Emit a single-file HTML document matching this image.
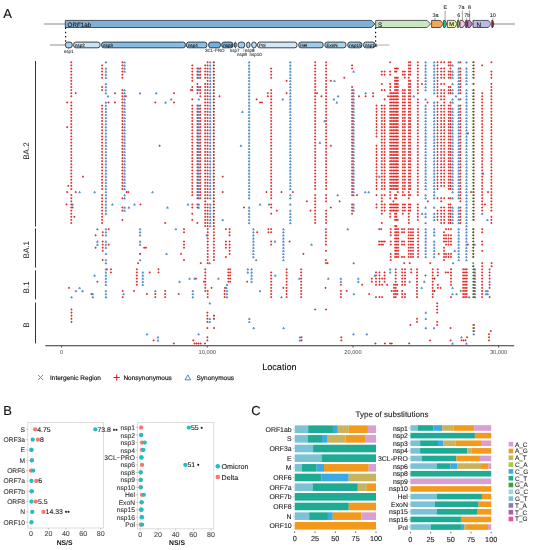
<!DOCTYPE html>
<html><head><meta charset="utf-8"><style>
html,body{margin:0;padding:0;background:#fff;}
svg{display:block;font-family:"Liberation Sans", Arial, sans-serif;text-rendering:geometricPrecision;}
</style></head><body>
<svg width="534" height="550" viewBox="0 0 534 550">
<rect width="534" height="550" fill="#fff"/>
<text x="3.30" y="17.70" font-size="13" fill="#111" text-anchor="start" font-weight="normal"  stroke="#111" stroke-width="0.12">A</text>
<line x1="44" y1="24" x2="65.5" y2="24" stroke="#b5b5b5" stroke-width="1.6"/>
<line x1="493" y1="24" x2="515" y2="24" stroke="#b5b5b5" stroke-width="1.6"/>
<path d="M65.30,20.40 L371.50,20.40 L375.00,23.95 L371.50,27.50 L65.30,27.50 Z" fill="#7db1da" stroke="#262626" stroke-width="0.75" stroke-linejoin="round"/>
<path d="M375.70,20.40 L427.10,20.40 L430.60,23.95 L427.10,27.50 L375.70,27.50 Z" fill="#c9e7c1" stroke="#262626" stroke-width="0.75" stroke-linejoin="round"/>
<path d="M431.60,20.40 L440.40,20.40 L443.40,23.95 L440.40,27.50 L431.60,27.50 Z" fill="#f5a556" stroke="#262626" stroke-width="0.75" stroke-linejoin="round"/>
<path d="M443.60,20.40 L445.10,20.40 L446.60,23.95 L445.10,27.50 L443.60,27.50 Z" fill="#3cbfb8" stroke="#262626" stroke-width="0.75" stroke-linejoin="round"/>
<path d="M447.30,20.40 L454.70,20.40 L457.20,23.95 L454.70,27.50 L447.30,27.50 Z" fill="#eff0a8" stroke="#262626" stroke-width="0.75" stroke-linejoin="round"/>
<path d="M457.40,20.40 L458.40,20.40 L459.60,23.95 L458.40,27.50 L457.40,27.50 Z" fill="#86c84c" stroke="#262626" stroke-width="0.75" stroke-linejoin="round"/>
<path d="M460.00,20.40 L462.90,20.40 L465.40,23.95 L462.90,27.50 L460.00,27.50 Z" fill="#f3c3e3" stroke="#262626" stroke-width="0.75" stroke-linejoin="round"/>
<path d="M465.70,20.40 L466.60,20.40 L467.60,23.95 L466.60,27.50 L465.70,27.50 Z" fill="#9a3a7a" stroke="#262626" stroke-width="0.75" stroke-linejoin="round"/>
<path d="M467.70,20.40 L469.90,20.40 L472.40,23.95 L469.90,27.50 L467.70,27.50 Z" fill="#c47ed2" stroke="#262626" stroke-width="0.75" stroke-linejoin="round"/>
<path d="M473.00,20.40 L488.30,20.40 L491.30,23.95 L488.30,27.50 L473.00,27.50 Z" fill="#bab8e4" stroke="#262626" stroke-width="0.75" stroke-linejoin="round"/>
<path d="M491.80,20.40 L492.80,20.40 L493.80,23.95 L492.80,27.50 L491.80,27.50 Z" fill="#a8263a" stroke="#262626" stroke-width="0.75" stroke-linejoin="round"/>
<text x="67.50" y="26.90" font-size="6.3" fill="#1a1a1a" text-anchor="start" font-weight="normal"  stroke="#1a1a1a" stroke-width="0.12">ORF1ab</text>
<text x="378.00" y="26.60" font-size="6.3" fill="#1a1a1a" text-anchor="start" font-weight="normal"  stroke="#1a1a1a" stroke-width="0.12">S</text>
<text x="449.30" y="26.40" font-size="5.8" fill="#1a1a1a" text-anchor="start" font-weight="normal"  stroke="#1a1a1a" stroke-width="0.12">M</text>
<text x="476.60" y="26.60" font-size="6.3" fill="#1a1a1a" text-anchor="start" font-weight="normal"  stroke="#1a1a1a" stroke-width="0.12">N</text>
<text x="432.40" y="16.80" font-size="5.4" fill="#333" text-anchor="start" font-weight="normal"  stroke="#333" stroke-width="0.12">3a</text>
<text x="443.40" y="9.00" font-size="5.4" fill="#333" text-anchor="start" font-weight="normal"  stroke="#333" stroke-width="0.12">E</text>
<text x="458.40" y="9.00" font-size="5.4" fill="#333" text-anchor="start" font-weight="normal"  stroke="#333" stroke-width="0.12">7a</text>
<text x="468.00" y="9.00" font-size="5.4" fill="#333" text-anchor="start" font-weight="normal"  stroke="#333" stroke-width="0.12">8</text>
<text x="457.20" y="16.80" font-size="5.4" fill="#333" text-anchor="start" font-weight="normal"  stroke="#333" stroke-width="0.12">6</text>
<text x="464.20" y="16.80" font-size="5.4" fill="#333" text-anchor="start" font-weight="normal"  stroke="#333" stroke-width="0.12">7b</text>
<text x="489.80" y="16.80" font-size="5.4" fill="#333" text-anchor="start" font-weight="normal"  stroke="#333" stroke-width="0.12">10</text>
<line x1="445.1" y1="10.5" x2="445.1" y2="20.4" stroke="#333" stroke-width="0.45"/>
<line x1="462.4" y1="10.5" x2="462.4" y2="20.4" stroke="#333" stroke-width="0.45"/>
<line x1="469.6" y1="10.5" x2="469.6" y2="20.4" stroke="#333" stroke-width="0.45"/>
<line x1="435" y1="17.8" x2="435" y2="20.4" stroke="#333" stroke-width="0.45"/>
<line x1="458.5" y1="17.8" x2="458.5" y2="20.4" stroke="#333" stroke-width="0.45"/>
<line x1="466.6" y1="17.8" x2="466.6" y2="20.4" stroke="#333" stroke-width="0.45"/>
<line x1="492.8" y1="17.8" x2="492.8" y2="20.4" stroke="#333" stroke-width="0.45"/>
<line x1="65.6" y1="27.6" x2="65.6" y2="42" stroke="#111" stroke-width="1.2" stroke-dasharray="1.5,2.7"/>
<line x1="375.6" y1="27.6" x2="375.6" y2="42" stroke="#111" stroke-width="1.2" stroke-dasharray="1.5,2.7"/>
<line x1="50" y1="45" x2="65.3" y2="45" stroke="#b5b5b5" stroke-width="1.5"/>
<line x1="375.5" y1="45" x2="389.5" y2="45" stroke="#c8c8c8" stroke-width="1.5"/>
<rect x="65.40" y="42.1" width="6.90" height="5.70" rx="2.2" ry="2.6" fill="#a6d0ee" stroke="#222" stroke-width="0.85"/>
<rect x="73.60" y="42.1" width="26.50" height="5.70" rx="2.2" ry="2.6" fill="#c8e2f6" stroke="#222" stroke-width="0.85"/>
<text x="75.10" y="46.50" font-size="4.5" fill="#1a1a1a" text-anchor="start" font-weight="normal"  stroke="#1a1a1a" stroke-width="0.12">nsp2</text>
<rect x="101.50" y="42.1" width="83.90" height="5.70" rx="2.2" ry="2.6" fill="#84bde6" stroke="#222" stroke-width="0.85"/>
<text x="103.00" y="46.50" font-size="4.5" fill="#1a1a1a" text-anchor="start" font-weight="normal"  stroke="#1a1a1a" stroke-width="0.12">nsp3</text>
<rect x="186.40" y="42.1" width="20.50" height="5.70" rx="2.2" ry="2.6" fill="#88c0e8" stroke="#222" stroke-width="0.85"/>
<text x="187.90" y="46.50" font-size="4.5" fill="#1a1a1a" text-anchor="start" font-weight="normal"  stroke="#1a1a1a" stroke-width="0.12">nsp4</text>
<rect x="208.60" y="42.1" width="11.90" height="5.70" rx="2.2" ry="2.6" fill="#6fb0e4" stroke="#222" stroke-width="0.85"/>
<rect x="221.70" y="42.1" width="11.40" height="5.70" rx="2.2" ry="2.6" fill="#70b0e2" stroke="#222" stroke-width="0.85"/>
<text x="223.20" y="46.50" font-size="4.5" fill="#1a1a1a" text-anchor="start" font-weight="normal"  stroke="#1a1a1a" stroke-width="0.12">nsp6</text>
<rect x="234.40" y="42.1" width="1.90" height="5.70" rx="2.2" ry="2.6" fill="#6fb0e4" stroke="#222" stroke-width="0.85"/>
<rect x="238.00" y="42.1" width="6.80" height="5.70" rx="2.2" ry="2.6" fill="#9cc8ec" stroke="#222" stroke-width="0.85"/>
<rect x="246.60" y="42.1" width="3.40" height="5.70" rx="2.2" ry="2.6" fill="#a6d0ee" stroke="#222" stroke-width="0.85"/>
<rect x="251.60" y="42.1" width="4.80" height="5.70" rx="2.2" ry="2.6" fill="#b6dbf4" stroke="#222" stroke-width="0.85"/>
<rect x="257.50" y="42.1" width="39.50" height="5.70" rx="2.2" ry="2.6" fill="#d2e8f8" stroke="#222" stroke-width="0.85"/>
<text x="259.00" y="46.50" font-size="4.5" fill="#1a1a1a" text-anchor="start" font-weight="normal"  stroke="#1a1a1a" stroke-width="0.12">Pol</text>
<rect x="298.70" y="42.1" width="24.50" height="5.70" rx="2.2" ry="2.6" fill="#9ccbee" stroke="#222" stroke-width="0.85"/>
<text x="300.20" y="46.50" font-size="4.5" fill="#1a1a1a" text-anchor="start" font-weight="normal"  stroke="#1a1a1a" stroke-width="0.12">Hel</text>
<rect x="324.90" y="42.1" width="21.10" height="5.70" rx="2.2" ry="2.6" fill="#a9d4f0" stroke="#222" stroke-width="0.85"/>
<text x="326.40" y="46.50" font-size="4.5" fill="#1a1a1a" text-anchor="start" font-weight="normal"  stroke="#1a1a1a" stroke-width="0.12">ExoN</text>
<rect x="347.70" y="42.1" width="14.30" height="5.70" rx="2.2" ry="2.6" fill="#9cc8ec" stroke="#222" stroke-width="0.85"/>
<text x="349.20" y="46.50" font-size="4.5" fill="#1a1a1a" text-anchor="start" font-weight="normal"  stroke="#1a1a1a" stroke-width="0.12">nsp15</text>
<rect x="363.50" y="42.1" width="11.60" height="5.70" rx="2.2" ry="2.6" fill="#a8d0ee" stroke="#222" stroke-width="0.85"/>
<text x="365.00" y="46.50" font-size="4.5" fill="#1a1a1a" text-anchor="start" font-weight="normal"  stroke="#1a1a1a" stroke-width="0.12">nsp16</text>
<text x="63.80" y="52.70" font-size="4.5" fill="#444" text-anchor="start" font-weight="normal"  stroke="#444" stroke-width="0.12">nsp1</text>
<text x="205.00" y="52.20" font-size="4.5" fill="#444" text-anchor="start" font-weight="normal"  stroke="#444" stroke-width="0.12">3CL-PRO</text>
<text x="229.80" y="52.20" font-size="4.5" fill="#444" text-anchor="start" font-weight="normal"  stroke="#444" stroke-width="0.12">nsp7</text>
<text x="244.80" y="52.20" font-size="4.5" fill="#444" text-anchor="start" font-weight="normal"  stroke="#444" stroke-width="0.12">nsp9</text>
<text x="237.00" y="55.90" font-size="4.5" fill="#444" text-anchor="start" font-weight="normal"  stroke="#444" stroke-width="0.12">nsp8</text>
<text x="249.40" y="55.90" font-size="4.5" fill="#444" text-anchor="start" font-weight="normal"  stroke="#444" stroke-width="0.12">nsp10</text>
<line x1="243.8" y1="47.8" x2="243.8" y2="52.0" stroke="#444" stroke-width="0.4"/><line x1="68.6" y1="47.8" x2="68.6" y2="49.3" stroke="#333" stroke-width="0.4"/>
<line x1="253.6" y1="47.8" x2="253.6" y2="52.0" stroke="#444" stroke-width="0.4"/>
<line x1="35.5" y1="61.0" x2="35.5" y2="226.6" stroke="#333" stroke-width="1"/>
<text x="29.2" y="151.0" font-size="8.1" fill="#222" text-anchor="middle" transform="rotate(-90 29.2 151.0)">BA.2</text>
<line x1="35.5" y1="228.4" x2="35.5" y2="267.6" stroke="#333" stroke-width="1"/>
<text x="29.2" y="249.7" font-size="8.1" fill="#222" text-anchor="middle" transform="rotate(-90 29.2 249.7)">BA.1</text>
<line x1="35.5" y1="270.3" x2="35.5" y2="299.3" stroke="#333" stroke-width="1"/>
<text x="29.2" y="287.3" font-size="8.1" fill="#222" text-anchor="middle" transform="rotate(-90 29.2 287.3)">B.1</text>
<line x1="35.5" y1="302.6" x2="35.5" y2="343.4" stroke="#333" stroke-width="1"/>
<text x="29.2" y="325.0" font-size="8.1" fill="#222" text-anchor="middle" transform="rotate(-90 29.2 325.0)">B</text>
<line x1="45.3" y1="345.8" x2="514.2" y2="345.8" stroke="#333" stroke-width="1.1"/>
<line x1="61.6" y1="345.8" x2="61.6" y2="347.6" stroke="#333" stroke-width="0.8"/>
<text x="61.60" y="353.50" font-size="5.7" fill="#5a5a5a" text-anchor="middle" font-weight="normal"  stroke="#5a5a5a" stroke-width="0.05">0</text>
<line x1="207.3" y1="345.8" x2="207.3" y2="347.6" stroke="#333" stroke-width="0.8"/>
<text x="207.30" y="353.50" font-size="5.7" fill="#5a5a5a" text-anchor="middle" font-weight="normal"  stroke="#5a5a5a" stroke-width="0.05">10,000</text>
<line x1="353.0" y1="345.8" x2="353.0" y2="347.6" stroke="#333" stroke-width="0.8"/>
<text x="353.00" y="353.50" font-size="5.7" fill="#5a5a5a" text-anchor="middle" font-weight="normal"  stroke="#5a5a5a" stroke-width="0.05">20,000</text>
<line x1="498.6" y1="345.8" x2="498.6" y2="347.6" stroke="#333" stroke-width="0.8"/>
<text x="498.60" y="353.50" font-size="5.7" fill="#5a5a5a" text-anchor="middle" font-weight="normal"  stroke="#5a5a5a" stroke-width="0.05">30,000</text>
<text x="279.40" y="370.30" font-size="9.1" fill="#111" text-anchor="middle" font-weight="normal"  stroke="#111" stroke-width="0.12">Location</text>
<g stroke="#4daf4a" stroke-width="1.0"><line x1="38.0" y1="374.9" x2="43.2" y2="380.1"/><line x1="43.2" y1="374.9" x2="38.0" y2="380.1"/></g>
<text x="50.00" y="379.70" font-size="6.5" fill="#111" text-anchor="start" font-weight="normal" stroke="#111" stroke-width="0.15">Intergenic Region</text>
<g stroke="#e41a1c" stroke-width="1.0"><line x1="116.7" y1="374.4" x2="116.7" y2="380.6"/><line x1="113.6" y1="377.5" x2="119.8" y2="377.5"/></g>
<text x="123.40" y="379.70" font-size="6.5" fill="#111" text-anchor="start" font-weight="normal" stroke="#111" stroke-width="0.15">Nonsynonymous</text>
<path d="M187.8,374.9 L190.6,379.8 L185.0,379.8 Z" fill="none" stroke="#377eb8" stroke-width="0.9"/>
<text x="196.50" y="379.70" font-size="6.5" fill="#111" text-anchor="start" font-weight="normal" stroke="#111" stroke-width="0.15">Synonymous</text>
<path d="M70.35,62.30h1.90M71.30,61.35v1.90M70.35,65.39h1.90M71.30,64.44v1.90M70.35,68.48h1.90M71.30,67.53v1.90M70.35,71.57h1.90M71.30,70.62v1.90M70.35,74.66h1.90M71.30,73.71v1.90M70.35,77.75h1.90M71.30,76.80v1.90M70.35,80.84h1.90M71.30,79.89v1.90M70.35,83.93h1.90M71.30,82.98v1.90M70.35,87.02h1.90M71.30,86.07v1.90M70.35,90.11h1.90M71.30,89.16v1.90M70.35,93.20h1.90M71.30,92.25v1.90M70.35,96.29h1.90M71.30,95.34v1.90M70.35,102.47h1.90M71.30,101.52v1.90M70.35,105.56h1.90M71.30,104.61v1.90M70.35,108.65h1.90M71.30,107.70v1.90M70.35,111.74h1.90M71.30,110.79v1.90M70.35,114.83h1.90M71.30,113.88v1.90M70.35,117.92h1.90M71.30,116.97v1.90M70.35,121.01h1.90M71.30,120.06v1.90M70.35,124.10h1.90M71.30,123.15v1.90M70.35,127.19h1.90M71.30,126.24v1.90M70.35,130.28h1.90M71.30,129.33v1.90M70.35,133.37h1.90M71.30,132.42v1.90M70.35,136.46h1.90M71.30,135.51v1.90M70.35,139.55h1.90M71.30,138.60v1.90M70.35,142.64h1.90M71.30,141.69v1.90M70.35,145.73h1.90M71.30,144.78v1.90M70.35,148.82h1.90M71.30,147.87v1.90M70.35,151.91h1.90M71.30,150.96v1.90M70.35,155.00h1.90M71.30,154.05v1.90M70.35,158.09h1.90M71.30,157.14v1.90M70.35,161.18h1.90M71.30,160.23v1.90M70.35,164.27h1.90M71.30,163.32v1.90M70.35,167.36h1.90M71.30,166.41v1.90M70.35,170.45h1.90M71.30,169.50v1.90M70.35,173.54h1.90M71.30,172.59v1.90M70.35,176.63h1.90M71.30,175.68v1.90M70.35,179.72h1.90M71.30,178.77v1.90M70.35,182.81h1.90M71.30,181.86v1.90M70.35,185.90h1.90M71.30,184.95v1.90M70.35,188.99h1.90M71.30,188.04v1.90M70.35,195.17h1.90M71.30,194.22v1.90M70.35,198.26h1.90M71.30,197.31v1.90M70.35,201.35h1.90M71.30,200.40v1.90M70.35,204.44h1.90M71.30,203.49v1.90M70.35,207.53h1.90M71.30,206.58v1.90M70.35,210.62h1.90M71.30,209.67v1.90M70.35,213.71h1.90M71.30,212.76v1.90M70.35,216.80h1.90M71.30,215.85v1.90M70.35,219.89h1.90M71.30,218.94v1.90M70.35,222.98h1.90M71.30,222.03v1.90M66.25,102.47h1.90M67.20,101.52v1.90M66.25,127.19h1.90M67.20,126.24v1.90M66.25,192.08h1.90M67.20,191.13v1.90M74.75,93.20h1.90M75.70,92.25v1.90M74.75,192.08h1.90M75.70,191.13v1.90M67.35,185.90h1.90M68.30,184.95v1.90M82.05,176.63h1.90M83.00,175.68v1.90M65.55,204.44h1.90M66.50,203.49v1.90M71.65,207.53h1.90M72.60,206.58v1.90M73.45,216.80h1.90M74.40,215.85v1.90M101.15,65.39h1.90M102.10,64.44v1.90M101.15,68.48h1.90M102.10,67.53v1.90M101.15,71.57h1.90M102.10,70.62v1.90M101.15,74.66h1.90M102.10,73.71v1.90M101.15,77.75h1.90M102.10,76.80v1.90M101.15,87.02h1.90M102.10,86.07v1.90M101.15,90.11h1.90M102.10,89.16v1.90M101.15,105.56h1.90M102.10,104.61v1.90M101.15,108.65h1.90M102.10,107.70v1.90M101.15,111.74h1.90M102.10,110.79v1.90M101.15,114.83h1.90M102.10,113.88v1.90M101.15,117.92h1.90M102.10,116.97v1.90M101.15,121.01h1.90M102.10,120.06v1.90M101.15,124.10h1.90M102.10,123.15v1.90M101.15,127.19h1.90M102.10,126.24v1.90M101.15,130.28h1.90M102.10,129.33v1.90M101.15,133.37h1.90M102.10,132.42v1.90M101.15,136.46h1.90M102.10,135.51v1.90M101.15,139.55h1.90M102.10,138.60v1.90M101.15,142.64h1.90M102.10,141.69v1.90M101.15,145.73h1.90M102.10,144.78v1.90M101.15,148.82h1.90M102.10,147.87v1.90M101.15,151.91h1.90M102.10,150.96v1.90M101.15,155.00h1.90M102.10,154.05v1.90M101.15,158.09h1.90M102.10,157.14v1.90M101.15,161.18h1.90M102.10,160.23v1.90M101.15,164.27h1.90M102.10,163.32v1.90M101.15,167.36h1.90M102.10,166.41v1.90M101.15,170.45h1.90M102.10,169.50v1.90M101.15,173.54h1.90M102.10,172.59v1.90M101.15,176.63h1.90M102.10,175.68v1.90M101.15,179.72h1.90M102.10,178.77v1.90M101.15,182.81h1.90M102.10,181.86v1.90M101.15,185.90h1.90M102.10,184.95v1.90M101.15,188.99h1.90M102.10,188.04v1.90M101.15,195.17h1.90M102.10,194.22v1.90M101.15,198.26h1.90M102.10,197.31v1.90M101.15,201.35h1.90M102.10,200.40v1.90M101.15,204.44h1.90M102.10,203.49v1.90M101.15,207.53h1.90M102.10,206.58v1.90M101.15,210.62h1.90M102.10,209.67v1.90M101.15,213.71h1.90M102.10,212.76v1.90M101.15,216.80h1.90M102.10,215.85v1.90M101.15,219.89h1.90M102.10,218.94v1.90M101.15,222.98h1.90M102.10,222.03v1.90M107.55,102.47h1.90M108.50,101.52v1.90M114.05,93.20h1.90M115.00,92.25v1.90M114.05,102.47h1.90M115.00,101.52v1.90M121.45,62.30h1.90M122.40,61.35v1.90M121.45,65.39h1.90M122.40,64.44v1.90M121.45,68.48h1.90M122.40,67.53v1.90M121.45,71.57h1.90M122.40,70.62v1.90M121.45,74.66h1.90M122.40,73.71v1.90M121.45,77.75h1.90M122.40,76.80v1.90M121.45,90.11h1.90M122.40,89.16v1.90M121.45,93.20h1.90M122.40,92.25v1.90M121.45,96.29h1.90M122.40,95.34v1.90M121.45,99.38h1.90M122.40,98.43v1.90M121.45,102.47h1.90M122.40,101.52v1.90M121.45,105.56h1.90M122.40,104.61v1.90M121.45,108.65h1.90M122.40,107.70v1.90M121.45,111.74h1.90M122.40,110.79v1.90M121.45,114.83h1.90M122.40,113.88v1.90M121.45,117.92h1.90M122.40,116.97v1.90M121.45,121.01h1.90M122.40,120.06v1.90M121.45,124.10h1.90M122.40,123.15v1.90M121.45,127.19h1.90M122.40,126.24v1.90M121.45,130.28h1.90M122.40,129.33v1.90M121.45,133.37h1.90M122.40,132.42v1.90M121.45,136.46h1.90M122.40,135.51v1.90M121.45,139.55h1.90M122.40,138.60v1.90M121.45,142.64h1.90M122.40,141.69v1.90M121.45,145.73h1.90M122.40,144.78v1.90M121.45,148.82h1.90M122.40,147.87v1.90M121.45,151.91h1.90M122.40,150.96v1.90M121.45,155.00h1.90M122.40,154.05v1.90M121.45,158.09h1.90M122.40,157.14v1.90M121.45,161.18h1.90M122.40,160.23v1.90M121.45,164.27h1.90M122.40,163.32v1.90M121.45,167.36h1.90M122.40,166.41v1.90M121.45,170.45h1.90M122.40,169.50v1.90M121.45,173.54h1.90M122.40,172.59v1.90M121.45,176.63h1.90M122.40,175.68v1.90M121.45,179.72h1.90M122.40,178.77v1.90M121.45,182.81h1.90M122.40,181.86v1.90M121.45,185.90h1.90M122.40,184.95v1.90M121.45,188.99h1.90M122.40,188.04v1.90M121.45,198.26h1.90M122.40,197.31v1.90M121.45,207.53h1.90M122.40,206.58v1.90M121.45,210.62h1.90M122.40,209.67v1.90M121.45,219.89h1.90M122.40,218.94v1.90M124.85,96.29h1.90M125.80,95.34v1.90M125.55,192.08h1.90M126.50,191.13v1.90M127.35,192.08h1.90M128.30,191.13v1.90M139.55,204.44h1.90M140.50,203.49v1.90M154.35,102.47h1.90M155.30,101.52v1.90M173.05,93.20h1.90M174.00,92.25v1.90M173.05,102.47h1.90M174.00,101.52v1.90M158.65,145.73h1.90M159.60,144.78v1.90M164.25,222.98h1.90M165.20,222.03v1.90M242.95,207.53h1.90M243.90,206.58v1.90M191.35,65.39h1.90M192.30,64.44v1.90M191.35,68.48h1.90M192.30,67.53v1.90M191.35,71.57h1.90M192.30,70.62v1.90M191.35,74.66h1.90M192.30,73.71v1.90M191.35,77.75h1.90M192.30,76.80v1.90M191.35,80.84h1.90M192.30,79.89v1.90M191.35,87.02h1.90M192.30,86.07v1.90M191.35,90.11h1.90M192.30,89.16v1.90M191.35,99.38h1.90M192.30,98.43v1.90M191.35,105.56h1.90M192.30,104.61v1.90M191.35,108.65h1.90M192.30,107.70v1.90M191.35,111.74h1.90M192.30,110.79v1.90M191.35,114.83h1.90M192.30,113.88v1.90M191.35,117.92h1.90M192.30,116.97v1.90M191.35,121.01h1.90M192.30,120.06v1.90M191.35,124.10h1.90M192.30,123.15v1.90M191.35,127.19h1.90M192.30,126.24v1.90M191.35,130.28h1.90M192.30,129.33v1.90M191.35,133.37h1.90M192.30,132.42v1.90M191.35,136.46h1.90M192.30,135.51v1.90M191.35,139.55h1.90M192.30,138.60v1.90M191.35,142.64h1.90M192.30,141.69v1.90M191.35,145.73h1.90M192.30,144.78v1.90M191.35,148.82h1.90M192.30,147.87v1.90M191.35,151.91h1.90M192.30,150.96v1.90M191.35,155.00h1.90M192.30,154.05v1.90M191.35,158.09h1.90M192.30,157.14v1.90M191.35,161.18h1.90M192.30,160.23v1.90M191.35,164.27h1.90M192.30,163.32v1.90M191.35,167.36h1.90M192.30,166.41v1.90M191.35,170.45h1.90M192.30,169.50v1.90M191.35,173.54h1.90M192.30,172.59v1.90M191.35,176.63h1.90M192.30,175.68v1.90M191.35,179.72h1.90M192.30,178.77v1.90M191.35,182.81h1.90M192.30,181.86v1.90M191.35,185.90h1.90M192.30,184.95v1.90M191.35,188.99h1.90M192.30,188.04v1.90M191.35,192.08h1.90M192.30,191.13v1.90M191.35,195.17h1.90M192.30,194.22v1.90M191.35,204.44h1.90M192.30,203.49v1.90M191.35,207.53h1.90M192.30,206.58v1.90M191.35,213.71h1.90M192.30,212.76v1.90M191.35,219.89h1.90M192.30,218.94v1.90M189.95,90.11h1.90M190.90,89.16v1.90M196.45,68.48h1.90M197.40,67.53v1.90M196.45,71.57h1.90M197.40,70.62v1.90M196.45,74.66h1.90M197.40,73.71v1.90M196.45,77.75h1.90M197.40,76.80v1.90M196.45,83.93h1.90M197.40,82.98v1.90M196.45,87.02h1.90M197.40,86.07v1.90M196.45,90.11h1.90M197.40,89.16v1.90M196.45,93.20h1.90M197.40,92.25v1.90M196.45,105.56h1.90M197.40,104.61v1.90M196.45,108.65h1.90M197.40,107.70v1.90M196.45,111.74h1.90M197.40,110.79v1.90M196.45,114.83h1.90M197.40,113.88v1.90M196.45,117.92h1.90M197.40,116.97v1.90M196.45,121.01h1.90M197.40,120.06v1.90M196.45,124.10h1.90M197.40,123.15v1.90M196.45,127.19h1.90M197.40,126.24v1.90M196.45,130.28h1.90M197.40,129.33v1.90M196.45,133.37h1.90M197.40,132.42v1.90M196.45,136.46h1.90M197.40,135.51v1.90M196.45,139.55h1.90M197.40,138.60v1.90M196.45,142.64h1.90M197.40,141.69v1.90M196.45,145.73h1.90M197.40,144.78v1.90M196.45,148.82h1.90M197.40,147.87v1.90M196.45,151.91h1.90M197.40,150.96v1.90M196.45,155.00h1.90M197.40,154.05v1.90M196.45,158.09h1.90M197.40,157.14v1.90M196.45,161.18h1.90M197.40,160.23v1.90M196.45,164.27h1.90M197.40,163.32v1.90M196.45,167.36h1.90M197.40,166.41v1.90M196.45,170.45h1.90M197.40,169.50v1.90M196.45,173.54h1.90M197.40,172.59v1.90M196.45,176.63h1.90M197.40,175.68v1.90M196.45,179.72h1.90M197.40,178.77v1.90M196.45,182.81h1.90M197.40,181.86v1.90M196.45,185.90h1.90M197.40,184.95v1.90M196.45,188.99h1.90M197.40,188.04v1.90M196.45,192.08h1.90M197.40,191.13v1.90M196.45,195.17h1.90M197.40,194.22v1.90M196.45,198.26h1.90M197.40,197.31v1.90M196.45,204.44h1.90M197.40,203.49v1.90M196.45,207.53h1.90M197.40,206.58v1.90M196.45,222.98h1.90M197.40,222.03v1.90M199.35,68.48h1.90M200.30,67.53v1.90M199.35,71.57h1.90M200.30,70.62v1.90M199.35,74.66h1.90M200.30,73.71v1.90M199.35,77.75h1.90M200.30,76.80v1.90M199.35,87.02h1.90M200.30,86.07v1.90M199.35,90.11h1.90M200.30,89.16v1.90M199.35,93.20h1.90M200.30,92.25v1.90M199.35,96.29h1.90M200.30,95.34v1.90M199.35,105.56h1.90M200.30,104.61v1.90M199.35,108.65h1.90M200.30,107.70v1.90M199.35,111.74h1.90M200.30,110.79v1.90M199.35,114.83h1.90M200.30,113.88v1.90M199.35,117.92h1.90M200.30,116.97v1.90M199.35,121.01h1.90M200.30,120.06v1.90M199.35,124.10h1.90M200.30,123.15v1.90M199.35,127.19h1.90M200.30,126.24v1.90M199.35,130.28h1.90M200.30,129.33v1.90M199.35,133.37h1.90M200.30,132.42v1.90M199.35,136.46h1.90M200.30,135.51v1.90M199.35,139.55h1.90M200.30,138.60v1.90M199.35,142.64h1.90M200.30,141.69v1.90M199.35,145.73h1.90M200.30,144.78v1.90M199.35,148.82h1.90M200.30,147.87v1.90M199.35,151.91h1.90M200.30,150.96v1.90M199.35,155.00h1.90M200.30,154.05v1.90M199.35,158.09h1.90M200.30,157.14v1.90M199.35,161.18h1.90M200.30,160.23v1.90M199.35,164.27h1.90M200.30,163.32v1.90M199.35,167.36h1.90M200.30,166.41v1.90M199.35,170.45h1.90M200.30,169.50v1.90M199.35,173.54h1.90M200.30,172.59v1.90M199.35,176.63h1.90M200.30,175.68v1.90M199.35,179.72h1.90M200.30,178.77v1.90M199.35,182.81h1.90M200.30,181.86v1.90M199.35,185.90h1.90M200.30,184.95v1.90M199.35,188.99h1.90M200.30,188.04v1.90M199.35,192.08h1.90M200.30,191.13v1.90M199.35,195.17h1.90M200.30,194.22v1.90M199.35,198.26h1.90M200.30,197.31v1.90M204.25,65.39h1.90M205.20,64.44v1.90M204.25,68.48h1.90M205.20,67.53v1.90M204.25,71.57h1.90M205.20,70.62v1.90M204.25,74.66h1.90M205.20,73.71v1.90M204.25,77.75h1.90M205.20,76.80v1.90M204.25,83.93h1.90M205.20,82.98v1.90M204.25,87.02h1.90M205.20,86.07v1.90M204.25,90.11h1.90M205.20,89.16v1.90M204.25,93.20h1.90M205.20,92.25v1.90M204.25,96.29h1.90M205.20,95.34v1.90M204.25,99.38h1.90M205.20,98.43v1.90M204.25,102.47h1.90M205.20,101.52v1.90M204.25,105.56h1.90M205.20,104.61v1.90M204.25,108.65h1.90M205.20,107.70v1.90M204.25,111.74h1.90M205.20,110.79v1.90M204.25,114.83h1.90M205.20,113.88v1.90M204.25,117.92h1.90M205.20,116.97v1.90M204.25,121.01h1.90M205.20,120.06v1.90M204.25,124.10h1.90M205.20,123.15v1.90M204.25,127.19h1.90M205.20,126.24v1.90M204.25,130.28h1.90M205.20,129.33v1.90M204.25,133.37h1.90M205.20,132.42v1.90M204.25,136.46h1.90M205.20,135.51v1.90M204.25,139.55h1.90M205.20,138.60v1.90M204.25,142.64h1.90M205.20,141.69v1.90M204.25,145.73h1.90M205.20,144.78v1.90M204.25,148.82h1.90M205.20,147.87v1.90M204.25,151.91h1.90M205.20,150.96v1.90M204.25,155.00h1.90M205.20,154.05v1.90M204.25,158.09h1.90M205.20,157.14v1.90M204.25,161.18h1.90M205.20,160.23v1.90M204.25,164.27h1.90M205.20,163.32v1.90M204.25,167.36h1.90M205.20,166.41v1.90M204.25,170.45h1.90M205.20,169.50v1.90M204.25,173.54h1.90M205.20,172.59v1.90M204.25,176.63h1.90M205.20,175.68v1.90M204.25,179.72h1.90M205.20,178.77v1.90M204.25,182.81h1.90M205.20,181.86v1.90M204.25,185.90h1.90M205.20,184.95v1.90M204.25,188.99h1.90M205.20,188.04v1.90M204.25,192.08h1.90M205.20,191.13v1.90M204.25,195.17h1.90M205.20,194.22v1.90M204.25,198.26h1.90M205.20,197.31v1.90M204.25,201.35h1.90M205.20,200.40v1.90M204.25,204.44h1.90M205.20,203.49v1.90M204.25,207.53h1.90M205.20,206.58v1.90M204.25,210.62h1.90M205.20,209.67v1.90M204.25,213.71h1.90M205.20,212.76v1.90M204.25,216.80h1.90M205.20,215.85v1.90M204.25,219.89h1.90M205.20,218.94v1.90M204.25,222.98h1.90M205.20,222.03v1.90M204.25,226.07h1.90M205.20,225.12v1.90M206.65,62.30h1.90M207.60,61.35v1.90M206.65,65.39h1.90M207.60,64.44v1.90M206.65,68.48h1.90M207.60,67.53v1.90M206.65,71.57h1.90M207.60,70.62v1.90M206.65,74.66h1.90M207.60,73.71v1.90M206.65,77.75h1.90M207.60,76.80v1.90M206.65,80.84h1.90M207.60,79.89v1.90M206.65,83.93h1.90M207.60,82.98v1.90M206.65,87.02h1.90M207.60,86.07v1.90M206.65,90.11h1.90M207.60,89.16v1.90M206.65,93.20h1.90M207.60,92.25v1.90M206.65,96.29h1.90M207.60,95.34v1.90M206.65,99.38h1.90M207.60,98.43v1.90M206.65,102.47h1.90M207.60,101.52v1.90M206.65,105.56h1.90M207.60,104.61v1.90M206.65,108.65h1.90M207.60,107.70v1.90M206.65,111.74h1.90M207.60,110.79v1.90M206.65,114.83h1.90M207.60,113.88v1.90M206.65,117.92h1.90M207.60,116.97v1.90M206.65,121.01h1.90M207.60,120.06v1.90M206.65,124.10h1.90M207.60,123.15v1.90M206.65,127.19h1.90M207.60,126.24v1.90M206.65,130.28h1.90M207.60,129.33v1.90M206.65,133.37h1.90M207.60,132.42v1.90M206.65,136.46h1.90M207.60,135.51v1.90M206.65,139.55h1.90M207.60,138.60v1.90M206.65,142.64h1.90M207.60,141.69v1.90M206.65,145.73h1.90M207.60,144.78v1.90M206.65,148.82h1.90M207.60,147.87v1.90M206.65,151.91h1.90M207.60,150.96v1.90M206.65,155.00h1.90M207.60,154.05v1.90M206.65,158.09h1.90M207.60,157.14v1.90M206.65,161.18h1.90M207.60,160.23v1.90M206.65,164.27h1.90M207.60,163.32v1.90M206.65,167.36h1.90M207.60,166.41v1.90M206.65,170.45h1.90M207.60,169.50v1.90M206.65,173.54h1.90M207.60,172.59v1.90M206.65,176.63h1.90M207.60,175.68v1.90M206.65,179.72h1.90M207.60,178.77v1.90M206.65,182.81h1.90M207.60,181.86v1.90M206.65,185.90h1.90M207.60,184.95v1.90M206.65,188.99h1.90M207.60,188.04v1.90M206.65,192.08h1.90M207.60,191.13v1.90M206.65,195.17h1.90M207.60,194.22v1.90M206.65,198.26h1.90M207.60,197.31v1.90M206.65,204.44h1.90M207.60,203.49v1.90M206.65,207.53h1.90M207.60,206.58v1.90M206.65,210.62h1.90M207.60,209.67v1.90M206.65,213.71h1.90M207.60,212.76v1.90M206.65,216.80h1.90M207.60,215.85v1.90M206.65,219.89h1.90M207.60,218.94v1.90M206.65,222.98h1.90M207.60,222.03v1.90M206.65,226.07h1.90M207.60,225.12v1.90M218.55,96.29h1.90M219.50,95.34v1.90M221.75,176.63h1.90M222.70,175.68v1.90M221.75,192.08h1.90M222.70,191.13v1.90M270.25,68.48h1.90M271.20,67.53v1.90M270.25,71.57h1.90M271.20,70.62v1.90M270.25,74.66h1.90M271.20,73.71v1.90M270.25,77.75h1.90M271.20,76.80v1.90M270.25,90.11h1.90M271.20,89.16v1.90M270.25,93.20h1.90M271.20,92.25v1.90M270.25,96.29h1.90M271.20,95.34v1.90M270.25,99.38h1.90M271.20,98.43v1.90M270.25,102.47h1.90M271.20,101.52v1.90M270.25,105.56h1.90M271.20,104.61v1.90M270.25,108.65h1.90M271.20,107.70v1.90M270.25,111.74h1.90M271.20,110.79v1.90M270.25,114.83h1.90M271.20,113.88v1.90M270.25,117.92h1.90M271.20,116.97v1.90M270.25,121.01h1.90M271.20,120.06v1.90M270.25,124.10h1.90M271.20,123.15v1.90M270.25,127.19h1.90M271.20,126.24v1.90M270.25,130.28h1.90M271.20,129.33v1.90M270.25,133.37h1.90M271.20,132.42v1.90M270.25,136.46h1.90M271.20,135.51v1.90M270.25,139.55h1.90M271.20,138.60v1.90M270.25,142.64h1.90M271.20,141.69v1.90M270.25,145.73h1.90M271.20,144.78v1.90M270.25,148.82h1.90M271.20,147.87v1.90M270.25,151.91h1.90M271.20,150.96v1.90M270.25,155.00h1.90M271.20,154.05v1.90M270.25,158.09h1.90M271.20,157.14v1.90M270.25,161.18h1.90M271.20,160.23v1.90M270.25,164.27h1.90M271.20,163.32v1.90M270.25,167.36h1.90M271.20,166.41v1.90M270.25,170.45h1.90M271.20,169.50v1.90M270.25,173.54h1.90M271.20,172.59v1.90M270.25,176.63h1.90M271.20,175.68v1.90M270.25,179.72h1.90M271.20,178.77v1.90M270.25,182.81h1.90M271.20,181.86v1.90M270.25,185.90h1.90M271.20,184.95v1.90M270.25,188.99h1.90M271.20,188.04v1.90M270.25,192.08h1.90M271.20,191.13v1.90M270.25,195.17h1.90M271.20,194.22v1.90M270.25,198.26h1.90M271.20,197.31v1.90M270.25,204.44h1.90M271.20,203.49v1.90M270.25,207.53h1.90M271.20,206.58v1.90M270.25,213.71h1.90M271.20,212.76v1.90M266.85,93.20h1.90M267.80,92.25v1.90M266.85,96.29h1.90M267.80,95.34v1.90M255.65,99.38h1.90M256.60,98.43v1.90M259.05,102.47h1.90M260.00,101.52v1.90M261.05,102.47h1.90M262.00,101.52v1.90M285.65,80.84h1.90M286.60,79.89v1.90M285.65,93.20h1.90M286.60,92.25v1.90M314.25,62.30h1.90M315.20,61.35v1.90M314.25,65.39h1.90M315.20,64.44v1.90M314.25,68.48h1.90M315.20,67.53v1.90M314.25,71.57h1.90M315.20,70.62v1.90M314.25,74.66h1.90M315.20,73.71v1.90M314.25,77.75h1.90M315.20,76.80v1.90M314.25,80.84h1.90M315.20,79.89v1.90M314.25,83.93h1.90M315.20,82.98v1.90M314.25,87.02h1.90M315.20,86.07v1.90M314.25,90.11h1.90M315.20,89.16v1.90M314.25,93.20h1.90M315.20,92.25v1.90M314.25,96.29h1.90M315.20,95.34v1.90M314.25,99.38h1.90M315.20,98.43v1.90M314.25,102.47h1.90M315.20,101.52v1.90M314.25,105.56h1.90M315.20,104.61v1.90M314.25,108.65h1.90M315.20,107.70v1.90M314.25,111.74h1.90M315.20,110.79v1.90M314.25,114.83h1.90M315.20,113.88v1.90M314.25,117.92h1.90M315.20,116.97v1.90M314.25,121.01h1.90M315.20,120.06v1.90M314.25,124.10h1.90M315.20,123.15v1.90M314.25,127.19h1.90M315.20,126.24v1.90M314.25,130.28h1.90M315.20,129.33v1.90M314.25,133.37h1.90M315.20,132.42v1.90M314.25,136.46h1.90M315.20,135.51v1.90M314.25,139.55h1.90M315.20,138.60v1.90M314.25,142.64h1.90M315.20,141.69v1.90M314.25,145.73h1.90M315.20,144.78v1.90M314.25,148.82h1.90M315.20,147.87v1.90M314.25,151.91h1.90M315.20,150.96v1.90M314.25,155.00h1.90M315.20,154.05v1.90M314.25,158.09h1.90M315.20,157.14v1.90M314.25,161.18h1.90M315.20,160.23v1.90M314.25,164.27h1.90M315.20,163.32v1.90M314.25,167.36h1.90M315.20,166.41v1.90M314.25,170.45h1.90M315.20,169.50v1.90M314.25,173.54h1.90M315.20,172.59v1.90M314.25,176.63h1.90M315.20,175.68v1.90M314.25,179.72h1.90M315.20,178.77v1.90M314.25,182.81h1.90M315.20,181.86v1.90M314.25,185.90h1.90M315.20,184.95v1.90M314.25,188.99h1.90M315.20,188.04v1.90M314.25,195.17h1.90M315.20,194.22v1.90M314.25,198.26h1.90M315.20,197.31v1.90M314.25,201.35h1.90M315.20,200.40v1.90M314.25,204.44h1.90M315.20,203.49v1.90M314.25,207.53h1.90M315.20,206.58v1.90M314.25,210.62h1.90M315.20,209.67v1.90M314.25,213.71h1.90M315.20,212.76v1.90M314.25,216.80h1.90M315.20,215.85v1.90M314.25,219.89h1.90M315.20,218.94v1.90M314.25,222.98h1.90M315.20,222.03v1.90M316.15,93.20h1.90M317.10,92.25v1.90M320.45,96.29h1.90M321.40,95.34v1.90M325.15,62.30h1.90M326.10,61.35v1.90M325.15,65.39h1.90M326.10,64.44v1.90M325.15,68.48h1.90M326.10,67.53v1.90M325.15,71.57h1.90M326.10,70.62v1.90M325.15,74.66h1.90M326.10,73.71v1.90M325.15,77.75h1.90M326.10,76.80v1.90M325.15,80.84h1.90M326.10,79.89v1.90M325.15,83.93h1.90M326.10,82.98v1.90M325.15,87.02h1.90M326.10,86.07v1.90M325.15,90.11h1.90M326.10,89.16v1.90M325.15,93.20h1.90M326.10,92.25v1.90M325.15,96.29h1.90M326.10,95.34v1.90M325.15,99.38h1.90M326.10,98.43v1.90M325.15,102.47h1.90M326.10,101.52v1.90M325.15,105.56h1.90M326.10,104.61v1.90M325.15,108.65h1.90M326.10,107.70v1.90M325.15,111.74h1.90M326.10,110.79v1.90M325.15,114.83h1.90M326.10,113.88v1.90M325.15,117.92h1.90M326.10,116.97v1.90M325.15,121.01h1.90M326.10,120.06v1.90M325.15,124.10h1.90M326.10,123.15v1.90M325.15,127.19h1.90M326.10,126.24v1.90M325.15,130.28h1.90M326.10,129.33v1.90M325.15,133.37h1.90M326.10,132.42v1.90M325.15,136.46h1.90M326.10,135.51v1.90M325.15,139.55h1.90M326.10,138.60v1.90M325.15,142.64h1.90M326.10,141.69v1.90M325.15,145.73h1.90M326.10,144.78v1.90M325.15,148.82h1.90M326.10,147.87v1.90M325.15,151.91h1.90M326.10,150.96v1.90M325.15,155.00h1.90M326.10,154.05v1.90M325.15,158.09h1.90M326.10,157.14v1.90M325.15,161.18h1.90M326.10,160.23v1.90M325.15,164.27h1.90M326.10,163.32v1.90M325.15,167.36h1.90M326.10,166.41v1.90M325.15,170.45h1.90M326.10,169.50v1.90M325.15,173.54h1.90M326.10,172.59v1.90M325.15,176.63h1.90M326.10,175.68v1.90M325.15,179.72h1.90M326.10,178.77v1.90M325.15,182.81h1.90M326.10,181.86v1.90M325.15,185.90h1.90M326.10,184.95v1.90M325.15,188.99h1.90M326.10,188.04v1.90M325.15,195.17h1.90M326.10,194.22v1.90M325.15,198.26h1.90M326.10,197.31v1.90M325.15,201.35h1.90M326.10,200.40v1.90M325.15,210.62h1.90M326.10,209.67v1.90M325.15,213.71h1.90M326.10,212.76v1.90M325.15,216.80h1.90M326.10,215.85v1.90M325.15,219.89h1.90M326.10,218.94v1.90M325.15,222.98h1.90M326.10,222.03v1.90M329.85,80.84h1.90M330.80,79.89v1.90M329.85,145.73h1.90M330.80,144.78v1.90M329.85,207.53h1.90M330.80,206.58v1.90M343.35,77.75h1.90M344.30,76.80v1.90M265.55,192.08h1.90M266.50,191.13v1.90M280.55,192.08h1.90M281.50,191.13v1.90M291.85,192.08h1.90M292.80,191.13v1.90M275.85,210.62h1.90M276.80,209.67v1.90M305.85,201.35h1.90M306.80,200.40v1.90M309.55,210.62h1.90M310.50,209.67v1.90M338.65,201.35h1.90M339.60,200.40v1.90M351.15,65.39h1.90M352.10,64.44v1.90M351.15,68.48h1.90M352.10,67.53v1.90M351.15,87.02h1.90M352.10,86.07v1.90M351.15,90.11h1.90M352.10,89.16v1.90M351.15,93.20h1.90M352.10,92.25v1.90M351.15,96.29h1.90M352.10,95.34v1.90M351.15,99.38h1.90M352.10,98.43v1.90M351.15,102.47h1.90M352.10,101.52v1.90M351.15,105.56h1.90M352.10,104.61v1.90M351.15,108.65h1.90M352.10,107.70v1.90M351.15,111.74h1.90M352.10,110.79v1.90M351.15,114.83h1.90M352.10,113.88v1.90M351.15,117.92h1.90M352.10,116.97v1.90M351.15,121.01h1.90M352.10,120.06v1.90M351.15,124.10h1.90M352.10,123.15v1.90M351.15,127.19h1.90M352.10,126.24v1.90M351.15,130.28h1.90M352.10,129.33v1.90M351.15,133.37h1.90M352.10,132.42v1.90M351.15,136.46h1.90M352.10,135.51v1.90M351.15,139.55h1.90M352.10,138.60v1.90M351.15,142.64h1.90M352.10,141.69v1.90M351.15,145.73h1.90M352.10,144.78v1.90M351.15,148.82h1.90M352.10,147.87v1.90M351.15,151.91h1.90M352.10,150.96v1.90M351.15,155.00h1.90M352.10,154.05v1.90M351.15,158.09h1.90M352.10,157.14v1.90M351.15,161.18h1.90M352.10,160.23v1.90M351.15,164.27h1.90M352.10,163.32v1.90M351.15,167.36h1.90M352.10,166.41v1.90M351.15,170.45h1.90M352.10,169.50v1.90M351.15,173.54h1.90M352.10,172.59v1.90M351.15,176.63h1.90M352.10,175.68v1.90M351.15,179.72h1.90M352.10,178.77v1.90M351.15,182.81h1.90M352.10,181.86v1.90M351.15,185.90h1.90M352.10,184.95v1.90M351.15,188.99h1.90M352.10,188.04v1.90M351.15,192.08h1.90M352.10,191.13v1.90M351.15,195.17h1.90M352.10,194.22v1.90M351.15,204.44h1.90M352.10,203.49v1.90M351.15,207.53h1.90M352.10,206.58v1.90M351.15,210.62h1.90M352.10,209.67v1.90M351.15,213.71h1.90M352.10,212.76v1.90M356.05,195.17h1.90M357.00,194.22v1.90M358.05,96.29h1.90M359.00,95.34v1.90M364.65,96.29h1.90M365.60,95.34v1.90M372.15,93.20h1.90M373.10,92.25v1.90M372.15,96.29h1.90M373.10,95.34v1.90M375.55,105.56h1.90M376.50,104.61v1.90M375.55,108.65h1.90M376.50,107.70v1.90M375.55,111.74h1.90M376.50,110.79v1.90M375.55,114.83h1.90M376.50,113.88v1.90M375.55,117.92h1.90M376.50,116.97v1.90M375.55,121.01h1.90M376.50,120.06v1.90M375.55,124.10h1.90M376.50,123.15v1.90M375.55,127.19h1.90M376.50,126.24v1.90M375.55,130.28h1.90M376.50,129.33v1.90M375.55,133.37h1.90M376.50,132.42v1.90M375.55,136.46h1.90M376.50,135.51v1.90M375.55,145.73h1.90M376.50,144.78v1.90M375.55,148.82h1.90M376.50,147.87v1.90M375.55,151.91h1.90M376.50,150.96v1.90M375.55,155.00h1.90M376.50,154.05v1.90M375.55,158.09h1.90M376.50,157.14v1.90M375.55,161.18h1.90M376.50,160.23v1.90M375.55,164.27h1.90M376.50,163.32v1.90M375.55,167.36h1.90M376.50,166.41v1.90M375.55,170.45h1.90M376.50,169.50v1.90M375.55,173.54h1.90M376.50,172.59v1.90M375.55,176.63h1.90M376.50,175.68v1.90M375.55,179.72h1.90M376.50,178.77v1.90M375.55,182.81h1.90M376.50,181.86v1.90M375.55,185.90h1.90M376.50,184.95v1.90M375.55,188.99h1.90M376.50,188.04v1.90M375.55,195.17h1.90M376.50,194.22v1.90M375.55,204.44h1.90M376.50,203.49v1.90M375.55,207.53h1.90M376.50,206.58v1.90M380.85,71.57h1.90M381.80,70.62v1.90M380.85,74.66h1.90M381.80,73.71v1.90M380.85,83.93h1.90M381.80,82.98v1.90M380.85,90.11h1.90M381.80,89.16v1.90M380.85,105.56h1.90M381.80,104.61v1.90M380.85,108.65h1.90M381.80,107.70v1.90M380.85,111.74h1.90M381.80,110.79v1.90M380.85,114.83h1.90M381.80,113.88v1.90M380.85,117.92h1.90M381.80,116.97v1.90M380.85,121.01h1.90M381.80,120.06v1.90M380.85,124.10h1.90M381.80,123.15v1.90M380.85,127.19h1.90M381.80,126.24v1.90M380.85,130.28h1.90M381.80,129.33v1.90M380.85,133.37h1.90M381.80,132.42v1.90M380.85,136.46h1.90M381.80,135.51v1.90M380.85,139.55h1.90M381.80,138.60v1.90M380.85,142.64h1.90M381.80,141.69v1.90M380.85,145.73h1.90M381.80,144.78v1.90M380.85,148.82h1.90M381.80,147.87v1.90M380.85,151.91h1.90M381.80,150.96v1.90M380.85,155.00h1.90M381.80,154.05v1.90M380.85,158.09h1.90M381.80,157.14v1.90M380.85,161.18h1.90M381.80,160.23v1.90M380.85,164.27h1.90M381.80,163.32v1.90M380.85,167.36h1.90M381.80,166.41v1.90M380.85,170.45h1.90M381.80,169.50v1.90M380.85,173.54h1.90M381.80,172.59v1.90M380.85,176.63h1.90M381.80,175.68v1.90M380.85,179.72h1.90M381.80,178.77v1.90M380.85,182.81h1.90M381.80,181.86v1.90M380.85,185.90h1.90M381.80,184.95v1.90M380.85,188.99h1.90M381.80,188.04v1.90M380.85,195.17h1.90M381.80,194.22v1.90M380.85,198.26h1.90M381.80,197.31v1.90M380.85,201.35h1.90M381.80,200.40v1.90M380.85,204.44h1.90M381.80,203.49v1.90M380.85,207.53h1.90M381.80,206.58v1.90M380.85,210.62h1.90M381.80,209.67v1.90M380.85,213.71h1.90M381.80,212.76v1.90M380.85,222.98h1.90M381.80,222.03v1.90M383.65,71.57h1.90M384.60,70.62v1.90M383.65,74.66h1.90M384.60,73.71v1.90M383.65,90.11h1.90M384.60,89.16v1.90M383.65,99.38h1.90M384.60,98.43v1.90M383.65,105.56h1.90M384.60,104.61v1.90M383.65,108.65h1.90M384.60,107.70v1.90M383.65,111.74h1.90M384.60,110.79v1.90M383.65,114.83h1.90M384.60,113.88v1.90M383.65,117.92h1.90M384.60,116.97v1.90M383.65,121.01h1.90M384.60,120.06v1.90M383.65,124.10h1.90M384.60,123.15v1.90M383.65,127.19h1.90M384.60,126.24v1.90M383.65,130.28h1.90M384.60,129.33v1.90M383.65,133.37h1.90M384.60,132.42v1.90M383.65,136.46h1.90M384.60,135.51v1.90M383.65,139.55h1.90M384.60,138.60v1.90M383.65,142.64h1.90M384.60,141.69v1.90M383.65,145.73h1.90M384.60,144.78v1.90M383.65,148.82h1.90M384.60,147.87v1.90M383.65,151.91h1.90M384.60,150.96v1.90M383.65,155.00h1.90M384.60,154.05v1.90M383.65,158.09h1.90M384.60,157.14v1.90M383.65,161.18h1.90M384.60,160.23v1.90M383.65,164.27h1.90M384.60,163.32v1.90M383.65,167.36h1.90M384.60,166.41v1.90M383.65,170.45h1.90M384.60,169.50v1.90M383.65,173.54h1.90M384.60,172.59v1.90M383.65,176.63h1.90M384.60,175.68v1.90M383.65,179.72h1.90M384.60,178.77v1.90M383.65,182.81h1.90M384.60,181.86v1.90M383.65,185.90h1.90M384.60,184.95v1.90M383.65,188.99h1.90M384.60,188.04v1.90M383.65,195.17h1.90M384.60,194.22v1.90M383.65,204.44h1.90M384.60,203.49v1.90M383.65,207.53h1.90M384.60,206.58v1.90M383.65,210.62h1.90M384.60,209.67v1.90M387.05,96.29h1.90M388.00,95.34v1.90M389.25,62.30h1.90M390.20,61.35v1.90M389.25,71.57h1.90M390.20,70.62v1.90M389.25,74.66h1.90M390.20,73.71v1.90M389.25,83.93h1.90M390.20,82.98v1.90M389.25,87.02h1.90M390.20,86.07v1.90M389.25,90.11h1.90M390.20,89.16v1.90M389.25,93.20h1.90M390.20,92.25v1.90M389.25,96.29h1.90M390.20,95.34v1.90M389.25,99.38h1.90M390.20,98.43v1.90M389.25,102.47h1.90M390.20,101.52v1.90M389.25,105.56h1.90M390.20,104.61v1.90M389.25,108.65h1.90M390.20,107.70v1.90M389.25,111.74h1.90M390.20,110.79v1.90M389.25,114.83h1.90M390.20,113.88v1.90M389.25,117.92h1.90M390.20,116.97v1.90M389.25,121.01h1.90M390.20,120.06v1.90M389.25,124.10h1.90M390.20,123.15v1.90M389.25,127.19h1.90M390.20,126.24v1.90M389.25,130.28h1.90M390.20,129.33v1.90M389.25,133.37h1.90M390.20,132.42v1.90M389.25,136.46h1.90M390.20,135.51v1.90M389.25,139.55h1.90M390.20,138.60v1.90M389.25,142.64h1.90M390.20,141.69v1.90M389.25,145.73h1.90M390.20,144.78v1.90M389.25,148.82h1.90M390.20,147.87v1.90M389.25,151.91h1.90M390.20,150.96v1.90M389.25,155.00h1.90M390.20,154.05v1.90M389.25,158.09h1.90M390.20,157.14v1.90M389.25,161.18h1.90M390.20,160.23v1.90M389.25,164.27h1.90M390.20,163.32v1.90M389.25,167.36h1.90M390.20,166.41v1.90M389.25,170.45h1.90M390.20,169.50v1.90M389.25,173.54h1.90M390.20,172.59v1.90M389.25,176.63h1.90M390.20,175.68v1.90M389.25,179.72h1.90M390.20,178.77v1.90M389.25,182.81h1.90M390.20,181.86v1.90M389.25,185.90h1.90M390.20,184.95v1.90M389.25,188.99h1.90M390.20,188.04v1.90M389.25,192.08h1.90M390.20,191.13v1.90M389.25,195.17h1.90M390.20,194.22v1.90M389.25,198.26h1.90M390.20,197.31v1.90M389.25,204.44h1.90M390.20,203.49v1.90M389.25,207.53h1.90M390.20,206.58v1.90M389.25,210.62h1.90M390.20,209.67v1.90M389.25,213.71h1.90M390.20,212.76v1.90M389.25,216.80h1.90M390.20,215.85v1.90M390.85,93.20h1.90M391.80,92.25v1.90M390.85,96.29h1.90M391.80,95.34v1.90M390.85,99.38h1.90M391.80,98.43v1.90M390.85,102.47h1.90M391.80,101.52v1.90M390.85,105.56h1.90M391.80,104.61v1.90M390.85,108.65h1.90M391.80,107.70v1.90M390.85,111.74h1.90M391.80,110.79v1.90M390.85,114.83h1.90M391.80,113.88v1.90M390.85,117.92h1.90M391.80,116.97v1.90M390.85,121.01h1.90M391.80,120.06v1.90M390.85,124.10h1.90M391.80,123.15v1.90M390.85,127.19h1.90M391.80,126.24v1.90M390.85,130.28h1.90M391.80,129.33v1.90M390.85,133.37h1.90M391.80,132.42v1.90M390.85,136.46h1.90M391.80,135.51v1.90M390.85,139.55h1.90M391.80,138.60v1.90M390.85,142.64h1.90M391.80,141.69v1.90M390.85,145.73h1.90M391.80,144.78v1.90M390.85,148.82h1.90M391.80,147.87v1.90M390.85,151.91h1.90M391.80,150.96v1.90M390.85,155.00h1.90M391.80,154.05v1.90M390.85,158.09h1.90M391.80,157.14v1.90M390.85,161.18h1.90M391.80,160.23v1.90M390.85,164.27h1.90M391.80,163.32v1.90M390.85,167.36h1.90M391.80,166.41v1.90M390.85,170.45h1.90M391.80,169.50v1.90M390.85,173.54h1.90M391.80,172.59v1.90M390.85,176.63h1.90M391.80,175.68v1.90M390.85,179.72h1.90M391.80,178.77v1.90M390.85,182.81h1.90M391.80,181.86v1.90M390.85,185.90h1.90M391.80,184.95v1.90M390.85,188.99h1.90M391.80,188.04v1.90M390.85,204.44h1.90M391.80,203.49v1.90M390.85,207.53h1.90M391.80,206.58v1.90M390.85,210.62h1.90M391.80,209.67v1.90M392.45,93.20h1.90M393.40,92.25v1.90M392.45,96.29h1.90M393.40,95.34v1.90M392.45,99.38h1.90M393.40,98.43v1.90M392.45,102.47h1.90M393.40,101.52v1.90M392.45,105.56h1.90M393.40,104.61v1.90M392.45,108.65h1.90M393.40,107.70v1.90M392.45,111.74h1.90M393.40,110.79v1.90M392.45,114.83h1.90M393.40,113.88v1.90M392.45,117.92h1.90M393.40,116.97v1.90M392.45,121.01h1.90M393.40,120.06v1.90M392.45,124.10h1.90M393.40,123.15v1.90M392.45,127.19h1.90M393.40,126.24v1.90M392.45,130.28h1.90M393.40,129.33v1.90M392.45,133.37h1.90M393.40,132.42v1.90M392.45,136.46h1.90M393.40,135.51v1.90M392.45,139.55h1.90M393.40,138.60v1.90M392.45,142.64h1.90M393.40,141.69v1.90M392.45,145.73h1.90M393.40,144.78v1.90M392.45,148.82h1.90M393.40,147.87v1.90M392.45,151.91h1.90M393.40,150.96v1.90M392.45,155.00h1.90M393.40,154.05v1.90M392.45,158.09h1.90M393.40,157.14v1.90M392.45,161.18h1.90M393.40,160.23v1.90M392.45,164.27h1.90M393.40,163.32v1.90M392.45,167.36h1.90M393.40,166.41v1.90M392.45,170.45h1.90M393.40,169.50v1.90M392.45,173.54h1.90M393.40,172.59v1.90M392.45,176.63h1.90M393.40,175.68v1.90M392.45,179.72h1.90M393.40,178.77v1.90M392.45,182.81h1.90M393.40,181.86v1.90M392.45,185.90h1.90M393.40,184.95v1.90M392.45,188.99h1.90M393.40,188.04v1.90M392.45,201.35h1.90M393.40,200.40v1.90M392.45,204.44h1.90M393.40,203.49v1.90M392.45,207.53h1.90M393.40,206.58v1.90M392.45,210.62h1.90M393.40,209.67v1.90M394.05,68.48h1.90M395.00,67.53v1.90M394.05,71.57h1.90M395.00,70.62v1.90M394.05,77.75h1.90M395.00,76.80v1.90M394.05,80.84h1.90M395.00,79.89v1.90M394.05,83.93h1.90M395.00,82.98v1.90M394.05,87.02h1.90M395.00,86.07v1.90M394.05,90.11h1.90M395.00,89.16v1.90M394.05,93.20h1.90M395.00,92.25v1.90M394.05,96.29h1.90M395.00,95.34v1.90M394.05,99.38h1.90M395.00,98.43v1.90M394.05,102.47h1.90M395.00,101.52v1.90M394.05,105.56h1.90M395.00,104.61v1.90M394.05,108.65h1.90M395.00,107.70v1.90M394.05,111.74h1.90M395.00,110.79v1.90M394.05,114.83h1.90M395.00,113.88v1.90M394.05,117.92h1.90M395.00,116.97v1.90M394.05,121.01h1.90M395.00,120.06v1.90M394.05,124.10h1.90M395.00,123.15v1.90M394.05,127.19h1.90M395.00,126.24v1.90M394.05,130.28h1.90M395.00,129.33v1.90M394.05,133.37h1.90M395.00,132.42v1.90M394.05,136.46h1.90M395.00,135.51v1.90M394.05,139.55h1.90M395.00,138.60v1.90M394.05,142.64h1.90M395.00,141.69v1.90M394.05,145.73h1.90M395.00,144.78v1.90M394.05,148.82h1.90M395.00,147.87v1.90M394.05,151.91h1.90M395.00,150.96v1.90M394.05,155.00h1.90M395.00,154.05v1.90M394.05,158.09h1.90M395.00,157.14v1.90M394.05,161.18h1.90M395.00,160.23v1.90M394.05,164.27h1.90M395.00,163.32v1.90M394.05,167.36h1.90M395.00,166.41v1.90M394.05,170.45h1.90M395.00,169.50v1.90M394.05,173.54h1.90M395.00,172.59v1.90M394.05,176.63h1.90M395.00,175.68v1.90M394.05,179.72h1.90M395.00,178.77v1.90M394.05,182.81h1.90M395.00,181.86v1.90M394.05,185.90h1.90M395.00,184.95v1.90M394.05,188.99h1.90M395.00,188.04v1.90M394.05,195.17h1.90M395.00,194.22v1.90M394.05,198.26h1.90M395.00,197.31v1.90M394.05,204.44h1.90M395.00,203.49v1.90M394.05,207.53h1.90M395.00,206.58v1.90M394.05,210.62h1.90M395.00,209.67v1.90M394.05,213.71h1.90M395.00,212.76v1.90M394.05,216.80h1.90M395.00,215.85v1.90M394.05,219.89h1.90M395.00,218.94v1.90M395.45,68.48h1.90M396.40,67.53v1.90M395.45,71.57h1.90M396.40,70.62v1.90M395.45,77.75h1.90M396.40,76.80v1.90M395.45,80.84h1.90M396.40,79.89v1.90M395.45,83.93h1.90M396.40,82.98v1.90M395.45,87.02h1.90M396.40,86.07v1.90M395.45,90.11h1.90M396.40,89.16v1.90M395.45,93.20h1.90M396.40,92.25v1.90M395.45,96.29h1.90M396.40,95.34v1.90M395.45,99.38h1.90M396.40,98.43v1.90M395.45,102.47h1.90M396.40,101.52v1.90M395.45,105.56h1.90M396.40,104.61v1.90M395.45,108.65h1.90M396.40,107.70v1.90M395.45,111.74h1.90M396.40,110.79v1.90M395.45,114.83h1.90M396.40,113.88v1.90M395.45,117.92h1.90M396.40,116.97v1.90M395.45,121.01h1.90M396.40,120.06v1.90M395.45,124.10h1.90M396.40,123.15v1.90M395.45,127.19h1.90M396.40,126.24v1.90M395.45,130.28h1.90M396.40,129.33v1.90M395.45,133.37h1.90M396.40,132.42v1.90M395.45,136.46h1.90M396.40,135.51v1.90M395.45,139.55h1.90M396.40,138.60v1.90M395.45,142.64h1.90M396.40,141.69v1.90M395.45,145.73h1.90M396.40,144.78v1.90M395.45,148.82h1.90M396.40,147.87v1.90M395.45,151.91h1.90M396.40,150.96v1.90M395.45,155.00h1.90M396.40,154.05v1.90M395.45,158.09h1.90M396.40,157.14v1.90M395.45,161.18h1.90M396.40,160.23v1.90M395.45,164.27h1.90M396.40,163.32v1.90M395.45,167.36h1.90M396.40,166.41v1.90M395.45,170.45h1.90M396.40,169.50v1.90M395.45,173.54h1.90M396.40,172.59v1.90M395.45,176.63h1.90M396.40,175.68v1.90M395.45,179.72h1.90M396.40,178.77v1.90M395.45,182.81h1.90M396.40,181.86v1.90M395.45,185.90h1.90M396.40,184.95v1.90M395.45,188.99h1.90M396.40,188.04v1.90M395.45,195.17h1.90M396.40,194.22v1.90M395.45,198.26h1.90M396.40,197.31v1.90M395.45,204.44h1.90M396.40,203.49v1.90M395.45,207.53h1.90M396.40,206.58v1.90M395.45,210.62h1.90M396.40,209.67v1.90M395.45,213.71h1.90M396.40,212.76v1.90M395.45,216.80h1.90M396.40,215.85v1.90M395.45,219.89h1.90M396.40,218.94v1.90M395.45,226.07h1.90M396.40,225.12v1.90M396.85,68.48h1.90M397.80,67.53v1.90M396.85,77.75h1.90M397.80,76.80v1.90M396.85,80.84h1.90M397.80,79.89v1.90M396.85,83.93h1.90M397.80,82.98v1.90M396.85,87.02h1.90M397.80,86.07v1.90M396.85,90.11h1.90M397.80,89.16v1.90M396.85,93.20h1.90M397.80,92.25v1.90M396.85,96.29h1.90M397.80,95.34v1.90M396.85,99.38h1.90M397.80,98.43v1.90M396.85,102.47h1.90M397.80,101.52v1.90M396.85,105.56h1.90M397.80,104.61v1.90M396.85,108.65h1.90M397.80,107.70v1.90M396.85,111.74h1.90M397.80,110.79v1.90M396.85,114.83h1.90M397.80,113.88v1.90M396.85,117.92h1.90M397.80,116.97v1.90M396.85,121.01h1.90M397.80,120.06v1.90M396.85,124.10h1.90M397.80,123.15v1.90M396.85,127.19h1.90M397.80,126.24v1.90M396.85,130.28h1.90M397.80,129.33v1.90M396.85,133.37h1.90M397.80,132.42v1.90M396.85,136.46h1.90M397.80,135.51v1.90M396.85,139.55h1.90M397.80,138.60v1.90M396.85,142.64h1.90M397.80,141.69v1.90M396.85,145.73h1.90M397.80,144.78v1.90M396.85,148.82h1.90M397.80,147.87v1.90M396.85,151.91h1.90M397.80,150.96v1.90M396.85,155.00h1.90M397.80,154.05v1.90M396.85,158.09h1.90M397.80,157.14v1.90M396.85,161.18h1.90M397.80,160.23v1.90M396.85,164.27h1.90M397.80,163.32v1.90M396.85,167.36h1.90M397.80,166.41v1.90M396.85,170.45h1.90M397.80,169.50v1.90M396.85,173.54h1.90M397.80,172.59v1.90M396.85,176.63h1.90M397.80,175.68v1.90M396.85,179.72h1.90M397.80,178.77v1.90M396.85,182.81h1.90M397.80,181.86v1.90M396.85,185.90h1.90M397.80,184.95v1.90M396.85,188.99h1.90M397.80,188.04v1.90M396.85,192.08h1.90M397.80,191.13v1.90M396.85,204.44h1.90M397.80,203.49v1.90M396.85,207.53h1.90M397.80,206.58v1.90M396.85,210.62h1.90M397.80,209.67v1.90M396.85,219.89h1.90M397.80,218.94v1.90M401.85,71.57h1.90M402.80,70.62v1.90M401.85,74.66h1.90M402.80,73.71v1.90M401.85,90.11h1.90M402.80,89.16v1.90M401.85,93.20h1.90M402.80,92.25v1.90M401.85,96.29h1.90M402.80,95.34v1.90M401.85,99.38h1.90M402.80,98.43v1.90M401.85,102.47h1.90M402.80,101.52v1.90M401.85,105.56h1.90M402.80,104.61v1.90M401.85,108.65h1.90M402.80,107.70v1.90M401.85,111.74h1.90M402.80,110.79v1.90M401.85,114.83h1.90M402.80,113.88v1.90M401.85,117.92h1.90M402.80,116.97v1.90M401.85,121.01h1.90M402.80,120.06v1.90M401.85,124.10h1.90M402.80,123.15v1.90M401.85,127.19h1.90M402.80,126.24v1.90M401.85,130.28h1.90M402.80,129.33v1.90M401.85,133.37h1.90M402.80,132.42v1.90M401.85,136.46h1.90M402.80,135.51v1.90M401.85,139.55h1.90M402.80,138.60v1.90M401.85,142.64h1.90M402.80,141.69v1.90M401.85,145.73h1.90M402.80,144.78v1.90M401.85,148.82h1.90M402.80,147.87v1.90M401.85,151.91h1.90M402.80,150.96v1.90M401.85,155.00h1.90M402.80,154.05v1.90M401.85,158.09h1.90M402.80,157.14v1.90M401.85,161.18h1.90M402.80,160.23v1.90M401.85,164.27h1.90M402.80,163.32v1.90M401.85,167.36h1.90M402.80,166.41v1.90M401.85,170.45h1.90M402.80,169.50v1.90M401.85,173.54h1.90M402.80,172.59v1.90M401.85,176.63h1.90M402.80,175.68v1.90M401.85,179.72h1.90M402.80,178.77v1.90M401.85,182.81h1.90M402.80,181.86v1.90M401.85,185.90h1.90M402.80,184.95v1.90M401.85,188.99h1.90M402.80,188.04v1.90M401.85,192.08h1.90M402.80,191.13v1.90M401.85,195.17h1.90M402.80,194.22v1.90M401.85,204.44h1.90M402.80,203.49v1.90M401.85,207.53h1.90M402.80,206.58v1.90M401.85,210.62h1.90M402.80,209.67v1.90M401.85,213.71h1.90M402.80,212.76v1.90M403.85,71.57h1.90M404.80,70.62v1.90M403.85,74.66h1.90M404.80,73.71v1.90M403.85,77.75h1.90M404.80,76.80v1.90M403.85,90.11h1.90M404.80,89.16v1.90M403.85,93.20h1.90M404.80,92.25v1.90M403.85,96.29h1.90M404.80,95.34v1.90M403.85,99.38h1.90M404.80,98.43v1.90M403.85,102.47h1.90M404.80,101.52v1.90M403.85,105.56h1.90M404.80,104.61v1.90M403.85,108.65h1.90M404.80,107.70v1.90M403.85,111.74h1.90M404.80,110.79v1.90M403.85,114.83h1.90M404.80,113.88v1.90M403.85,117.92h1.90M404.80,116.97v1.90M403.85,121.01h1.90M404.80,120.06v1.90M403.85,124.10h1.90M404.80,123.15v1.90M403.85,127.19h1.90M404.80,126.24v1.90M403.85,130.28h1.90M404.80,129.33v1.90M403.85,133.37h1.90M404.80,132.42v1.90M403.85,136.46h1.90M404.80,135.51v1.90M403.85,139.55h1.90M404.80,138.60v1.90M403.85,142.64h1.90M404.80,141.69v1.90M403.85,145.73h1.90M404.80,144.78v1.90M403.85,148.82h1.90M404.80,147.87v1.90M403.85,151.91h1.90M404.80,150.96v1.90M403.85,155.00h1.90M404.80,154.05v1.90M403.85,158.09h1.90M404.80,157.14v1.90M403.85,161.18h1.90M404.80,160.23v1.90M403.85,164.27h1.90M404.80,163.32v1.90M403.85,167.36h1.90M404.80,166.41v1.90M403.85,170.45h1.90M404.80,169.50v1.90M403.85,173.54h1.90M404.80,172.59v1.90M403.85,176.63h1.90M404.80,175.68v1.90M403.85,179.72h1.90M404.80,178.77v1.90M403.85,182.81h1.90M404.80,181.86v1.90M403.85,185.90h1.90M404.80,184.95v1.90M403.85,188.99h1.90M404.80,188.04v1.90M403.85,195.17h1.90M404.80,194.22v1.90M403.85,204.44h1.90M404.80,203.49v1.90M403.85,207.53h1.90M404.80,206.58v1.90M403.85,210.62h1.90M404.80,209.67v1.90M407.85,62.30h1.90M408.80,61.35v1.90M407.85,65.39h1.90M408.80,64.44v1.90M407.85,68.48h1.90M408.80,67.53v1.90M407.85,71.57h1.90M408.80,70.62v1.90M407.85,74.66h1.90M408.80,73.71v1.90M407.85,77.75h1.90M408.80,76.80v1.90M407.85,80.84h1.90M408.80,79.89v1.90M407.85,83.93h1.90M408.80,82.98v1.90M407.85,87.02h1.90M408.80,86.07v1.90M407.85,90.11h1.90M408.80,89.16v1.90M407.85,93.20h1.90M408.80,92.25v1.90M407.85,96.29h1.90M408.80,95.34v1.90M407.85,99.38h1.90M408.80,98.43v1.90M407.85,102.47h1.90M408.80,101.52v1.90M407.85,105.56h1.90M408.80,104.61v1.90M407.85,108.65h1.90M408.80,107.70v1.90M407.85,111.74h1.90M408.80,110.79v1.90M407.85,114.83h1.90M408.80,113.88v1.90M407.85,117.92h1.90M408.80,116.97v1.90M407.85,121.01h1.90M408.80,120.06v1.90M407.85,124.10h1.90M408.80,123.15v1.90M407.85,127.19h1.90M408.80,126.24v1.90M407.85,130.28h1.90M408.80,129.33v1.90M407.85,133.37h1.90M408.80,132.42v1.90M407.85,136.46h1.90M408.80,135.51v1.90M407.85,139.55h1.90M408.80,138.60v1.90M407.85,142.64h1.90M408.80,141.69v1.90M407.85,145.73h1.90M408.80,144.78v1.90M407.85,148.82h1.90M408.80,147.87v1.90M407.85,151.91h1.90M408.80,150.96v1.90M407.85,155.00h1.90M408.80,154.05v1.90M407.85,158.09h1.90M408.80,157.14v1.90M407.85,161.18h1.90M408.80,160.23v1.90M407.85,164.27h1.90M408.80,163.32v1.90M407.85,167.36h1.90M408.80,166.41v1.90M407.85,170.45h1.90M408.80,169.50v1.90M407.85,173.54h1.90M408.80,172.59v1.90M407.85,176.63h1.90M408.80,175.68v1.90M407.85,179.72h1.90M408.80,178.77v1.90M407.85,182.81h1.90M408.80,181.86v1.90M407.85,185.90h1.90M408.80,184.95v1.90M407.85,188.99h1.90M408.80,188.04v1.90M407.85,192.08h1.90M408.80,191.13v1.90M407.85,195.17h1.90M408.80,194.22v1.90M407.85,198.26h1.90M408.80,197.31v1.90M407.85,204.44h1.90M408.80,203.49v1.90M407.85,207.53h1.90M408.80,206.58v1.90M407.85,210.62h1.90M408.80,209.67v1.90M407.85,213.71h1.90M408.80,212.76v1.90M407.85,216.80h1.90M408.80,215.85v1.90M407.85,219.89h1.90M408.80,218.94v1.90M407.85,222.98h1.90M408.80,222.03v1.90M409.35,62.30h1.90M410.30,61.35v1.90M409.35,65.39h1.90M410.30,64.44v1.90M409.35,68.48h1.90M410.30,67.53v1.90M409.35,71.57h1.90M410.30,70.62v1.90M409.35,74.66h1.90M410.30,73.71v1.90M409.35,80.84h1.90M410.30,79.89v1.90M409.35,83.93h1.90M410.30,82.98v1.90M409.35,87.02h1.90M410.30,86.07v1.90M409.35,90.11h1.90M410.30,89.16v1.90M409.35,93.20h1.90M410.30,92.25v1.90M409.35,96.29h1.90M410.30,95.34v1.90M409.35,99.38h1.90M410.30,98.43v1.90M409.35,102.47h1.90M410.30,101.52v1.90M409.35,105.56h1.90M410.30,104.61v1.90M409.35,108.65h1.90M410.30,107.70v1.90M409.35,111.74h1.90M410.30,110.79v1.90M409.35,114.83h1.90M410.30,113.88v1.90M409.35,117.92h1.90M410.30,116.97v1.90M409.35,121.01h1.90M410.30,120.06v1.90M409.35,124.10h1.90M410.30,123.15v1.90M409.35,127.19h1.90M410.30,126.24v1.90M409.35,130.28h1.90M410.30,129.33v1.90M409.35,133.37h1.90M410.30,132.42v1.90M409.35,136.46h1.90M410.30,135.51v1.90M409.35,139.55h1.90M410.30,138.60v1.90M409.35,142.64h1.90M410.30,141.69v1.90M409.35,145.73h1.90M410.30,144.78v1.90M409.35,148.82h1.90M410.30,147.87v1.90M409.35,151.91h1.90M410.30,150.96v1.90M409.35,155.00h1.90M410.30,154.05v1.90M409.35,158.09h1.90M410.30,157.14v1.90M409.35,161.18h1.90M410.30,160.23v1.90M409.35,164.27h1.90M410.30,163.32v1.90M409.35,167.36h1.90M410.30,166.41v1.90M409.35,170.45h1.90M410.30,169.50v1.90M409.35,173.54h1.90M410.30,172.59v1.90M409.35,176.63h1.90M410.30,175.68v1.90M409.35,179.72h1.90M410.30,178.77v1.90M409.35,182.81h1.90M410.30,181.86v1.90M409.35,185.90h1.90M410.30,184.95v1.90M409.35,188.99h1.90M410.30,188.04v1.90M409.35,195.17h1.90M410.30,194.22v1.90M409.35,204.44h1.90M410.30,203.49v1.90M409.35,207.53h1.90M410.30,206.58v1.90M409.35,210.62h1.90M410.30,209.67v1.90M416.85,62.30h1.90M417.80,61.35v1.90M416.85,65.39h1.90M417.80,64.44v1.90M416.85,68.48h1.90M417.80,67.53v1.90M416.85,71.57h1.90M417.80,70.62v1.90M416.85,74.66h1.90M417.80,73.71v1.90M416.85,77.75h1.90M417.80,76.80v1.90M416.85,80.84h1.90M417.80,79.89v1.90M416.85,83.93h1.90M417.80,82.98v1.90M416.85,87.02h1.90M417.80,86.07v1.90M416.85,90.11h1.90M417.80,89.16v1.90M416.85,93.20h1.90M417.80,92.25v1.90M416.85,99.38h1.90M417.80,98.43v1.90M416.85,102.47h1.90M417.80,101.52v1.90M416.85,105.56h1.90M417.80,104.61v1.90M416.85,108.65h1.90M417.80,107.70v1.90M416.85,111.74h1.90M417.80,110.79v1.90M416.85,114.83h1.90M417.80,113.88v1.90M416.85,117.92h1.90M417.80,116.97v1.90M416.85,121.01h1.90M417.80,120.06v1.90M416.85,124.10h1.90M417.80,123.15v1.90M416.85,127.19h1.90M417.80,126.24v1.90M416.85,130.28h1.90M417.80,129.33v1.90M416.85,133.37h1.90M417.80,132.42v1.90M416.85,136.46h1.90M417.80,135.51v1.90M416.85,139.55h1.90M417.80,138.60v1.90M416.85,142.64h1.90M417.80,141.69v1.90M416.85,145.73h1.90M417.80,144.78v1.90M416.85,148.82h1.90M417.80,147.87v1.90M416.85,151.91h1.90M417.80,150.96v1.90M416.85,155.00h1.90M417.80,154.05v1.90M416.85,158.09h1.90M417.80,157.14v1.90M416.85,161.18h1.90M417.80,160.23v1.90M416.85,164.27h1.90M417.80,163.32v1.90M416.85,167.36h1.90M417.80,166.41v1.90M416.85,170.45h1.90M417.80,169.50v1.90M416.85,173.54h1.90M417.80,172.59v1.90M416.85,176.63h1.90M417.80,175.68v1.90M416.85,179.72h1.90M417.80,178.77v1.90M416.85,182.81h1.90M417.80,181.86v1.90M416.85,185.90h1.90M417.80,184.95v1.90M416.85,188.99h1.90M417.80,188.04v1.90M416.85,192.08h1.90M417.80,191.13v1.90M416.85,195.17h1.90M417.80,194.22v1.90M416.85,204.44h1.90M417.80,203.49v1.90M416.85,207.53h1.90M417.80,206.58v1.90M416.85,210.62h1.90M417.80,209.67v1.90M416.85,213.71h1.90M417.80,212.76v1.90M416.85,216.80h1.90M417.80,215.85v1.90M416.85,219.89h1.90M417.80,218.94v1.90M421.05,83.93h1.90M422.00,82.98v1.90M426.55,102.47h1.90M427.50,101.52v1.90M426.85,201.35h1.90M427.80,200.40v1.90M436.55,62.30h1.90M437.50,61.35v1.90M436.55,65.39h1.90M437.50,64.44v1.90M436.55,68.48h1.90M437.50,67.53v1.90M436.55,71.57h1.90M437.50,70.62v1.90M436.55,74.66h1.90M437.50,73.71v1.90M436.55,77.75h1.90M437.50,76.80v1.90M436.55,80.84h1.90M437.50,79.89v1.90M436.55,83.93h1.90M437.50,82.98v1.90M436.55,87.02h1.90M437.50,86.07v1.90M436.55,90.11h1.90M437.50,89.16v1.90M436.55,93.20h1.90M437.50,92.25v1.90M436.55,96.29h1.90M437.50,95.34v1.90M436.55,102.47h1.90M437.50,101.52v1.90M436.55,105.56h1.90M437.50,104.61v1.90M436.55,108.65h1.90M437.50,107.70v1.90M436.55,111.74h1.90M437.50,110.79v1.90M436.55,114.83h1.90M437.50,113.88v1.90M436.55,117.92h1.90M437.50,116.97v1.90M436.55,121.01h1.90M437.50,120.06v1.90M436.55,124.10h1.90M437.50,123.15v1.90M436.55,127.19h1.90M437.50,126.24v1.90M436.55,130.28h1.90M437.50,129.33v1.90M436.55,133.37h1.90M437.50,132.42v1.90M436.55,136.46h1.90M437.50,135.51v1.90M436.55,139.55h1.90M437.50,138.60v1.90M436.55,142.64h1.90M437.50,141.69v1.90M436.55,145.73h1.90M437.50,144.78v1.90M436.55,148.82h1.90M437.50,147.87v1.90M436.55,151.91h1.90M437.50,150.96v1.90M436.55,155.00h1.90M437.50,154.05v1.90M436.55,158.09h1.90M437.50,157.14v1.90M436.55,161.18h1.90M437.50,160.23v1.90M436.55,164.27h1.90M437.50,163.32v1.90M436.55,167.36h1.90M437.50,166.41v1.90M436.55,170.45h1.90M437.50,169.50v1.90M436.55,173.54h1.90M437.50,172.59v1.90M436.55,176.63h1.90M437.50,175.68v1.90M436.55,179.72h1.90M437.50,178.77v1.90M436.55,182.81h1.90M437.50,181.86v1.90M436.55,185.90h1.90M437.50,184.95v1.90M436.55,188.99h1.90M437.50,188.04v1.90M436.55,198.26h1.90M437.50,197.31v1.90M436.55,210.62h1.90M437.50,209.67v1.90M436.55,213.71h1.90M437.50,212.76v1.90M436.55,216.80h1.90M437.50,215.85v1.90M436.55,219.89h1.90M437.50,218.94v1.90M440.25,62.30h1.90M441.20,61.35v1.90M440.25,68.48h1.90M441.20,67.53v1.90M440.25,71.57h1.90M441.20,70.62v1.90M440.25,74.66h1.90M441.20,73.71v1.90M440.25,77.75h1.90M441.20,76.80v1.90M440.25,83.93h1.90M441.20,82.98v1.90M440.25,90.11h1.90M441.20,89.16v1.90M440.25,93.20h1.90M441.20,92.25v1.90M440.25,96.29h1.90M441.20,95.34v1.90M440.25,99.38h1.90M441.20,98.43v1.90M440.25,105.56h1.90M441.20,104.61v1.90M440.25,108.65h1.90M441.20,107.70v1.90M440.25,111.74h1.90M441.20,110.79v1.90M440.25,114.83h1.90M441.20,113.88v1.90M440.25,117.92h1.90M441.20,116.97v1.90M440.25,121.01h1.90M441.20,120.06v1.90M440.25,124.10h1.90M441.20,123.15v1.90M440.25,127.19h1.90M441.20,126.24v1.90M440.25,130.28h1.90M441.20,129.33v1.90M440.25,133.37h1.90M441.20,132.42v1.90M440.25,136.46h1.90M441.20,135.51v1.90M440.25,139.55h1.90M441.20,138.60v1.90M440.25,142.64h1.90M441.20,141.69v1.90M440.25,145.73h1.90M441.20,144.78v1.90M440.25,148.82h1.90M441.20,147.87v1.90M440.25,151.91h1.90M441.20,150.96v1.90M440.25,155.00h1.90M441.20,154.05v1.90M440.25,158.09h1.90M441.20,157.14v1.90M440.25,161.18h1.90M441.20,160.23v1.90M440.25,164.27h1.90M441.20,163.32v1.90M440.25,167.36h1.90M441.20,166.41v1.90M440.25,170.45h1.90M441.20,169.50v1.90M440.25,173.54h1.90M441.20,172.59v1.90M440.25,176.63h1.90M441.20,175.68v1.90M440.25,179.72h1.90M441.20,178.77v1.90M440.25,182.81h1.90M441.20,181.86v1.90M440.25,185.90h1.90M441.20,184.95v1.90M440.25,198.26h1.90M441.20,197.31v1.90M440.25,201.35h1.90M441.20,200.40v1.90M440.25,207.53h1.90M441.20,206.58v1.90M440.25,210.62h1.90M441.20,209.67v1.90M440.25,213.71h1.90M441.20,212.76v1.90M440.25,216.80h1.90M441.20,215.85v1.90M440.25,219.89h1.90M441.20,218.94v1.90M440.25,222.98h1.90M441.20,222.03v1.90M443.25,62.30h1.90M444.20,61.35v1.90M443.25,68.48h1.90M444.20,67.53v1.90M443.25,71.57h1.90M444.20,70.62v1.90M443.25,74.66h1.90M444.20,73.71v1.90M443.25,77.75h1.90M444.20,76.80v1.90M443.25,83.93h1.90M444.20,82.98v1.90M443.25,90.11h1.90M444.20,89.16v1.90M443.25,93.20h1.90M444.20,92.25v1.90M443.25,96.29h1.90M444.20,95.34v1.90M443.25,99.38h1.90M444.20,98.43v1.90M443.25,102.47h1.90M444.20,101.52v1.90M443.25,105.56h1.90M444.20,104.61v1.90M443.25,108.65h1.90M444.20,107.70v1.90M443.25,111.74h1.90M444.20,110.79v1.90M443.25,114.83h1.90M444.20,113.88v1.90M443.25,117.92h1.90M444.20,116.97v1.90M443.25,121.01h1.90M444.20,120.06v1.90M443.25,124.10h1.90M444.20,123.15v1.90M443.25,127.19h1.90M444.20,126.24v1.90M443.25,130.28h1.90M444.20,129.33v1.90M443.25,133.37h1.90M444.20,132.42v1.90M443.25,136.46h1.90M444.20,135.51v1.90M443.25,139.55h1.90M444.20,138.60v1.90M443.25,142.64h1.90M444.20,141.69v1.90M443.25,145.73h1.90M444.20,144.78v1.90M443.25,148.82h1.90M444.20,147.87v1.90M443.25,151.91h1.90M444.20,150.96v1.90M443.25,155.00h1.90M444.20,154.05v1.90M443.25,158.09h1.90M444.20,157.14v1.90M443.25,161.18h1.90M444.20,160.23v1.90M443.25,164.27h1.90M444.20,163.32v1.90M443.25,167.36h1.90M444.20,166.41v1.90M443.25,170.45h1.90M444.20,169.50v1.90M443.25,173.54h1.90M444.20,172.59v1.90M443.25,176.63h1.90M444.20,175.68v1.90M443.25,179.72h1.90M444.20,178.77v1.90M443.25,182.81h1.90M444.20,181.86v1.90M443.25,185.90h1.90M444.20,184.95v1.90M443.25,198.26h1.90M444.20,197.31v1.90M443.25,207.53h1.90M444.20,206.58v1.90M443.25,210.62h1.90M444.20,209.67v1.90M443.25,213.71h1.90M444.20,212.76v1.90M443.25,216.80h1.90M444.20,215.85v1.90M443.25,219.89h1.90M444.20,218.94v1.90M443.25,222.98h1.90M444.20,222.03v1.90M447.75,62.30h1.90M448.70,61.35v1.90M447.75,65.39h1.90M448.70,64.44v1.90M447.75,71.57h1.90M448.70,70.62v1.90M447.75,74.66h1.90M448.70,73.71v1.90M447.75,77.75h1.90M448.70,76.80v1.90M447.75,87.02h1.90M448.70,86.07v1.90M447.75,90.11h1.90M448.70,89.16v1.90M447.75,93.20h1.90M448.70,92.25v1.90M447.75,105.56h1.90M448.70,104.61v1.90M447.75,108.65h1.90M448.70,107.70v1.90M447.75,111.74h1.90M448.70,110.79v1.90M447.75,114.83h1.90M448.70,113.88v1.90M447.75,117.92h1.90M448.70,116.97v1.90M447.75,121.01h1.90M448.70,120.06v1.90M447.75,124.10h1.90M448.70,123.15v1.90M447.75,127.19h1.90M448.70,126.24v1.90M447.75,130.28h1.90M448.70,129.33v1.90M447.75,133.37h1.90M448.70,132.42v1.90M447.75,136.46h1.90M448.70,135.51v1.90M447.75,139.55h1.90M448.70,138.60v1.90M447.75,142.64h1.90M448.70,141.69v1.90M447.75,145.73h1.90M448.70,144.78v1.90M447.75,148.82h1.90M448.70,147.87v1.90M447.75,151.91h1.90M448.70,150.96v1.90M447.75,155.00h1.90M448.70,154.05v1.90M447.75,158.09h1.90M448.70,157.14v1.90M447.75,161.18h1.90M448.70,160.23v1.90M447.75,164.27h1.90M448.70,163.32v1.90M447.75,167.36h1.90M448.70,166.41v1.90M447.75,170.45h1.90M448.70,169.50v1.90M447.75,173.54h1.90M448.70,172.59v1.90M447.75,176.63h1.90M448.70,175.68v1.90M447.75,179.72h1.90M448.70,178.77v1.90M447.75,182.81h1.90M448.70,181.86v1.90M447.75,185.90h1.90M448.70,184.95v1.90M447.75,188.99h1.90M448.70,188.04v1.90M447.75,198.26h1.90M448.70,197.31v1.90M447.75,204.44h1.90M448.70,203.49v1.90M447.75,207.53h1.90M448.70,206.58v1.90M447.75,210.62h1.90M448.70,209.67v1.90M447.75,213.71h1.90M448.70,212.76v1.90M447.75,216.80h1.90M448.70,215.85v1.90M447.75,219.89h1.90M448.70,218.94v1.90M447.75,222.98h1.90M448.70,222.03v1.90M449.55,62.30h1.90M450.50,61.35v1.90M449.55,65.39h1.90M450.50,64.44v1.90M449.55,68.48h1.90M450.50,67.53v1.90M449.55,71.57h1.90M450.50,70.62v1.90M449.55,74.66h1.90M450.50,73.71v1.90M449.55,77.75h1.90M450.50,76.80v1.90M449.55,87.02h1.90M450.50,86.07v1.90M449.55,90.11h1.90M450.50,89.16v1.90M449.55,93.20h1.90M450.50,92.25v1.90M449.55,102.47h1.90M450.50,101.52v1.90M449.55,105.56h1.90M450.50,104.61v1.90M449.55,108.65h1.90M450.50,107.70v1.90M449.55,111.74h1.90M450.50,110.79v1.90M449.55,114.83h1.90M450.50,113.88v1.90M449.55,117.92h1.90M450.50,116.97v1.90M449.55,121.01h1.90M450.50,120.06v1.90M449.55,124.10h1.90M450.50,123.15v1.90M449.55,127.19h1.90M450.50,126.24v1.90M449.55,130.28h1.90M450.50,129.33v1.90M449.55,133.37h1.90M450.50,132.42v1.90M449.55,136.46h1.90M450.50,135.51v1.90M449.55,139.55h1.90M450.50,138.60v1.90M449.55,142.64h1.90M450.50,141.69v1.90M449.55,145.73h1.90M450.50,144.78v1.90M449.55,148.82h1.90M450.50,147.87v1.90M449.55,151.91h1.90M450.50,150.96v1.90M449.55,155.00h1.90M450.50,154.05v1.90M449.55,158.09h1.90M450.50,157.14v1.90M449.55,161.18h1.90M450.50,160.23v1.90M449.55,164.27h1.90M450.50,163.32v1.90M449.55,167.36h1.90M450.50,166.41v1.90M449.55,170.45h1.90M450.50,169.50v1.90M449.55,173.54h1.90M450.50,172.59v1.90M449.55,176.63h1.90M450.50,175.68v1.90M449.55,179.72h1.90M450.50,178.77v1.90M449.55,182.81h1.90M450.50,181.86v1.90M449.55,185.90h1.90M450.50,184.95v1.90M449.55,188.99h1.90M450.50,188.04v1.90M449.55,198.26h1.90M450.50,197.31v1.90M449.55,204.44h1.90M450.50,203.49v1.90M449.55,207.53h1.90M450.50,206.58v1.90M449.55,210.62h1.90M450.50,209.67v1.90M449.55,213.71h1.90M450.50,212.76v1.90M449.55,216.80h1.90M450.50,215.85v1.90M449.55,219.89h1.90M450.50,218.94v1.90M449.55,222.98h1.90M450.50,222.03v1.90M459.45,62.30h1.90M460.40,61.35v1.90M459.45,68.48h1.90M460.40,67.53v1.90M459.45,71.57h1.90M460.40,70.62v1.90M459.45,74.66h1.90M460.40,73.71v1.90M459.45,77.75h1.90M460.40,76.80v1.90M459.45,80.84h1.90M460.40,79.89v1.90M459.45,83.93h1.90M460.40,82.98v1.90M459.45,87.02h1.90M460.40,86.07v1.90M459.45,90.11h1.90M460.40,89.16v1.90M459.45,93.20h1.90M460.40,92.25v1.90M459.45,99.38h1.90M460.40,98.43v1.90M459.45,105.56h1.90M460.40,104.61v1.90M459.45,108.65h1.90M460.40,107.70v1.90M459.45,111.74h1.90M460.40,110.79v1.90M459.45,114.83h1.90M460.40,113.88v1.90M459.45,117.92h1.90M460.40,116.97v1.90M459.45,121.01h1.90M460.40,120.06v1.90M459.45,124.10h1.90M460.40,123.15v1.90M459.45,127.19h1.90M460.40,126.24v1.90M459.45,130.28h1.90M460.40,129.33v1.90M459.45,133.37h1.90M460.40,132.42v1.90M459.45,136.46h1.90M460.40,135.51v1.90M459.45,139.55h1.90M460.40,138.60v1.90M459.45,142.64h1.90M460.40,141.69v1.90M459.45,145.73h1.90M460.40,144.78v1.90M459.45,148.82h1.90M460.40,147.87v1.90M459.45,151.91h1.90M460.40,150.96v1.90M459.45,155.00h1.90M460.40,154.05v1.90M459.45,158.09h1.90M460.40,157.14v1.90M459.45,161.18h1.90M460.40,160.23v1.90M459.45,164.27h1.90M460.40,163.32v1.90M459.45,167.36h1.90M460.40,166.41v1.90M459.45,170.45h1.90M460.40,169.50v1.90M459.45,173.54h1.90M460.40,172.59v1.90M459.45,176.63h1.90M460.40,175.68v1.90M459.45,179.72h1.90M460.40,178.77v1.90M459.45,182.81h1.90M460.40,181.86v1.90M459.45,185.90h1.90M460.40,184.95v1.90M459.45,188.99h1.90M460.40,188.04v1.90M459.45,192.08h1.90M460.40,191.13v1.90M459.45,195.17h1.90M460.40,194.22v1.90M459.45,198.26h1.90M460.40,197.31v1.90M459.45,201.35h1.90M460.40,200.40v1.90M459.45,207.53h1.90M460.40,206.58v1.90M459.45,210.62h1.90M460.40,209.67v1.90M459.45,213.71h1.90M460.40,212.76v1.90M459.45,216.80h1.90M460.40,215.85v1.90M459.45,219.89h1.90M460.40,218.94v1.90M459.45,222.98h1.90M460.40,222.03v1.90M467.05,133.37h1.90M468.00,132.42v1.90M470.05,192.08h1.90M471.00,191.13v1.90M481.25,65.39h1.90M482.20,64.44v1.90M481.25,93.20h1.90M482.20,92.25v1.90M481.25,96.29h1.90M482.20,95.34v1.90M481.25,99.38h1.90M482.20,98.43v1.90M481.25,102.47h1.90M482.20,101.52v1.90M481.25,105.56h1.90M482.20,104.61v1.90M481.25,108.65h1.90M482.20,107.70v1.90M481.25,111.74h1.90M482.20,110.79v1.90M481.25,114.83h1.90M482.20,113.88v1.90M481.25,117.92h1.90M482.20,116.97v1.90M481.25,121.01h1.90M482.20,120.06v1.90M481.25,124.10h1.90M482.20,123.15v1.90M481.25,127.19h1.90M482.20,126.24v1.90M481.25,130.28h1.90M482.20,129.33v1.90M481.25,133.37h1.90M482.20,132.42v1.90M481.25,136.46h1.90M482.20,135.51v1.90M481.25,139.55h1.90M482.20,138.60v1.90M481.25,142.64h1.90M482.20,141.69v1.90M481.25,145.73h1.90M482.20,144.78v1.90M481.25,148.82h1.90M482.20,147.87v1.90M481.25,151.91h1.90M482.20,150.96v1.90M481.25,155.00h1.90M482.20,154.05v1.90M481.25,158.09h1.90M482.20,157.14v1.90M481.25,161.18h1.90M482.20,160.23v1.90M481.25,164.27h1.90M482.20,163.32v1.90M481.25,167.36h1.90M482.20,166.41v1.90M481.25,170.45h1.90M482.20,169.50v1.90M481.25,173.54h1.90M482.20,172.59v1.90M481.25,176.63h1.90M482.20,175.68v1.90M481.25,179.72h1.90M482.20,178.77v1.90M481.25,182.81h1.90M482.20,181.86v1.90M481.25,185.90h1.90M482.20,184.95v1.90M481.25,188.99h1.90M482.20,188.04v1.90M481.25,192.08h1.90M482.20,191.13v1.90M481.25,195.17h1.90M482.20,194.22v1.90M481.25,198.26h1.90M482.20,197.31v1.90M481.25,201.35h1.90M482.20,200.40v1.90M481.25,204.44h1.90M482.20,203.49v1.90M481.25,207.53h1.90M482.20,206.58v1.90M481.25,210.62h1.90M482.20,209.67v1.90M490.45,62.30h1.90M491.40,61.35v1.90M490.45,71.57h1.90M491.40,70.62v1.90M490.45,74.66h1.90M491.40,73.71v1.90M490.45,77.75h1.90M491.40,76.80v1.90M490.45,83.93h1.90M491.40,82.98v1.90M490.45,87.02h1.90M491.40,86.07v1.90M490.45,90.11h1.90M491.40,89.16v1.90M490.45,93.20h1.90M491.40,92.25v1.90M490.45,96.29h1.90M491.40,95.34v1.90M490.45,99.38h1.90M491.40,98.43v1.90M490.45,102.47h1.90M491.40,101.52v1.90M490.45,105.56h1.90M491.40,104.61v1.90M490.45,108.65h1.90M491.40,107.70v1.90M490.45,111.74h1.90M491.40,110.79v1.90M490.45,114.83h1.90M491.40,113.88v1.90M490.45,117.92h1.90M491.40,116.97v1.90M490.45,121.01h1.90M491.40,120.06v1.90M490.45,124.10h1.90M491.40,123.15v1.90M490.45,127.19h1.90M491.40,126.24v1.90M490.45,130.28h1.90M491.40,129.33v1.90M490.45,133.37h1.90M491.40,132.42v1.90M490.45,136.46h1.90M491.40,135.51v1.90M490.45,139.55h1.90M491.40,138.60v1.90M490.45,142.64h1.90M491.40,141.69v1.90M490.45,145.73h1.90M491.40,144.78v1.90M490.45,148.82h1.90M491.40,147.87v1.90M490.45,151.91h1.90M491.40,150.96v1.90M490.45,155.00h1.90M491.40,154.05v1.90M490.45,158.09h1.90M491.40,157.14v1.90M490.45,161.18h1.90M491.40,160.23v1.90M490.45,164.27h1.90M491.40,163.32v1.90M490.45,167.36h1.90M491.40,166.41v1.90M490.45,170.45h1.90M491.40,169.50v1.90M490.45,173.54h1.90M491.40,172.59v1.90M490.45,176.63h1.90M491.40,175.68v1.90M490.45,179.72h1.90M491.40,178.77v1.90M490.45,182.81h1.90M491.40,181.86v1.90M490.45,185.90h1.90M491.40,184.95v1.90M490.45,188.99h1.90M491.40,188.04v1.90M490.45,192.08h1.90M491.40,191.13v1.90M490.45,195.17h1.90M491.40,194.22v1.90M490.45,198.26h1.90M491.40,197.31v1.90M490.45,201.35h1.90M491.40,200.40v1.90M490.45,204.44h1.90M491.40,203.49v1.90M490.45,207.53h1.90M491.40,206.58v1.90M490.45,210.62h1.90M491.40,209.67v1.90M490.45,216.80h1.90M491.40,215.85v1.90M490.45,219.89h1.90M491.40,218.94v1.90M490.45,222.98h1.90M491.40,222.03v1.90M487.05,192.08h1.90M488.00,191.13v1.90M484.05,204.44h1.90M485.00,203.49v1.90M94.65,235.34h1.90M95.60,234.39v1.90M94.65,247.70h1.90M95.60,246.75v1.90M101.75,232.25h1.90M102.70,231.30v1.90M101.75,235.34h1.90M102.70,234.39v1.90M101.75,241.52h1.90M102.70,240.57v1.90M101.75,244.61h1.90M102.70,243.66v1.90M101.75,247.70h1.90M102.70,246.75v1.90M101.75,250.79h1.90M102.70,249.84v1.90M101.75,260.06h1.90M102.70,259.11v1.90M107.75,229.16h1.90M108.70,228.21v1.90M107.75,244.61h1.90M108.70,243.66v1.90M143.25,247.70h1.90M144.20,246.75v1.90M137.15,263.15h1.90M138.10,262.20v1.90M183.05,229.16h1.90M184.00,228.21v1.90M183.05,232.25h1.90M184.00,231.30v1.90M183.05,241.52h1.90M184.00,240.57v1.90M183.05,244.61h1.90M184.00,243.66v1.90M183.05,247.70h1.90M184.00,246.75v1.90M183.05,260.06h1.90M184.00,259.11v1.90M206.75,229.16h1.90M207.70,228.21v1.90M206.75,232.25h1.90M207.70,231.30v1.90M206.75,235.34h1.90M207.70,234.39v1.90M206.75,238.43h1.90M207.70,237.48v1.90M206.75,241.52h1.90M207.70,240.57v1.90M206.75,244.61h1.90M207.70,243.66v1.90M206.75,247.70h1.90M207.70,246.75v1.90M206.75,250.79h1.90M207.70,249.84v1.90M206.75,253.88h1.90M207.70,252.93v1.90M206.75,256.97h1.90M207.70,256.02v1.90M206.75,260.06h1.90M207.70,259.11v1.90M206.75,263.15h1.90M207.70,262.20v1.90M212.95,229.16h1.90M213.90,228.21v1.90M212.95,232.25h1.90M213.90,231.30v1.90M212.95,235.34h1.90M213.90,234.39v1.90M212.95,238.43h1.90M213.90,237.48v1.90M212.95,241.52h1.90M213.90,240.57v1.90M212.95,244.61h1.90M213.90,243.66v1.90M212.95,247.70h1.90M213.90,246.75v1.90M212.95,250.79h1.90M213.90,249.84v1.90M212.95,253.88h1.90M213.90,252.93v1.90M212.95,256.97h1.90M213.90,256.02v1.90M212.95,260.06h1.90M213.90,259.11v1.90M224.95,229.16h1.90M225.90,228.21v1.90M224.95,241.52h1.90M225.90,240.57v1.90M224.95,244.61h1.90M225.90,243.66v1.90M224.95,247.70h1.90M225.90,246.75v1.90M224.95,256.97h1.90M225.90,256.02v1.90M228.65,229.16h1.90M229.60,228.21v1.90M228.65,232.25h1.90M229.60,231.30v1.90M228.65,235.34h1.90M229.60,234.39v1.90M228.65,241.52h1.90M229.60,240.57v1.90M228.65,244.61h1.90M229.60,243.66v1.90M228.65,247.70h1.90M229.60,246.75v1.90M228.65,250.79h1.90M229.60,249.84v1.90M228.65,253.88h1.90M229.60,252.93v1.90M144.95,247.70h1.90M145.90,246.75v1.90M180.05,253.88h1.90M181.00,252.93v1.90M199.85,263.15h1.90M200.80,262.20v1.90M256.25,232.25h1.90M257.20,231.30v1.90M267.45,229.16h1.90M268.40,228.21v1.90M267.45,232.25h1.90M268.40,231.30v1.90M270.25,229.16h1.90M271.20,228.21v1.90M270.25,232.25h1.90M271.20,231.30v1.90M270.25,241.52h1.90M271.20,240.57v1.90M270.25,244.61h1.90M271.20,243.66v1.90M288.65,241.52h1.90M289.60,240.57v1.90M302.45,253.88h1.90M303.40,252.93v1.90M324.95,229.16h1.90M325.90,228.21v1.90M324.95,232.25h1.90M325.90,231.30v1.90M324.95,235.34h1.90M325.90,234.39v1.90M324.95,238.43h1.90M325.90,237.48v1.90M324.95,241.52h1.90M325.90,240.57v1.90M324.95,244.61h1.90M325.90,243.66v1.90M324.95,250.79h1.90M325.90,249.84v1.90M324.95,260.06h1.90M325.90,259.11v1.90M324.95,263.15h1.90M325.90,262.20v1.90M326.65,263.15h1.90M327.60,262.20v1.90M378.25,229.16h1.90M379.20,228.21v1.90M378.25,241.52h1.90M379.20,240.57v1.90M378.25,244.61h1.90M379.20,243.66v1.90M380.25,229.16h1.90M381.20,228.21v1.90M380.25,241.52h1.90M381.20,240.57v1.90M380.25,244.61h1.90M381.20,243.66v1.90M382.05,241.52h1.90M383.00,240.57v1.90M382.05,244.61h1.90M383.00,243.66v1.90M383.75,241.52h1.90M384.70,240.57v1.90M389.75,229.16h1.90M390.70,228.21v1.90M389.75,232.25h1.90M390.70,231.30v1.90M389.75,235.34h1.90M390.70,234.39v1.90M389.75,241.52h1.90M390.70,240.57v1.90M389.75,244.61h1.90M390.70,243.66v1.90M389.75,253.88h1.90M390.70,252.93v1.90M389.75,256.97h1.90M390.70,256.02v1.90M389.75,260.06h1.90M390.70,259.11v1.90M394.25,226.07h1.90M395.20,225.12v1.90M394.25,229.16h1.90M395.20,228.21v1.90M394.25,232.25h1.90M395.20,231.30v1.90M394.25,235.34h1.90M395.20,234.39v1.90M394.25,238.43h1.90M395.20,237.48v1.90M394.25,241.52h1.90M395.20,240.57v1.90M394.25,244.61h1.90M395.20,243.66v1.90M394.25,247.70h1.90M395.20,246.75v1.90M394.25,250.79h1.90M395.20,249.84v1.90M394.25,253.88h1.90M395.20,252.93v1.90M394.25,256.97h1.90M395.20,256.02v1.90M395.75,229.16h1.90M396.70,228.21v1.90M395.75,232.25h1.90M396.70,231.30v1.90M395.75,235.34h1.90M396.70,234.39v1.90M395.75,238.43h1.90M396.70,237.48v1.90M395.75,241.52h1.90M396.70,240.57v1.90M395.75,244.61h1.90M396.70,243.66v1.90M395.75,247.70h1.90M396.70,246.75v1.90M395.75,250.79h1.90M396.70,249.84v1.90M395.75,253.88h1.90M396.70,252.93v1.90M395.75,256.97h1.90M396.70,256.02v1.90M397.25,229.16h1.90M398.20,228.21v1.90M397.25,232.25h1.90M398.20,231.30v1.90M397.25,235.34h1.90M398.20,234.39v1.90M397.25,238.43h1.90M398.20,237.48v1.90M397.25,241.52h1.90M398.20,240.57v1.90M397.25,244.61h1.90M398.20,243.66v1.90M397.25,247.70h1.90M398.20,246.75v1.90M397.25,250.79h1.90M398.20,249.84v1.90M397.25,253.88h1.90M398.20,252.93v1.90M397.25,256.97h1.90M398.20,256.02v1.90M401.05,229.16h1.90M402.00,228.21v1.90M401.05,232.25h1.90M402.00,231.30v1.90M401.05,241.52h1.90M402.00,240.57v1.90M401.05,244.61h1.90M402.00,243.66v1.90M401.05,256.97h1.90M402.00,256.02v1.90M403.25,229.16h1.90M404.20,228.21v1.90M403.25,232.25h1.90M404.20,231.30v1.90M403.25,241.52h1.90M404.20,240.57v1.90M403.25,244.61h1.90M404.20,243.66v1.90M403.25,256.97h1.90M404.20,256.02v1.90M403.25,263.15h1.90M404.20,262.20v1.90M407.75,229.16h1.90M408.70,228.21v1.90M407.75,232.25h1.90M408.70,231.30v1.90M407.75,235.34h1.90M408.70,234.39v1.90M407.75,238.43h1.90M408.70,237.48v1.90M407.75,241.52h1.90M408.70,240.57v1.90M407.75,244.61h1.90M408.70,243.66v1.90M407.75,247.70h1.90M408.70,246.75v1.90M407.75,250.79h1.90M408.70,249.84v1.90M407.75,253.88h1.90M408.70,252.93v1.90M407.75,256.97h1.90M408.70,256.02v1.90M409.95,229.16h1.90M410.90,228.21v1.90M409.95,232.25h1.90M410.90,231.30v1.90M409.95,235.34h1.90M410.90,234.39v1.90M409.95,238.43h1.90M410.90,237.48v1.90M409.95,241.52h1.90M410.90,240.57v1.90M409.95,244.61h1.90M410.90,243.66v1.90M409.95,247.70h1.90M410.90,246.75v1.90M409.95,250.79h1.90M410.90,249.84v1.90M409.95,253.88h1.90M410.90,252.93v1.90M409.95,256.97h1.90M410.90,256.02v1.90M412.05,229.16h1.90M413.00,228.21v1.90M412.05,232.25h1.90M413.00,231.30v1.90M412.05,235.34h1.90M413.00,234.39v1.90M412.05,238.43h1.90M413.00,237.48v1.90M412.05,241.52h1.90M413.00,240.57v1.90M412.05,244.61h1.90M413.00,243.66v1.90M412.05,247.70h1.90M413.00,246.75v1.90M412.05,250.79h1.90M413.00,249.84v1.90M412.05,253.88h1.90M413.00,252.93v1.90M412.05,256.97h1.90M413.00,256.02v1.90M417.15,229.16h1.90M418.10,228.21v1.90M417.15,232.25h1.90M418.10,231.30v1.90M417.15,235.34h1.90M418.10,234.39v1.90M417.15,238.43h1.90M418.10,237.48v1.90M417.15,241.52h1.90M418.10,240.57v1.90M417.15,244.61h1.90M418.10,243.66v1.90M417.15,247.70h1.90M418.10,246.75v1.90M417.15,250.79h1.90M418.10,249.84v1.90M417.15,253.88h1.90M418.10,252.93v1.90M417.15,256.97h1.90M418.10,256.02v1.90M408.75,263.15h1.90M409.70,262.20v1.90M437.75,253.88h1.90M438.70,252.93v1.90M443.05,232.25h1.90M444.00,231.30v1.90M443.05,235.34h1.90M444.00,234.39v1.90M443.05,238.43h1.90M444.00,237.48v1.90M443.05,241.52h1.90M444.00,240.57v1.90M443.05,247.70h1.90M444.00,246.75v1.90M443.05,250.79h1.90M444.00,249.84v1.90M443.05,253.88h1.90M444.00,252.93v1.90M443.05,256.97h1.90M444.00,256.02v1.90M443.05,260.06h1.90M444.00,259.11v1.90M445.05,229.16h1.90M446.00,228.21v1.90M445.05,235.34h1.90M446.00,234.39v1.90M445.05,238.43h1.90M446.00,237.48v1.90M445.05,241.52h1.90M446.00,240.57v1.90M445.05,244.61h1.90M446.00,243.66v1.90M445.05,253.88h1.90M446.00,252.93v1.90M445.05,256.97h1.90M446.00,256.02v1.90M447.55,229.16h1.90M448.50,228.21v1.90M447.55,235.34h1.90M448.50,234.39v1.90M447.55,238.43h1.90M448.50,237.48v1.90M447.55,241.52h1.90M448.50,240.57v1.90M447.55,244.61h1.90M448.50,243.66v1.90M447.55,253.88h1.90M448.50,252.93v1.90M447.55,256.97h1.90M448.50,256.02v1.90M450.05,229.16h1.90M451.00,228.21v1.90M450.05,235.34h1.90M451.00,234.39v1.90M450.05,238.43h1.90M451.00,237.48v1.90M450.05,241.52h1.90M451.00,240.57v1.90M450.05,244.61h1.90M451.00,243.66v1.90M450.05,253.88h1.90M451.00,252.93v1.90M450.05,256.97h1.90M451.00,256.02v1.90M466.85,244.61h1.90M467.80,243.66v1.90M481.25,229.16h1.90M482.20,228.21v1.90M481.25,232.25h1.90M482.20,231.30v1.90M481.25,241.52h1.90M482.20,240.57v1.90M481.25,244.61h1.90M482.20,243.66v1.90M481.25,250.79h1.90M482.20,249.84v1.90M481.25,263.15h1.90M482.20,262.20v1.90M481.25,266.24h1.90M482.20,265.29v1.90M490.65,263.15h1.90M491.60,262.20v1.90M490.65,266.24h1.90M491.60,265.29v1.90M429.35,263.15h1.90M430.30,262.20v1.90M135.85,269.33h1.90M136.80,268.38v1.90M135.85,272.42h1.90M136.80,271.47v1.90M135.85,275.51h1.90M136.80,274.56v1.90M135.85,278.60h1.90M136.80,277.65v1.90M135.85,281.69h1.90M136.80,280.74v1.90M135.85,284.78h1.90M136.80,283.83v1.90M105.85,269.33h1.90M106.80,268.38v1.90M109.95,269.33h1.90M110.90,268.38v1.90M109.95,272.42h1.90M110.90,271.47v1.90M96.45,281.69h1.90M97.40,280.74v1.90M68.05,287.87h1.90M69.00,286.92v1.90M90.45,294.05h1.90M91.40,293.10v1.90M121.75,290.96h1.90M122.70,290.01v1.90M121.75,297.14h1.90M122.70,296.19v1.90M133.05,290.96h1.90M134.00,290.01v1.90M204.35,269.33h1.90M205.30,268.38v1.90M204.35,272.42h1.90M205.30,271.47v1.90M204.35,275.51h1.90M205.30,274.56v1.90M204.35,278.60h1.90M205.30,277.65v1.90M204.35,281.69h1.90M205.30,280.74v1.90M204.35,284.78h1.90M205.30,283.83v1.90M204.35,287.87h1.90M205.30,286.92v1.90M204.35,290.96h1.90M205.30,290.01v1.90M227.35,269.33h1.90M228.30,268.38v1.90M227.35,272.42h1.90M228.30,271.47v1.90M227.35,275.51h1.90M228.30,274.56v1.90M227.35,278.60h1.90M228.30,277.65v1.90M227.35,281.69h1.90M228.30,280.74v1.90M229.25,269.33h1.90M230.20,268.38v1.90M229.25,272.42h1.90M230.20,271.47v1.90M229.25,275.51h1.90M230.20,274.56v1.90M229.25,278.60h1.90M230.20,277.65v1.90M229.25,281.69h1.90M230.20,280.74v1.90M224.05,287.87h1.90M225.00,286.92v1.90M157.55,269.33h1.90M158.50,268.38v1.90M157.55,272.42h1.90M158.50,271.47v1.90M148.75,272.42h1.90M149.70,271.47v1.90M194.95,278.60h1.90M195.90,277.65v1.90M203.05,281.69h1.90M204.00,280.74v1.90M210.55,287.87h1.90M211.50,286.92v1.90M154.35,294.05h1.90M155.30,293.10v1.90M154.35,297.14h1.90M155.30,296.19v1.90M164.25,290.96h1.90M165.20,290.01v1.90M164.25,294.05h1.90M165.20,293.10v1.90M164.25,297.14h1.90M165.20,296.19v1.90M145.95,294.05h1.90M146.90,293.10v1.90M177.75,294.05h1.90M178.70,293.10v1.90M206.75,290.96h1.90M207.70,290.01v1.90M206.75,294.05h1.90M207.70,293.10v1.90M206.75,297.14h1.90M207.70,296.19v1.90M223.65,290.96h1.90M224.60,290.01v1.90M223.65,294.05h1.90M224.60,293.10v1.90M223.65,297.14h1.90M224.60,296.19v1.90M246.25,281.69h1.90M247.20,280.74v1.90M270.25,272.42h1.90M271.20,271.47v1.90M270.25,275.51h1.90M271.20,274.56v1.90M270.25,278.60h1.90M271.20,277.65v1.90M270.25,281.69h1.90M271.20,280.74v1.90M270.25,284.78h1.90M271.20,283.83v1.90M270.25,287.87h1.90M271.20,286.92v1.90M270.25,290.96h1.90M271.20,290.01v1.90M270.25,294.05h1.90M271.20,293.10v1.90M270.25,297.14h1.90M271.20,296.19v1.90M285.65,269.33h1.90M286.60,268.38v1.90M285.65,272.42h1.90M286.60,271.47v1.90M285.65,275.51h1.90M286.60,274.56v1.90M285.65,278.60h1.90M286.60,277.65v1.90M285.65,281.69h1.90M286.60,280.74v1.90M285.65,284.78h1.90M286.60,283.83v1.90M285.65,287.87h1.90M286.60,286.92v1.90M285.65,290.96h1.90M286.60,290.01v1.90M285.65,294.05h1.90M286.60,293.10v1.90M285.65,297.14h1.90M286.60,296.19v1.90M282.45,287.87h1.90M283.40,286.92v1.90M300.25,269.33h1.90M301.20,268.38v1.90M300.25,272.42h1.90M301.20,271.47v1.90M300.25,275.51h1.90M301.20,274.56v1.90M300.25,278.60h1.90M301.20,277.65v1.90M300.25,281.69h1.90M301.20,280.74v1.90M300.25,284.78h1.90M301.20,283.83v1.90M300.25,287.87h1.90M301.20,286.92v1.90M300.25,290.96h1.90M301.20,290.01v1.90M300.25,294.05h1.90M301.20,293.10v1.90M300.25,297.14h1.90M301.20,296.19v1.90M324.55,287.87h1.90M325.50,286.92v1.90M339.95,284.78h1.90M340.90,283.83v1.90M339.95,290.96h1.90M340.90,290.01v1.90M339.95,294.05h1.90M340.90,293.10v1.90M339.95,297.14h1.90M340.90,296.19v1.90M345.75,290.96h1.90M346.70,290.01v1.90M361.25,284.78h1.90M362.20,283.83v1.90M368.25,294.05h1.90M369.20,293.10v1.90M370.85,278.60h1.90M371.80,277.65v1.90M370.85,281.69h1.90M371.80,280.74v1.90M375.05,272.42h1.90M376.00,271.47v1.90M375.05,275.51h1.90M376.00,274.56v1.90M375.05,278.60h1.90M376.00,277.65v1.90M375.05,281.69h1.90M376.00,280.74v1.90M375.05,284.78h1.90M376.00,283.83v1.90M375.05,297.14h1.90M376.00,296.19v1.90M378.55,272.42h1.90M379.50,271.47v1.90M378.55,275.51h1.90M379.50,274.56v1.90M378.55,278.60h1.90M379.50,277.65v1.90M378.55,281.69h1.90M379.50,280.74v1.90M378.55,284.78h1.90M379.50,283.83v1.90M378.55,297.14h1.90M379.50,296.19v1.90M381.25,278.60h1.90M382.20,277.65v1.90M381.25,284.78h1.90M382.20,283.83v1.90M381.25,297.14h1.90M382.20,296.19v1.90M383.65,272.42h1.90M384.60,271.47v1.90M383.65,275.51h1.90M384.60,274.56v1.90M383.65,278.60h1.90M384.60,277.65v1.90M383.65,281.69h1.90M384.60,280.74v1.90M386.25,284.78h1.90M387.20,283.83v1.90M393.05,284.78h1.90M394.00,283.83v1.90M393.05,287.87h1.90M394.00,286.92v1.90M393.05,290.96h1.90M394.00,290.01v1.90M393.05,294.05h1.90M394.00,293.10v1.90M393.05,297.14h1.90M394.00,296.19v1.90M394.75,269.33h1.90M395.70,268.38v1.90M394.75,272.42h1.90M395.70,271.47v1.90M394.75,275.51h1.90M395.70,274.56v1.90M394.75,278.60h1.90M395.70,277.65v1.90M394.75,281.69h1.90M395.70,280.74v1.90M394.75,284.78h1.90M395.70,283.83v1.90M394.75,287.87h1.90M395.70,286.92v1.90M394.75,290.96h1.90M395.70,290.01v1.90M394.75,294.05h1.90M395.70,293.10v1.90M394.75,297.14h1.90M395.70,296.19v1.90M396.35,284.78h1.90M397.30,283.83v1.90M396.35,290.96h1.90M397.30,290.01v1.90M396.35,294.05h1.90M397.30,293.10v1.90M390.75,290.96h1.90M391.70,290.01v1.90M401.25,269.33h1.90M402.20,268.38v1.90M401.25,272.42h1.90M402.20,271.47v1.90M401.25,275.51h1.90M402.20,274.56v1.90M401.25,278.60h1.90M402.20,277.65v1.90M401.25,281.69h1.90M402.20,280.74v1.90M401.25,284.78h1.90M402.20,283.83v1.90M401.25,290.96h1.90M402.20,290.01v1.90M401.25,294.05h1.90M402.20,293.10v1.90M401.25,297.14h1.90M402.20,296.19v1.90M404.05,269.33h1.90M405.00,268.38v1.90M404.05,272.42h1.90M405.00,271.47v1.90M404.05,275.51h1.90M405.00,274.56v1.90M404.05,278.60h1.90M405.00,277.65v1.90M404.05,281.69h1.90M405.00,280.74v1.90M404.05,284.78h1.90M405.00,283.83v1.90M404.05,294.05h1.90M405.00,293.10v1.90M404.05,297.14h1.90M405.00,296.19v1.90M410.25,269.33h1.90M411.20,268.38v1.90M410.25,272.42h1.90M411.20,271.47v1.90M416.05,269.33h1.90M417.00,268.38v1.90M416.05,272.42h1.90M417.00,271.47v1.90M416.05,275.51h1.90M417.00,274.56v1.90M416.05,278.60h1.90M417.00,277.65v1.90M416.05,281.69h1.90M417.00,280.74v1.90M416.05,284.78h1.90M417.00,283.83v1.90M416.05,287.87h1.90M417.00,286.92v1.90M416.05,290.96h1.90M417.00,290.01v1.90M416.05,294.05h1.90M417.00,293.10v1.90M416.05,297.14h1.90M417.00,296.19v1.90M424.55,275.51h1.90M425.50,274.56v1.90M431.75,269.33h1.90M432.70,268.38v1.90M431.75,272.42h1.90M432.70,271.47v1.90M431.75,275.51h1.90M432.70,274.56v1.90M431.75,278.60h1.90M432.70,277.65v1.90M431.75,281.69h1.90M432.70,280.74v1.90M431.75,284.78h1.90M432.70,283.83v1.90M431.75,287.87h1.90M432.70,286.92v1.90M431.75,290.96h1.90M432.70,290.01v1.90M431.75,294.05h1.90M432.70,293.10v1.90M431.75,297.14h1.90M432.70,296.19v1.90M436.85,269.33h1.90M437.80,268.38v1.90M436.85,272.42h1.90M437.80,271.47v1.90M436.85,275.51h1.90M437.80,274.56v1.90M436.85,284.78h1.90M437.80,283.83v1.90M436.85,287.87h1.90M437.80,286.92v1.90M439.55,287.87h1.90M440.50,286.92v1.90M444.75,272.42h1.90M445.70,271.47v1.90M447.05,272.42h1.90M448.00,271.47v1.90M450.05,269.33h1.90M451.00,268.38v1.90M450.05,272.42h1.90M451.00,271.47v1.90M450.05,275.51h1.90M451.00,274.56v1.90M450.05,278.60h1.90M451.00,277.65v1.90M450.05,281.69h1.90M451.00,280.74v1.90M450.05,284.78h1.90M451.00,283.83v1.90M450.05,297.14h1.90M451.00,296.19v1.90M462.25,269.33h1.90M463.20,268.38v1.90M462.25,272.42h1.90M463.20,271.47v1.90M462.25,275.51h1.90M463.20,274.56v1.90M462.25,278.60h1.90M463.20,277.65v1.90M462.25,281.69h1.90M463.20,280.74v1.90M462.25,284.78h1.90M463.20,283.83v1.90M462.25,287.87h1.90M463.20,286.92v1.90M462.25,290.96h1.90M463.20,290.01v1.90M462.25,294.05h1.90M463.20,293.10v1.90M462.25,297.14h1.90M463.20,296.19v1.90M464.05,269.33h1.90M465.00,268.38v1.90M464.05,272.42h1.90M465.00,271.47v1.90M464.05,275.51h1.90M465.00,274.56v1.90M464.05,278.60h1.90M465.00,277.65v1.90M464.05,281.69h1.90M465.00,280.74v1.90M464.05,284.78h1.90M465.00,283.83v1.90M464.05,287.87h1.90M465.00,286.92v1.90M464.05,290.96h1.90M465.00,290.01v1.90M464.05,294.05h1.90M465.00,293.10v1.90M464.05,297.14h1.90M465.00,296.19v1.90M465.75,269.33h1.90M466.70,268.38v1.90M465.75,272.42h1.90M466.70,271.47v1.90M465.75,275.51h1.90M466.70,274.56v1.90M465.75,278.60h1.90M466.70,277.65v1.90M465.75,281.69h1.90M466.70,280.74v1.90M465.75,284.78h1.90M466.70,283.83v1.90M465.75,287.87h1.90M466.70,286.92v1.90M465.75,290.96h1.90M466.70,290.01v1.90M465.75,294.05h1.90M466.70,293.10v1.90M465.75,297.14h1.90M466.70,296.19v1.90M481.15,269.33h1.90M482.10,268.38v1.90M481.15,272.42h1.90M482.10,271.47v1.90M481.15,275.51h1.90M482.10,274.56v1.90M481.15,278.60h1.90M482.10,277.65v1.90M481.15,281.69h1.90M482.10,280.74v1.90M481.15,284.78h1.90M482.10,283.83v1.90M481.15,287.87h1.90M482.10,286.92v1.90M481.15,290.96h1.90M482.10,290.01v1.90M481.15,294.05h1.90M482.10,293.10v1.90M481.15,297.14h1.90M482.10,296.19v1.90M488.65,269.33h1.90M489.60,268.38v1.90M488.65,272.42h1.90M489.60,271.47v1.90M488.65,275.51h1.90M489.60,274.56v1.90M488.65,278.60h1.90M489.60,277.65v1.90M488.65,284.78h1.90M489.60,283.83v1.90M488.65,287.87h1.90M489.60,286.92v1.90M488.65,297.14h1.90M489.60,296.19v1.90M70.55,309.50h1.90M71.50,308.55v1.90M70.55,312.59h1.90M71.50,311.64v1.90M70.55,315.68h1.90M71.50,314.73v1.90M70.55,318.77h1.90M71.50,317.82v1.90M70.55,321.86h1.90M71.50,320.91v1.90M206.45,312.59h1.90M207.40,311.64v1.90M206.45,315.68h1.90M207.40,314.73v1.90M206.45,318.77h1.90M207.40,317.82v1.90M206.45,321.86h1.90M207.40,320.91v1.90M206.45,328.04h1.90M207.40,327.09v1.90M206.45,337.31h1.90M207.40,336.36v1.90M206.45,340.40h1.90M207.40,339.45v1.90M213.05,328.04h1.90M214.00,327.09v1.90M152.65,340.40h1.90M153.60,339.45v1.90M192.35,340.40h1.90M193.30,339.45v1.90M172.85,343.49h1.90M173.80,342.54v1.90M193.55,343.49h1.90M194.50,342.54v1.90M195.55,343.49h1.90M196.50,342.54v1.90M197.55,343.49h1.90M198.50,342.54v1.90M199.65,343.49h1.90M200.60,342.54v1.90M204.05,343.49h1.90M205.00,342.54v1.90M314.25,309.50h1.90M315.20,308.55v1.90M325.05,309.50h1.90M326.00,308.55v1.90M300.65,337.31h1.90M301.60,336.36v1.90M300.65,340.40h1.90M301.60,339.45v1.90M340.35,337.31h1.90M341.30,336.36v1.90M340.35,340.40h1.90M341.30,339.45v1.90M374.45,343.49h1.90M375.40,342.54v1.90M436.25,303.32h1.90M437.20,302.37v1.90M436.25,306.41h1.90M437.20,305.46v1.90M436.25,309.50h1.90M437.20,308.55v1.90M436.25,312.59h1.90M437.20,311.64v1.90M436.25,321.86h1.90M437.20,320.91v1.90M436.25,324.95h1.90M437.20,324.00v1.90M416.05,318.77h1.90M417.00,317.82v1.90M416.05,321.86h1.90M417.00,320.91v1.90M409.45,324.95h1.90M410.40,324.00v1.90M449.65,328.04h1.90M450.60,327.09v1.90M449.65,340.40h1.90M450.60,339.45v1.90M489.85,331.13h1.90M490.80,330.18v1.90M488.05,334.22h1.90M489.00,333.27v1.90M488.05,337.31h1.90M489.00,336.36v1.90M488.05,340.40h1.90M489.00,339.45v1.90M460.55,340.40h1.90M461.50,339.45v1.90M462.55,340.40h1.90M463.50,339.45v1.90M464.55,340.40h1.90M465.50,339.45v1.90M466.15,337.31h1.90M467.10,336.36v1.90M429.05,340.40h1.90M430.00,339.45v1.90M383.95,343.49h1.90M384.90,342.54v1.90M389.25,343.49h1.90M390.20,342.54v1.90M390.75,343.49h1.90M391.70,342.54v1.90M408.25,343.49h1.90M409.20,342.54v1.90" stroke="#de2b29" stroke-width="1.0" fill="none"/>
<path d="M212.85,62.30h1.90M213.80,61.35v1.90M212.85,65.39h1.90M213.80,64.44v1.90M212.85,68.48h1.90M213.80,67.53v1.90M212.85,71.57h1.90M213.80,70.62v1.90M212.85,74.66h1.90M213.80,73.71v1.90M212.85,77.75h1.90M213.80,76.80v1.90M212.85,80.84h1.90M213.80,79.89v1.90M212.85,83.93h1.90M213.80,82.98v1.90M212.85,87.02h1.90M213.80,86.07v1.90M212.85,90.11h1.90M213.80,89.16v1.90M212.85,93.20h1.90M213.80,92.25v1.90M212.85,96.29h1.90M213.80,95.34v1.90M212.85,99.38h1.90M213.80,98.43v1.90M212.85,102.47h1.90M213.80,101.52v1.90M212.85,105.56h1.90M213.80,104.61v1.90M212.85,108.65h1.90M213.80,107.70v1.90M212.85,111.74h1.90M213.80,110.79v1.90M212.85,114.83h1.90M213.80,113.88v1.90M212.85,117.92h1.90M213.80,116.97v1.90M212.85,121.01h1.90M213.80,120.06v1.90M212.85,124.10h1.90M213.80,123.15v1.90M212.85,127.19h1.90M213.80,126.24v1.90M212.85,130.28h1.90M213.80,129.33v1.90M212.85,133.37h1.90M213.80,132.42v1.90M212.85,136.46h1.90M213.80,135.51v1.90M212.85,139.55h1.90M213.80,138.60v1.90M212.85,142.64h1.90M213.80,141.69v1.90M212.85,145.73h1.90M213.80,144.78v1.90M212.85,148.82h1.90M213.80,147.87v1.90M212.85,151.91h1.90M213.80,150.96v1.90M212.85,155.00h1.90M213.80,154.05v1.90M212.85,158.09h1.90M213.80,157.14v1.90M212.85,161.18h1.90M213.80,160.23v1.90M212.85,164.27h1.90M213.80,163.32v1.90M212.85,167.36h1.90M213.80,166.41v1.90M212.85,170.45h1.90M213.80,169.50v1.90M212.85,173.54h1.90M213.80,172.59v1.90M212.85,176.63h1.90M213.80,175.68v1.90M212.85,179.72h1.90M213.80,178.77v1.90M212.85,182.81h1.90M213.80,181.86v1.90M212.85,185.90h1.90M213.80,184.95v1.90M212.85,188.99h1.90M213.80,188.04v1.90M212.85,192.08h1.90M213.80,191.13v1.90M212.85,195.17h1.90M213.80,194.22v1.90M212.85,198.26h1.90M213.80,197.31v1.90M212.85,201.35h1.90M213.80,200.40v1.90M212.85,204.44h1.90M213.80,203.49v1.90M212.85,207.53h1.90M213.80,206.58v1.90M212.85,210.62h1.90M213.80,209.67v1.90M212.85,213.71h1.90M213.80,212.76v1.90M212.85,216.80h1.90M213.80,215.85v1.90M212.85,219.89h1.90M213.80,218.94v1.90M212.85,222.98h1.90M213.80,222.03v1.90M212.85,226.07h1.90M213.80,225.12v1.90M139.15,253.88h1.90M140.10,252.93v1.90M433.55,278.60h1.90M434.50,277.65v1.90M433.55,290.96h1.90M434.50,290.01v1.90M213.05,315.68h1.90M214.00,314.73v1.90M213.05,318.77h1.90M214.00,317.82v1.90" stroke="#9b2222" stroke-width="1.0" fill="none"/>
<path d="M79.60,191.16L80.52,192.82L78.68,192.82ZM94.60,191.16L95.52,192.82L93.68,192.82ZM72.60,203.52L73.52,205.18L71.68,205.18ZM105.90,61.38L106.82,63.04L104.98,63.04ZM105.90,67.56L106.82,69.22L104.98,69.22ZM105.90,70.65L106.82,72.31L104.98,72.31ZM105.90,73.74L106.82,75.40L104.98,75.40ZM105.90,76.83L106.82,78.49L104.98,78.49ZM105.90,83.01L106.82,84.67L104.98,84.67ZM105.90,86.10L106.82,87.76L104.98,87.76ZM105.90,89.19L106.82,90.85L104.98,90.85ZM105.90,92.28L106.82,93.94L104.98,93.94ZM105.90,101.55L106.82,103.21L104.98,103.21ZM105.90,104.64L106.82,106.30L104.98,106.30ZM105.90,107.73L106.82,109.39L104.98,109.39ZM105.90,110.82L106.82,112.48L104.98,112.48ZM105.90,113.91L106.82,115.57L104.98,115.57ZM105.90,117.00L106.82,118.66L104.98,118.66ZM105.90,120.09L106.82,121.75L104.98,121.75ZM105.90,123.18L106.82,124.84L104.98,124.84ZM105.90,126.27L106.82,127.93L104.98,127.93ZM105.90,129.36L106.82,131.02L104.98,131.02ZM105.90,132.45L106.82,134.11L104.98,134.11ZM105.90,135.54L106.82,137.20L104.98,137.20ZM105.90,138.63L106.82,140.29L104.98,140.29ZM105.90,141.72L106.82,143.38L104.98,143.38ZM105.90,144.81L106.82,146.47L104.98,146.47ZM105.90,147.90L106.82,149.56L104.98,149.56ZM105.90,150.99L106.82,152.65L104.98,152.65ZM105.90,154.08L106.82,155.74L104.98,155.74ZM105.90,157.17L106.82,158.83L104.98,158.83ZM105.90,160.26L106.82,161.92L104.98,161.92ZM105.90,163.35L106.82,165.01L104.98,165.01ZM105.90,166.44L106.82,168.10L104.98,168.10ZM105.90,169.53L106.82,171.19L104.98,171.19ZM105.90,172.62L106.82,174.28L104.98,174.28ZM105.90,175.71L106.82,177.37L104.98,177.37ZM105.90,178.80L106.82,180.46L104.98,180.46ZM105.90,181.89L106.82,183.55L104.98,183.55ZM105.90,184.98L106.82,186.64L104.98,186.64ZM105.90,188.07L106.82,189.73L104.98,189.73ZM105.90,191.16L106.82,192.82L104.98,192.82ZM105.90,194.25L106.82,195.91L104.98,195.91ZM105.90,197.34L106.82,199.00L104.98,199.00ZM105.90,200.43L106.82,202.09L104.98,202.09ZM105.90,203.52L106.82,205.18L104.98,205.18ZM105.90,206.61L106.82,208.27L104.98,208.27ZM105.90,209.70L106.82,211.36L104.98,211.36ZM105.90,212.79L106.82,214.45L104.98,214.45ZM108.00,95.37L108.92,97.03L107.08,97.03ZM112.40,203.52L113.32,205.18L111.48,205.18ZM124.60,61.38L125.52,63.04L123.68,63.04ZM124.60,64.47L125.52,66.13L123.68,66.13ZM124.60,67.56L125.52,69.22L123.68,69.22ZM124.60,70.65L125.52,72.31L123.68,72.31ZM124.60,89.19L125.52,90.85L123.68,90.85ZM124.60,92.28L125.52,93.94L123.68,93.94ZM124.60,95.37L125.52,97.03L123.68,97.03ZM124.60,98.46L125.52,100.12L123.68,100.12ZM124.60,101.55L125.52,103.21L123.68,103.21ZM124.60,104.64L125.52,106.30L123.68,106.30ZM124.60,107.73L125.52,109.39L123.68,109.39ZM124.60,110.82L125.52,112.48L123.68,112.48ZM124.60,113.91L125.52,115.57L123.68,115.57ZM124.60,117.00L125.52,118.66L123.68,118.66ZM124.60,120.09L125.52,121.75L123.68,121.75ZM124.60,123.18L125.52,124.84L123.68,124.84ZM124.60,126.27L125.52,127.93L123.68,127.93ZM124.60,129.36L125.52,131.02L123.68,131.02ZM124.60,132.45L125.52,134.11L123.68,134.11ZM124.60,135.54L125.52,137.20L123.68,137.20ZM124.60,138.63L125.52,140.29L123.68,140.29ZM124.60,141.72L125.52,143.38L123.68,143.38ZM124.60,144.81L125.52,146.47L123.68,146.47ZM124.60,147.90L125.52,149.56L123.68,149.56ZM124.60,150.99L125.52,152.65L123.68,152.65ZM124.60,154.08L125.52,155.74L123.68,155.74ZM124.60,157.17L125.52,158.83L123.68,158.83ZM124.60,160.26L125.52,161.92L123.68,161.92ZM124.60,163.35L125.52,165.01L123.68,165.01ZM124.60,166.44L125.52,168.10L123.68,168.10ZM124.60,169.53L125.52,171.19L123.68,171.19ZM124.60,172.62L125.52,174.28L123.68,174.28ZM124.60,175.71L125.52,177.37L123.68,177.37ZM124.60,178.80L125.52,180.46L123.68,180.46ZM124.60,181.89L125.52,183.55L123.68,183.55ZM124.60,184.98L125.52,186.64L123.68,186.64ZM124.60,188.07L125.52,189.73L123.68,189.73ZM124.60,194.25L125.52,195.91L123.68,195.91ZM124.60,197.34L125.52,199.00L123.68,199.00ZM124.60,206.61L125.52,208.27L123.68,208.27ZM124.60,209.70L125.52,211.36L123.68,211.36ZM128.90,206.61L129.82,208.27L127.98,208.27ZM134.50,203.52L135.42,205.18L133.58,205.18ZM140.00,92.28L140.92,93.94L139.08,93.94ZM156.20,92.28L157.12,93.94L155.28,93.94ZM165.60,101.55L166.52,103.21L164.68,103.21ZM171.20,98.46L172.12,100.12L170.28,100.12ZM242.40,110.82L243.32,112.48L241.48,112.48ZM240.90,144.81L241.82,146.47L239.98,146.47ZM152.50,191.16L153.42,192.82L151.58,192.82ZM167.50,206.61L168.42,208.27L166.58,208.27ZM188.00,203.52L188.92,205.18L187.08,205.18ZM222.70,218.97L223.62,220.63L221.78,220.63ZM198.80,67.56L199.72,69.22L197.88,69.22ZM198.80,70.65L199.72,72.31L197.88,72.31ZM198.80,73.74L199.72,75.40L197.88,75.40ZM198.80,76.83L199.72,78.49L197.88,78.49ZM198.80,86.10L199.72,87.76L197.88,87.76ZM198.80,89.19L199.72,90.85L197.88,90.85ZM198.80,98.46L199.72,100.12L197.88,100.12ZM198.80,104.64L199.72,106.30L197.88,106.30ZM198.80,107.73L199.72,109.39L197.88,109.39ZM198.80,110.82L199.72,112.48L197.88,112.48ZM198.80,113.91L199.72,115.57L197.88,115.57ZM198.80,117.00L199.72,118.66L197.88,118.66ZM198.80,120.09L199.72,121.75L197.88,121.75ZM198.80,123.18L199.72,124.84L197.88,124.84ZM198.80,126.27L199.72,127.93L197.88,127.93ZM198.80,129.36L199.72,131.02L197.88,131.02ZM198.80,132.45L199.72,134.11L197.88,134.11ZM198.80,135.54L199.72,137.20L197.88,137.20ZM198.80,138.63L199.72,140.29L197.88,140.29ZM198.80,141.72L199.72,143.38L197.88,143.38ZM198.80,144.81L199.72,146.47L197.88,146.47ZM198.80,147.90L199.72,149.56L197.88,149.56ZM198.80,150.99L199.72,152.65L197.88,152.65ZM198.80,154.08L199.72,155.74L197.88,155.74ZM198.80,157.17L199.72,158.83L197.88,158.83ZM198.80,160.26L199.72,161.92L197.88,161.92ZM198.80,163.35L199.72,165.01L197.88,165.01ZM198.80,166.44L199.72,168.10L197.88,168.10ZM198.80,169.53L199.72,171.19L197.88,171.19ZM198.80,172.62L199.72,174.28L197.88,174.28ZM198.80,175.71L199.72,177.37L197.88,177.37ZM198.80,178.80L199.72,180.46L197.88,180.46ZM198.80,181.89L199.72,183.55L197.88,183.55ZM198.80,184.98L199.72,186.64L197.88,186.64ZM198.80,188.07L199.72,189.73L197.88,189.73ZM198.80,191.16L199.72,192.82L197.88,192.82ZM198.80,194.25L199.72,195.91L197.88,195.91ZM198.80,197.34L199.72,199.00L197.88,199.00ZM198.80,203.52L199.72,205.18L197.88,205.18ZM198.80,206.61L199.72,208.27L197.88,208.27ZM210.20,61.38L211.12,63.04L209.28,63.04ZM210.20,64.47L211.12,66.13L209.28,66.13ZM210.20,67.56L211.12,69.22L209.28,69.22ZM210.20,70.65L211.12,72.31L209.28,72.31ZM210.20,73.74L211.12,75.40L209.28,75.40ZM210.20,76.83L211.12,78.49L209.28,78.49ZM210.20,79.92L211.12,81.58L209.28,81.58ZM210.20,83.01L211.12,84.67L209.28,84.67ZM210.20,86.10L211.12,87.76L209.28,87.76ZM210.20,89.19L211.12,90.85L209.28,90.85ZM210.20,92.28L211.12,93.94L209.28,93.94ZM210.20,95.37L211.12,97.03L209.28,97.03ZM210.20,98.46L211.12,100.12L209.28,100.12ZM210.20,101.55L211.12,103.21L209.28,103.21ZM210.20,104.64L211.12,106.30L209.28,106.30ZM210.20,107.73L211.12,109.39L209.28,109.39ZM210.20,110.82L211.12,112.48L209.28,112.48ZM210.20,113.91L211.12,115.57L209.28,115.57ZM210.20,117.00L211.12,118.66L209.28,118.66ZM210.20,120.09L211.12,121.75L209.28,121.75ZM210.20,123.18L211.12,124.84L209.28,124.84ZM210.20,126.27L211.12,127.93L209.28,127.93ZM210.20,129.36L211.12,131.02L209.28,131.02ZM210.20,132.45L211.12,134.11L209.28,134.11ZM210.20,135.54L211.12,137.20L209.28,137.20ZM210.20,138.63L211.12,140.29L209.28,140.29ZM210.20,141.72L211.12,143.38L209.28,143.38ZM210.20,144.81L211.12,146.47L209.28,146.47ZM210.20,147.90L211.12,149.56L209.28,149.56ZM210.20,150.99L211.12,152.65L209.28,152.65ZM210.20,154.08L211.12,155.74L209.28,155.74ZM210.20,157.17L211.12,158.83L209.28,158.83ZM210.20,160.26L211.12,161.92L209.28,161.92ZM210.20,163.35L211.12,165.01L209.28,165.01ZM210.20,166.44L211.12,168.10L209.28,168.10ZM210.20,169.53L211.12,171.19L209.28,171.19ZM210.20,172.62L211.12,174.28L209.28,174.28ZM210.20,175.71L211.12,177.37L209.28,177.37ZM210.20,178.80L211.12,180.46L209.28,180.46ZM210.20,181.89L211.12,183.55L209.28,183.55ZM210.20,184.98L211.12,186.64L209.28,186.64ZM210.20,188.07L211.12,189.73L209.28,189.73ZM210.20,191.16L211.12,192.82L209.28,192.82ZM210.20,194.25L211.12,195.91L209.28,195.91ZM210.20,197.34L211.12,199.00L209.28,199.00ZM210.20,203.52L211.12,205.18L209.28,205.18ZM210.20,206.61L211.12,208.27L209.28,208.27ZM210.20,209.70L211.12,211.36L209.28,211.36ZM210.20,212.79L211.12,214.45L209.28,214.45ZM210.20,215.88L211.12,217.54L209.28,217.54ZM210.20,218.97L211.12,220.63L209.28,220.63ZM210.20,222.06L211.12,223.72L209.28,223.72ZM210.20,225.15L211.12,226.81L209.28,226.81ZM249.10,61.38L250.02,63.04L248.18,63.04ZM249.10,64.47L250.02,66.13L248.18,66.13ZM249.10,67.56L250.02,69.22L248.18,69.22ZM249.10,70.65L250.02,72.31L248.18,72.31ZM249.10,73.74L250.02,75.40L248.18,75.40ZM249.10,76.83L250.02,78.49L248.18,78.49ZM249.10,79.92L250.02,81.58L248.18,81.58ZM249.10,83.01L250.02,84.67L248.18,84.67ZM249.10,86.10L250.02,87.76L248.18,87.76ZM249.10,89.19L250.02,90.85L248.18,90.85ZM249.10,92.28L250.02,93.94L248.18,93.94ZM249.10,95.37L250.02,97.03L248.18,97.03ZM249.10,98.46L250.02,100.12L248.18,100.12ZM249.10,101.55L250.02,103.21L248.18,103.21ZM249.10,104.64L250.02,106.30L248.18,106.30ZM249.10,107.73L250.02,109.39L248.18,109.39ZM249.10,110.82L250.02,112.48L248.18,112.48ZM249.10,113.91L250.02,115.57L248.18,115.57ZM249.10,117.00L250.02,118.66L248.18,118.66ZM249.10,120.09L250.02,121.75L248.18,121.75ZM249.10,123.18L250.02,124.84L248.18,124.84ZM249.10,126.27L250.02,127.93L248.18,127.93ZM249.10,129.36L250.02,131.02L248.18,131.02ZM249.10,132.45L250.02,134.11L248.18,134.11ZM249.10,135.54L250.02,137.20L248.18,137.20ZM249.10,138.63L250.02,140.29L248.18,140.29ZM249.10,141.72L250.02,143.38L248.18,143.38ZM249.10,144.81L250.02,146.47L248.18,146.47ZM249.10,147.90L250.02,149.56L248.18,149.56ZM249.10,150.99L250.02,152.65L248.18,152.65ZM249.10,154.08L250.02,155.74L248.18,155.74ZM249.10,157.17L250.02,158.83L248.18,158.83ZM249.10,160.26L250.02,161.92L248.18,161.92ZM249.10,163.35L250.02,165.01L248.18,165.01ZM249.10,166.44L250.02,168.10L248.18,168.10ZM249.10,169.53L250.02,171.19L248.18,171.19ZM249.10,172.62L250.02,174.28L248.18,174.28ZM249.10,175.71L250.02,177.37L248.18,177.37ZM249.10,178.80L250.02,180.46L248.18,180.46ZM249.10,181.89L250.02,183.55L248.18,183.55ZM249.10,184.98L250.02,186.64L248.18,186.64ZM249.10,188.07L250.02,189.73L248.18,189.73ZM249.10,191.16L250.02,192.82L248.18,192.82ZM249.10,194.25L250.02,195.91L248.18,195.91ZM249.10,197.34L250.02,199.00L248.18,199.00ZM249.10,206.61L250.02,208.27L248.18,208.27ZM249.10,209.70L250.02,211.36L248.18,211.36ZM249.10,212.79L250.02,214.45L248.18,214.45ZM249.10,215.88L250.02,217.54L248.18,217.54ZM249.10,218.97L250.02,220.63L248.18,220.63ZM249.10,222.06L250.02,223.72L248.18,223.72ZM282.80,98.46L283.72,100.12L281.88,100.12ZM290.30,61.38L291.22,63.04L289.38,63.04ZM290.30,64.47L291.22,66.13L289.38,66.13ZM290.30,67.56L291.22,69.22L289.38,69.22ZM290.30,70.65L291.22,72.31L289.38,72.31ZM290.30,73.74L291.22,75.40L289.38,75.40ZM290.30,76.83L291.22,78.49L289.38,78.49ZM290.30,79.92L291.22,81.58L289.38,81.58ZM290.30,83.01L291.22,84.67L289.38,84.67ZM290.30,86.10L291.22,87.76L289.38,87.76ZM290.30,89.19L291.22,90.85L289.38,90.85ZM290.30,92.28L291.22,93.94L289.38,93.94ZM290.30,95.37L291.22,97.03L289.38,97.03ZM290.30,98.46L291.22,100.12L289.38,100.12ZM290.30,101.55L291.22,103.21L289.38,103.21ZM290.30,104.64L291.22,106.30L289.38,106.30ZM290.30,107.73L291.22,109.39L289.38,109.39ZM290.30,110.82L291.22,112.48L289.38,112.48ZM290.30,113.91L291.22,115.57L289.38,115.57ZM290.30,117.00L291.22,118.66L289.38,118.66ZM290.30,120.09L291.22,121.75L289.38,121.75ZM290.30,123.18L291.22,124.84L289.38,124.84ZM290.30,126.27L291.22,127.93L289.38,127.93ZM290.30,129.36L291.22,131.02L289.38,131.02ZM290.30,132.45L291.22,134.11L289.38,134.11ZM290.30,135.54L291.22,137.20L289.38,137.20ZM290.30,138.63L291.22,140.29L289.38,140.29ZM290.30,141.72L291.22,143.38L289.38,143.38ZM290.30,144.81L291.22,146.47L289.38,146.47ZM290.30,147.90L291.22,149.56L289.38,149.56ZM290.30,150.99L291.22,152.65L289.38,152.65ZM290.30,154.08L291.22,155.74L289.38,155.74ZM290.30,157.17L291.22,158.83L289.38,158.83ZM290.30,160.26L291.22,161.92L289.38,161.92ZM290.30,163.35L291.22,165.01L289.38,165.01ZM290.30,166.44L291.22,168.10L289.38,168.10ZM290.30,169.53L291.22,171.19L289.38,171.19ZM290.30,172.62L291.22,174.28L289.38,174.28ZM290.30,175.71L291.22,177.37L289.38,177.37ZM290.30,178.80L291.22,180.46L289.38,180.46ZM290.30,181.89L291.22,183.55L289.38,183.55ZM290.30,184.98L291.22,186.64L289.38,186.64ZM290.30,188.07L291.22,189.73L289.38,189.73ZM290.30,194.25L291.22,195.91L289.38,195.91ZM290.30,197.34L291.22,199.00L289.38,199.00ZM290.30,203.52L291.22,205.18L289.38,205.18ZM290.30,209.70L291.22,211.36L289.38,211.36ZM290.30,212.79L291.22,214.45L289.38,214.45ZM290.30,215.88L291.22,217.54L289.38,217.54ZM290.30,218.97L291.22,220.63L289.38,220.63ZM290.30,222.06L291.22,223.72L289.38,223.72ZM324.60,120.09L325.52,121.75L323.68,121.75ZM319.90,141.72L320.82,143.38L318.98,143.38ZM334.50,79.92L335.42,81.58L333.58,81.58ZM338.10,95.37L339.02,97.03L337.18,97.03ZM334.00,98.46L334.92,100.12L333.08,100.12ZM336.80,101.55L337.72,103.21L335.88,103.21ZM260.00,203.52L260.92,205.18L259.08,205.18ZM269.00,203.52L269.92,205.18L268.08,205.18ZM337.70,194.25L338.62,195.91L336.78,195.91ZM353.60,70.65L354.52,72.31L352.68,72.31ZM353.60,89.19L354.52,90.85L352.68,90.85ZM353.60,92.28L354.52,93.94L352.68,93.94ZM353.60,95.37L354.52,97.03L352.68,97.03ZM353.60,98.46L354.52,100.12L352.68,100.12ZM353.60,101.55L354.52,103.21L352.68,103.21ZM353.60,104.64L354.52,106.30L352.68,106.30ZM353.60,107.73L354.52,109.39L352.68,109.39ZM353.60,110.82L354.52,112.48L352.68,112.48ZM353.60,113.91L354.52,115.57L352.68,115.57ZM353.60,117.00L354.52,118.66L352.68,118.66ZM353.60,120.09L354.52,121.75L352.68,121.75ZM353.60,123.18L354.52,124.84L352.68,124.84ZM353.60,126.27L354.52,127.93L352.68,127.93ZM353.60,129.36L354.52,131.02L352.68,131.02ZM353.60,132.45L354.52,134.11L352.68,134.11ZM353.60,135.54L354.52,137.20L352.68,137.20ZM353.60,138.63L354.52,140.29L352.68,140.29ZM353.60,141.72L354.52,143.38L352.68,143.38ZM353.60,144.81L354.52,146.47L352.68,146.47ZM353.60,147.90L354.52,149.56L352.68,149.56ZM353.60,150.99L354.52,152.65L352.68,152.65ZM353.60,154.08L354.52,155.74L352.68,155.74ZM353.60,157.17L354.52,158.83L352.68,158.83ZM353.60,160.26L354.52,161.92L352.68,161.92ZM353.60,163.35L354.52,165.01L352.68,165.01ZM353.60,166.44L354.52,168.10L352.68,168.10ZM353.60,169.53L354.52,171.19L352.68,171.19ZM353.60,172.62L354.52,174.28L352.68,174.28ZM353.60,175.71L354.52,177.37L352.68,177.37ZM353.60,178.80L354.52,180.46L352.68,180.46ZM353.60,181.89L354.52,183.55L352.68,183.55ZM353.60,184.98L354.52,186.64L352.68,186.64ZM353.60,188.07L354.52,189.73L352.68,189.73ZM353.60,191.16L354.52,192.82L352.68,192.82ZM353.60,194.25L354.52,195.91L352.68,195.91ZM353.60,203.52L354.52,205.18L352.68,205.18ZM353.60,206.61L354.52,208.27L352.68,208.27ZM353.60,209.70L354.52,211.36L352.68,211.36ZM365.60,92.28L366.52,93.94L364.68,93.94ZM365.20,191.16L366.12,192.82L364.28,192.82ZM368.70,191.16L369.62,192.82L367.78,192.82ZM379.20,175.71L380.12,177.37L378.28,177.37ZM413.80,95.37L414.72,97.03L412.88,97.03ZM422.20,212.79L423.12,214.45L421.28,214.45ZM425.60,61.38L426.52,63.04L424.68,63.04ZM425.60,64.47L426.52,66.13L424.68,66.13ZM425.60,67.56L426.52,69.22L424.68,69.22ZM425.60,70.65L426.52,72.31L424.68,72.31ZM425.60,73.74L426.52,75.40L424.68,75.40ZM425.60,76.83L426.52,78.49L424.68,78.49ZM425.60,79.92L426.52,81.58L424.68,81.58ZM425.60,83.01L426.52,84.67L424.68,84.67ZM425.60,86.10L426.52,87.76L424.68,87.76ZM425.60,89.19L426.52,90.85L424.68,90.85ZM425.60,98.46L426.52,100.12L424.68,100.12ZM425.60,104.64L426.52,106.30L424.68,106.30ZM425.60,107.73L426.52,109.39L424.68,109.39ZM425.60,110.82L426.52,112.48L424.68,112.48ZM425.60,113.91L426.52,115.57L424.68,115.57ZM425.60,117.00L426.52,118.66L424.68,118.66ZM425.60,120.09L426.52,121.75L424.68,121.75ZM425.60,123.18L426.52,124.84L424.68,124.84ZM425.60,126.27L426.52,127.93L424.68,127.93ZM425.60,129.36L426.52,131.02L424.68,131.02ZM425.60,132.45L426.52,134.11L424.68,134.11ZM425.60,135.54L426.52,137.20L424.68,137.20ZM425.60,138.63L426.52,140.29L424.68,140.29ZM425.60,141.72L426.52,143.38L424.68,143.38ZM425.60,144.81L426.52,146.47L424.68,146.47ZM425.60,147.90L426.52,149.56L424.68,149.56ZM425.60,150.99L426.52,152.65L424.68,152.65ZM425.60,154.08L426.52,155.74L424.68,155.74ZM425.60,157.17L426.52,158.83L424.68,158.83ZM425.60,160.26L426.52,161.92L424.68,161.92ZM425.60,163.35L426.52,165.01L424.68,165.01ZM425.60,166.44L426.52,168.10L424.68,168.10ZM425.60,169.53L426.52,171.19L424.68,171.19ZM425.60,172.62L426.52,174.28L424.68,174.28ZM425.60,175.71L426.52,177.37L424.68,177.37ZM425.60,178.80L426.52,180.46L424.68,180.46ZM425.60,181.89L426.52,183.55L424.68,183.55ZM425.60,184.98L426.52,186.64L424.68,186.64ZM425.60,188.07L426.52,189.73L424.68,189.73ZM425.60,194.25L426.52,195.91L424.68,195.91ZM425.60,197.34L426.52,199.00L424.68,199.00ZM425.60,206.61L426.52,208.27L424.68,208.27ZM425.60,212.79L426.52,214.45L424.68,214.45ZM425.60,215.88L426.52,217.54L424.68,217.54ZM425.60,222.06L426.52,223.72L424.68,223.72ZM434.20,61.38L435.12,63.04L433.28,63.04ZM434.20,64.47L435.12,66.13L433.28,66.13ZM434.20,67.56L435.12,69.22L433.28,69.22ZM434.20,70.65L435.12,72.31L433.28,72.31ZM434.20,73.74L435.12,75.40L433.28,75.40ZM434.20,76.83L435.12,78.49L433.28,78.49ZM434.20,79.92L435.12,81.58L433.28,81.58ZM434.20,83.01L435.12,84.67L433.28,84.67ZM434.20,86.10L435.12,87.76L433.28,87.76ZM434.20,89.19L435.12,90.85L433.28,90.85ZM434.20,92.28L435.12,93.94L433.28,93.94ZM434.20,101.55L435.12,103.21L433.28,103.21ZM434.20,104.64L435.12,106.30L433.28,106.30ZM434.20,107.73L435.12,109.39L433.28,109.39ZM434.20,110.82L435.12,112.48L433.28,112.48ZM434.20,113.91L435.12,115.57L433.28,115.57ZM434.20,117.00L435.12,118.66L433.28,118.66ZM434.20,120.09L435.12,121.75L433.28,121.75ZM434.20,123.18L435.12,124.84L433.28,124.84ZM434.20,126.27L435.12,127.93L433.28,127.93ZM434.20,129.36L435.12,131.02L433.28,131.02ZM434.20,132.45L435.12,134.11L433.28,134.11ZM434.20,135.54L435.12,137.20L433.28,137.20ZM434.20,138.63L435.12,140.29L433.28,140.29ZM434.20,141.72L435.12,143.38L433.28,143.38ZM434.20,144.81L435.12,146.47L433.28,146.47ZM434.20,147.90L435.12,149.56L433.28,149.56ZM434.20,150.99L435.12,152.65L433.28,152.65ZM434.20,154.08L435.12,155.74L433.28,155.74ZM434.20,157.17L435.12,158.83L433.28,158.83ZM434.20,160.26L435.12,161.92L433.28,161.92ZM434.20,163.35L435.12,165.01L433.28,165.01ZM434.20,166.44L435.12,168.10L433.28,168.10ZM434.20,169.53L435.12,171.19L433.28,171.19ZM434.20,172.62L435.12,174.28L433.28,174.28ZM434.20,175.71L435.12,177.37L433.28,177.37ZM434.20,178.80L435.12,180.46L433.28,180.46ZM434.20,181.89L435.12,183.55L433.28,183.55ZM434.20,184.98L435.12,186.64L433.28,186.64ZM434.20,188.07L435.12,189.73L433.28,189.73ZM434.20,191.16L435.12,192.82L433.28,192.82ZM434.20,194.25L435.12,195.91L433.28,195.91ZM434.20,197.34L435.12,199.00L433.28,199.00ZM434.20,206.61L435.12,208.27L433.28,208.27ZM434.20,212.79L435.12,214.45L433.28,214.45ZM434.20,215.88L435.12,217.54L433.28,217.54ZM434.20,218.97L435.12,220.63L433.28,220.63ZM452.60,64.47L453.52,66.13L451.68,66.13ZM452.60,70.65L453.52,72.31L451.68,72.31ZM452.60,73.74L453.52,75.40L451.68,75.40ZM452.60,76.83L453.52,78.49L451.68,78.49ZM452.60,83.01L453.52,84.67L451.68,84.67ZM452.60,89.19L453.52,90.85L451.68,90.85ZM452.60,92.28L453.52,93.94L451.68,93.94ZM452.60,98.46L453.52,100.12L451.68,100.12ZM452.60,101.55L453.52,103.21L451.68,103.21ZM452.60,107.73L453.52,109.39L451.68,109.39ZM452.60,110.82L453.52,112.48L451.68,112.48ZM452.60,113.91L453.52,115.57L451.68,115.57ZM452.60,117.00L453.52,118.66L451.68,118.66ZM452.60,120.09L453.52,121.75L451.68,121.75ZM452.60,123.18L453.52,124.84L451.68,124.84ZM452.60,126.27L453.52,127.93L451.68,127.93ZM452.60,129.36L453.52,131.02L451.68,131.02ZM452.60,132.45L453.52,134.11L451.68,134.11ZM452.60,135.54L453.52,137.20L451.68,137.20ZM452.60,138.63L453.52,140.29L451.68,140.29ZM452.60,141.72L453.52,143.38L451.68,143.38ZM452.60,144.81L453.52,146.47L451.68,146.47ZM452.60,147.90L453.52,149.56L451.68,149.56ZM452.60,150.99L453.52,152.65L451.68,152.65ZM452.60,154.08L453.52,155.74L451.68,155.74ZM452.60,157.17L453.52,158.83L451.68,158.83ZM452.60,160.26L453.52,161.92L451.68,161.92ZM452.60,163.35L453.52,165.01L451.68,165.01ZM452.60,166.44L453.52,168.10L451.68,168.10ZM452.60,169.53L453.52,171.19L451.68,171.19ZM452.60,172.62L453.52,174.28L451.68,174.28ZM452.60,175.71L453.52,177.37L451.68,177.37ZM452.60,178.80L453.52,180.46L451.68,180.46ZM452.60,181.89L453.52,183.55L451.68,183.55ZM452.60,184.98L453.52,186.64L451.68,186.64ZM452.60,188.07L453.52,189.73L451.68,189.73ZM452.60,191.16L453.52,192.82L451.68,192.82ZM452.60,197.34L453.52,199.00L451.68,199.00ZM452.60,206.61L453.52,208.27L451.68,208.27ZM452.60,209.70L453.52,211.36L451.68,211.36ZM452.60,212.79L453.52,214.45L451.68,214.45ZM452.60,215.88L453.52,217.54L451.68,217.54ZM452.60,218.97L453.52,220.63L451.68,220.63ZM452.60,222.06L453.52,223.72L451.68,223.72ZM455.90,95.37L456.82,97.03L454.98,97.03ZM458.70,61.38L459.62,63.04L457.78,63.04ZM458.70,67.56L459.62,69.22L457.78,69.22ZM458.70,70.65L459.62,72.31L457.78,72.31ZM458.70,73.74L459.62,75.40L457.78,75.40ZM458.70,76.83L459.62,78.49L457.78,78.49ZM458.70,79.92L459.62,81.58L457.78,81.58ZM458.70,83.01L459.62,84.67L457.78,84.67ZM458.70,86.10L459.62,87.76L457.78,87.76ZM458.70,89.19L459.62,90.85L457.78,90.85ZM458.70,92.28L459.62,93.94L457.78,93.94ZM458.70,98.46L459.62,100.12L457.78,100.12ZM458.70,104.64L459.62,106.30L457.78,106.30ZM458.70,107.73L459.62,109.39L457.78,109.39ZM458.70,110.82L459.62,112.48L457.78,112.48ZM458.70,113.91L459.62,115.57L457.78,115.57ZM458.70,117.00L459.62,118.66L457.78,118.66ZM458.70,120.09L459.62,121.75L457.78,121.75ZM458.70,123.18L459.62,124.84L457.78,124.84ZM458.70,126.27L459.62,127.93L457.78,127.93ZM458.70,129.36L459.62,131.02L457.78,131.02ZM458.70,132.45L459.62,134.11L457.78,134.11ZM458.70,135.54L459.62,137.20L457.78,137.20ZM458.70,138.63L459.62,140.29L457.78,140.29ZM458.70,141.72L459.62,143.38L457.78,143.38ZM458.70,144.81L459.62,146.47L457.78,146.47ZM458.70,147.90L459.62,149.56L457.78,149.56ZM458.70,150.99L459.62,152.65L457.78,152.65ZM458.70,154.08L459.62,155.74L457.78,155.74ZM458.70,157.17L459.62,158.83L457.78,158.83ZM458.70,160.26L459.62,161.92L457.78,161.92ZM458.70,163.35L459.62,165.01L457.78,165.01ZM458.70,166.44L459.62,168.10L457.78,168.10ZM458.70,169.53L459.62,171.19L457.78,171.19ZM458.70,172.62L459.62,174.28L457.78,174.28ZM458.70,175.71L459.62,177.37L457.78,177.37ZM458.70,178.80L459.62,180.46L457.78,180.46ZM458.70,181.89L459.62,183.55L457.78,183.55ZM458.70,184.98L459.62,186.64L457.78,186.64ZM458.70,188.07L459.62,189.73L457.78,189.73ZM458.70,191.16L459.62,192.82L457.78,192.82ZM458.70,194.25L459.62,195.91L457.78,195.91ZM458.70,197.34L459.62,199.00L457.78,199.00ZM458.70,206.61L459.62,208.27L457.78,208.27ZM458.70,209.70L459.62,211.36L457.78,211.36ZM458.70,212.79L459.62,214.45L457.78,214.45ZM458.70,215.88L459.62,217.54L457.78,217.54ZM458.70,218.97L459.62,220.63L457.78,220.63ZM458.70,222.06L459.62,223.72L457.78,223.72ZM466.50,61.38L467.42,63.04L465.58,63.04ZM466.50,67.56L467.42,69.22L465.58,69.22ZM466.50,70.65L467.42,72.31L465.58,72.31ZM466.50,73.74L467.42,75.40L465.58,75.40ZM466.50,76.83L467.42,78.49L465.58,78.49ZM466.50,79.92L467.42,81.58L465.58,81.58ZM466.50,83.01L467.42,84.67L465.58,84.67ZM466.50,89.19L467.42,90.85L465.58,90.85ZM466.50,92.28L467.42,93.94L465.58,93.94ZM466.50,95.37L467.42,97.03L465.58,97.03ZM466.50,98.46L467.42,100.12L465.58,100.12ZM466.50,101.55L467.42,103.21L465.58,103.21ZM466.50,104.64L467.42,106.30L465.58,106.30ZM466.50,107.73L467.42,109.39L465.58,109.39ZM466.50,110.82L467.42,112.48L465.58,112.48ZM466.50,113.91L467.42,115.57L465.58,115.57ZM466.50,117.00L467.42,118.66L465.58,118.66ZM466.50,120.09L467.42,121.75L465.58,121.75ZM466.50,123.18L467.42,124.84L465.58,124.84ZM466.50,126.27L467.42,127.93L465.58,127.93ZM466.50,129.36L467.42,131.02L465.58,131.02ZM466.50,132.45L467.42,134.11L465.58,134.11ZM466.50,135.54L467.42,137.20L465.58,137.20ZM466.50,138.63L467.42,140.29L465.58,140.29ZM466.50,141.72L467.42,143.38L465.58,143.38ZM466.50,144.81L467.42,146.47L465.58,146.47ZM466.50,147.90L467.42,149.56L465.58,149.56ZM466.50,150.99L467.42,152.65L465.58,152.65ZM466.50,154.08L467.42,155.74L465.58,155.74ZM466.50,157.17L467.42,158.83L465.58,158.83ZM466.50,160.26L467.42,161.92L465.58,161.92ZM466.50,163.35L467.42,165.01L465.58,165.01ZM466.50,166.44L467.42,168.10L465.58,168.10ZM466.50,169.53L467.42,171.19L465.58,171.19ZM466.50,172.62L467.42,174.28L465.58,174.28ZM466.50,175.71L467.42,177.37L465.58,177.37ZM466.50,178.80L467.42,180.46L465.58,180.46ZM466.50,181.89L467.42,183.55L465.58,183.55ZM466.50,184.98L467.42,186.64L465.58,186.64ZM466.50,188.07L467.42,189.73L465.58,189.73ZM466.50,191.16L467.42,192.82L465.58,192.82ZM466.50,194.25L467.42,195.91L465.58,195.91ZM466.50,197.34L467.42,199.00L465.58,199.00ZM466.50,200.43L467.42,202.09L465.58,202.09ZM466.50,203.52L467.42,205.18L465.58,205.18ZM466.50,206.61L467.42,208.27L465.58,208.27ZM466.50,209.70L467.42,211.36L465.58,211.36ZM466.50,212.79L467.42,214.45L465.58,214.45ZM466.50,215.88L467.42,217.54L465.58,217.54ZM466.50,218.97L467.42,220.63L465.58,220.63ZM466.50,222.06L467.42,223.72L465.58,223.72ZM466.50,225.15L467.42,226.81L465.58,226.81ZM482.20,212.79L483.12,214.45L481.28,214.45ZM483.20,172.62L484.12,174.28L482.28,174.28ZM487.40,218.97L488.32,220.63L486.48,220.63ZM97.40,228.24L98.32,229.90L96.48,229.90ZM97.40,240.60L98.32,242.26L96.48,242.26ZM97.40,243.69L98.32,245.35L96.48,245.35ZM105.90,228.24L106.82,229.90L104.98,229.90ZM105.90,231.33L106.82,232.99L104.98,232.99ZM105.90,234.42L106.82,236.08L104.98,236.08ZM105.90,240.60L106.82,242.26L104.98,242.26ZM105.90,243.69L106.82,245.35L104.98,245.35ZM105.90,246.78L106.82,248.44L104.98,248.44ZM105.90,252.96L106.82,254.62L104.98,254.62ZM105.90,259.14L106.82,260.80L104.98,260.80ZM105.90,262.23L106.82,263.89L104.98,263.89ZM140.10,228.24L141.02,229.90L139.18,229.90ZM140.10,231.33L141.02,232.99L139.18,232.99ZM140.10,234.42L141.02,236.08L139.18,236.08ZM140.10,240.60L141.02,242.26L139.18,242.26ZM140.10,243.69L141.02,245.35L139.18,245.35ZM140.10,259.14L141.02,260.80L139.18,260.80ZM175.90,228.24L176.82,229.90L174.98,229.90ZM206.80,234.42L207.72,236.08L205.88,236.08ZM209.60,262.23L210.52,263.89L208.68,263.89ZM166.50,252.96L167.42,254.62L165.58,254.62ZM253.40,228.24L254.32,229.90L252.48,229.90ZM253.40,231.33L254.32,232.99L252.48,232.99ZM253.40,234.42L254.32,236.08L252.48,236.08ZM253.40,237.51L254.32,239.17L252.48,239.17ZM253.40,240.60L254.32,242.26L252.48,242.26ZM253.40,243.69L254.32,245.35L252.48,245.35ZM253.40,246.78L254.32,248.44L252.48,248.44ZM253.40,249.87L254.32,251.53L252.48,251.53ZM253.40,252.96L254.32,254.62L252.48,254.62ZM253.40,256.05L254.32,257.71L252.48,257.71ZM256.20,259.14L257.12,260.80L255.28,260.80ZM275.00,240.60L275.92,242.26L274.08,242.26ZM283.40,228.24L284.32,229.90L282.48,229.90ZM283.40,231.33L284.32,232.99L282.48,232.99ZM283.40,234.42L284.32,236.08L282.48,236.08ZM283.40,237.51L284.32,239.17L282.48,239.17ZM283.40,240.60L284.32,242.26L282.48,242.26ZM283.40,243.69L284.32,245.35L282.48,245.35ZM283.40,246.78L284.32,248.44L282.48,248.44ZM283.40,249.87L284.32,251.53L282.48,251.53ZM283.40,252.96L284.32,254.62L282.48,254.62ZM283.40,256.05L284.32,257.71L282.48,257.71ZM283.40,259.14L284.32,260.80L282.48,260.80ZM311.50,243.69L312.42,245.35L310.58,245.35ZM347.70,228.24L348.62,229.90L346.78,229.90ZM353.70,262.23L354.62,263.89L352.78,263.89ZM425.70,228.24L426.62,229.90L424.78,229.90ZM425.70,231.33L426.62,232.99L424.78,232.99ZM425.70,234.42L426.62,236.08L424.78,236.08ZM425.70,237.51L426.62,239.17L424.78,239.17ZM425.70,240.60L426.62,242.26L424.78,242.26ZM425.70,243.69L426.62,245.35L424.78,245.35ZM425.70,246.78L426.62,248.44L424.78,248.44ZM425.70,249.87L426.62,251.53L424.78,251.53ZM425.70,252.96L426.62,254.62L424.78,254.62ZM425.70,256.05L426.62,257.71L424.78,257.71ZM434.20,228.24L435.12,229.90L433.28,229.90ZM434.20,231.33L435.12,232.99L433.28,232.99ZM434.20,234.42L435.12,236.08L433.28,236.08ZM434.20,240.60L435.12,242.26L433.28,242.26ZM434.20,243.69L435.12,245.35L433.28,245.35ZM434.20,246.78L435.12,248.44L433.28,248.44ZM434.20,249.87L435.12,251.53L433.28,251.53ZM434.20,252.96L435.12,254.62L433.28,254.62ZM434.20,256.05L435.12,257.71L433.28,257.71ZM454.80,249.87L455.72,251.53L453.88,251.53ZM458.70,228.24L459.62,229.90L457.78,229.90ZM458.70,231.33L459.62,232.99L457.78,232.99ZM458.70,234.42L459.62,236.08L457.78,236.08ZM458.70,237.51L459.62,239.17L457.78,239.17ZM458.70,240.60L459.62,242.26L457.78,242.26ZM458.70,243.69L459.62,245.35L457.78,245.35ZM458.70,246.78L459.62,248.44L457.78,248.44ZM458.70,249.87L459.62,251.53L457.78,251.53ZM458.70,252.96L459.62,254.62L457.78,254.62ZM458.70,256.05L459.62,257.71L457.78,257.71ZM458.70,259.14L459.62,260.80L457.78,260.80ZM466.40,228.24L467.32,229.90L465.48,229.90ZM466.40,231.33L467.32,232.99L465.48,232.99ZM466.40,234.42L467.32,236.08L465.48,236.08ZM466.40,237.51L467.32,239.17L465.48,239.17ZM466.40,240.60L467.32,242.26L465.48,242.26ZM466.40,243.69L467.32,245.35L465.48,245.35ZM466.40,246.78L467.32,248.44L465.48,248.44ZM466.40,249.87L467.32,251.53L465.48,251.53ZM466.40,252.96L467.32,254.62L465.48,254.62ZM466.40,256.05L467.32,257.71L465.48,257.71ZM466.40,259.14L467.32,260.80L465.48,260.80ZM474.70,243.69L475.62,245.35L473.78,245.35ZM453.00,262.23L453.92,263.89L452.08,263.89ZM142.80,271.50L143.72,273.16L141.88,273.16ZM142.80,274.59L143.72,276.25L141.88,276.25ZM142.80,277.68L143.72,279.34L141.88,279.34ZM142.80,280.77L143.72,282.43L141.88,282.43ZM142.80,283.86L143.72,285.52L141.88,285.52ZM105.90,268.41L106.82,270.07L104.98,270.07ZM105.90,271.50L106.82,273.16L104.98,273.16ZM105.90,274.59L106.82,276.25L104.98,276.25ZM105.90,277.68L106.82,279.34L104.98,279.34ZM105.90,280.77L106.82,282.43L104.98,282.43ZM105.90,283.86L106.82,285.52L104.98,285.52ZM105.90,290.04L106.82,291.70L104.98,291.70ZM105.90,293.13L106.82,294.79L104.98,294.79ZM105.90,296.22L106.82,297.88L104.98,297.88ZM94.60,274.59L95.52,276.25L93.68,276.25ZM79.60,286.95L80.52,288.61L78.68,288.61ZM75.90,290.04L76.82,291.70L74.98,291.70ZM82.50,290.04L83.42,291.70L81.58,291.70ZM71.60,296.22L72.52,297.88L70.68,297.88ZM92.80,293.13L93.72,294.79L91.88,294.79ZM92.80,296.22L93.72,297.88L91.88,297.88ZM123.50,293.13L124.42,294.79L122.58,294.79ZM227.00,283.86L227.92,285.52L226.08,285.52ZM227.00,290.04L227.92,291.70L226.08,291.70ZM227.00,293.13L227.92,294.79L226.08,294.79ZM227.00,296.22L227.92,297.88L226.08,297.88ZM226.50,286.95L227.42,288.61L225.58,288.61ZM189.60,277.68L190.52,279.34L188.68,279.34ZM194.60,277.68L195.52,279.34L193.68,279.34ZM218.40,277.68L219.32,279.34L217.48,279.34ZM179.60,280.77L180.52,282.43L178.68,282.43ZM155.30,290.04L156.22,291.70L154.38,291.70ZM192.80,290.04L193.72,291.70L191.88,291.70ZM192.80,293.13L193.72,294.79L191.88,294.79ZM192.80,296.22L193.72,297.88L191.88,297.88ZM247.80,268.41L248.72,270.07L246.88,270.07ZM247.80,271.50L248.72,273.16L246.88,273.16ZM251.60,268.41L252.52,270.07L250.68,270.07ZM251.60,271.50L252.52,273.16L250.68,273.16ZM251.60,274.59L252.52,276.25L250.68,276.25ZM251.60,277.68L252.52,279.34L250.68,279.34ZM251.60,280.77L252.52,282.43L250.68,282.43ZM275.30,274.59L276.22,276.25L274.38,276.25ZM281.50,296.22L282.42,297.88L280.58,297.88ZM299.30,277.68L300.22,279.34L298.38,279.34ZM260.00,290.04L260.92,291.70L259.08,291.70ZM328.30,277.68L329.22,279.34L327.38,279.34ZM340.90,277.68L341.82,279.34L339.98,279.34ZM340.90,280.77L341.82,282.43L339.98,282.43ZM358.30,277.68L359.22,279.34L357.38,279.34ZM358.30,280.77L359.22,282.43L357.38,282.43ZM374.80,274.59L375.72,276.25L373.88,276.25ZM390.20,268.41L391.12,270.07L389.28,270.07ZM390.20,271.50L391.12,273.16L389.28,273.16ZM409.70,280.77L410.62,282.43L408.78,282.43ZM353.80,293.13L354.72,294.79L352.88,294.79ZM424.30,280.77L425.22,282.43L423.38,282.43ZM421.70,286.95L422.62,288.61L420.78,288.61ZM452.50,286.95L453.42,288.61L451.58,288.61ZM452.50,293.13L453.42,294.79L451.58,294.79ZM456.60,293.13L457.52,294.79L455.68,294.79ZM469.20,296.22L470.12,297.88L468.28,297.88ZM475.00,268.41L475.92,270.07L474.08,270.07ZM475.00,271.50L475.92,273.16L474.08,273.16ZM475.00,274.59L475.92,276.25L474.08,276.25ZM475.00,277.68L475.92,279.34L474.08,279.34ZM475.00,280.77L475.92,282.43L474.08,282.43ZM475.00,283.86L475.92,285.52L474.08,285.52ZM475.00,286.95L475.92,288.61L474.08,288.61ZM475.00,290.04L475.92,291.70L474.08,291.70ZM475.00,293.13L475.92,294.79L474.08,294.79ZM475.00,296.22L475.92,297.88L474.08,297.88ZM486.00,290.04L486.92,291.70L485.08,291.70ZM486.00,293.13L486.92,294.79L485.08,294.79ZM487.70,290.04L488.62,291.70L486.78,291.70ZM487.70,293.13L488.62,294.79L486.78,294.79ZM489.60,280.77L490.52,282.43L488.68,282.43ZM209.80,302.40L210.72,304.06L208.88,304.06ZM209.80,317.85L210.72,319.51L208.88,319.51ZM209.80,320.94L210.72,322.60L208.88,322.60ZM249.30,317.85L250.22,319.51L248.38,319.51ZM249.30,320.94L250.22,322.60L248.38,322.60ZM253.70,327.12L254.62,328.78L252.78,328.78ZM147.00,333.30L147.92,334.96L146.08,334.96ZM158.00,336.39L158.92,338.05L157.08,338.05ZM158.00,339.48L158.92,341.14L157.08,341.14ZM198.60,333.30L199.52,334.96L197.68,334.96ZM283.60,327.12L284.52,328.78L282.68,328.78ZM353.50,333.30L354.42,334.96L352.58,334.96ZM366.80,333.30L367.72,334.96L365.88,334.96ZM299.90,336.39L300.82,338.05L298.98,338.05ZM299.90,339.48L300.82,341.14L298.98,341.14ZM425.80,311.67L426.72,313.33L424.88,313.33ZM425.80,317.85L426.72,319.51L424.88,319.51ZM425.80,327.12L426.72,328.78L424.88,328.78ZM434.00,327.12L434.92,328.78L433.08,328.78ZM473.70,333.30L474.62,334.96L472.78,334.96ZM461.50,336.39L462.42,338.05L460.58,338.05ZM452.50,342.57L453.42,344.23L451.58,344.23ZM466.40,342.57L467.32,344.23L465.48,344.23Z" stroke="#3b7ec0" stroke-width="0.6" fill="#3b7ec0" fill-opacity="0.8"/>
<path d="M472.25,263.15h1.90M473.20,262.20v1.90M459.75,290.96h1.90M460.70,290.01v1.90" stroke="#3aa83a" stroke-width="1.0" fill="none"/>
<path d="M472.15,61.65l1.30,1.30M472.15,62.95l1.30,-1.30M472.15,64.74l1.30,1.30M472.15,66.04l1.30,-1.30M472.15,67.83l1.30,1.30M472.15,69.13l1.30,-1.30M472.15,70.92l1.30,1.30M472.15,72.22l1.30,-1.30M472.15,74.01l1.30,1.30M472.15,75.31l1.30,-1.30M472.15,77.10l1.30,1.30M472.15,78.40l1.30,-1.30M472.15,83.28l1.30,1.30M472.15,84.58l1.30,-1.30M472.15,89.46l1.30,1.30M472.15,90.76l1.30,-1.30M472.15,92.55l1.30,1.30M472.15,93.85l1.30,-1.30M472.15,95.64l1.30,1.30M472.15,96.94l1.30,-1.30M472.15,98.73l1.30,1.30M472.15,100.03l1.30,-1.30M472.15,101.82l1.30,1.30M472.15,103.12l1.30,-1.30M472.15,104.91l1.30,1.30M472.15,106.21l1.30,-1.30M472.15,108.00l1.30,1.30M472.15,109.30l1.30,-1.30M472.15,111.09l1.30,1.30M472.15,112.39l1.30,-1.30M472.15,114.18l1.30,1.30M472.15,115.48l1.30,-1.30M472.15,117.27l1.30,1.30M472.15,118.57l1.30,-1.30M472.15,120.36l1.30,1.30M472.15,121.66l1.30,-1.30M472.15,123.45l1.30,1.30M472.15,124.75l1.30,-1.30M472.15,126.54l1.30,1.30M472.15,127.84l1.30,-1.30M472.15,129.63l1.30,1.30M472.15,130.93l1.30,-1.30M472.15,132.72l1.30,1.30M472.15,134.02l1.30,-1.30M472.15,135.81l1.30,1.30M472.15,137.11l1.30,-1.30M472.15,138.90l1.30,1.30M472.15,140.20l1.30,-1.30M472.15,141.99l1.30,1.30M472.15,143.29l1.30,-1.30M472.15,145.08l1.30,1.30M472.15,146.38l1.30,-1.30M472.15,148.17l1.30,1.30M472.15,149.47l1.30,-1.30M472.15,151.26l1.30,1.30M472.15,152.56l1.30,-1.30M472.15,154.35l1.30,1.30M472.15,155.65l1.30,-1.30M472.15,157.44l1.30,1.30M472.15,158.74l1.30,-1.30M472.15,160.53l1.30,1.30M472.15,161.83l1.30,-1.30M472.15,163.62l1.30,1.30M472.15,164.92l1.30,-1.30M472.15,166.71l1.30,1.30M472.15,168.01l1.30,-1.30M472.15,169.80l1.30,1.30M472.15,171.10l1.30,-1.30M472.15,172.89l1.30,1.30M472.15,174.19l1.30,-1.30M472.15,175.98l1.30,1.30M472.15,177.28l1.30,-1.30M472.15,179.07l1.30,1.30M472.15,180.37l1.30,-1.30M472.15,182.16l1.30,1.30M472.15,183.46l1.30,-1.30M472.15,185.25l1.30,1.30M472.15,186.55l1.30,-1.30M472.15,188.34l1.30,1.30M472.15,189.64l1.30,-1.30M472.15,191.43l1.30,1.30M472.15,192.73l1.30,-1.30M472.15,194.52l1.30,1.30M472.15,195.82l1.30,-1.30M472.15,197.61l1.30,1.30M472.15,198.91l1.30,-1.30M472.15,200.70l1.30,1.30M472.15,202.00l1.30,-1.30M472.15,203.79l1.30,1.30M472.15,205.09l1.30,-1.30M472.15,206.88l1.30,1.30M472.15,208.18l1.30,-1.30M472.15,209.97l1.30,1.30M472.15,211.27l1.30,-1.30M472.15,213.06l1.30,1.30M472.15,214.36l1.30,-1.30M472.15,216.15l1.30,1.30M472.15,217.45l1.30,-1.30M472.15,219.24l1.30,1.30M472.15,220.54l1.30,-1.30M471.95,228.51l1.30,1.30M471.95,229.81l1.30,-1.30M471.95,231.60l1.30,1.30M471.95,232.90l1.30,-1.30M471.95,234.69l1.30,1.30M471.95,235.99l1.30,-1.30M471.95,237.78l1.30,1.30M471.95,239.08l1.30,-1.30M471.95,240.87l1.30,1.30M471.95,242.17l1.30,-1.30M471.95,243.96l1.30,1.30M471.95,245.26l1.30,-1.30M471.95,247.05l1.30,1.30M471.95,248.35l1.30,-1.30M471.95,250.14l1.30,1.30M471.95,251.44l1.30,-1.30M471.95,253.23l1.30,1.30M471.95,254.53l1.30,-1.30M471.95,256.32l1.30,1.30M471.95,257.62l1.30,-1.30M471.95,265.59l1.30,1.30M471.95,266.89l1.30,-1.30M472.25,268.68l1.30,1.30M472.25,269.98l1.30,-1.30M472.25,271.77l1.30,1.30M472.25,273.07l1.30,-1.30M472.25,274.86l1.30,1.30M472.25,276.16l1.30,-1.30M472.25,277.95l1.30,1.30M472.25,279.25l1.30,-1.30M472.25,281.04l1.30,1.30M472.25,282.34l1.30,-1.30M472.25,284.13l1.30,1.30M472.25,285.43l1.30,-1.30M472.25,287.22l1.30,1.30M472.25,288.52l1.30,-1.30M472.25,290.31l1.30,1.30M472.25,291.61l1.30,-1.30M472.25,293.40l1.30,1.30M472.25,294.70l1.30,-1.30M472.25,296.49l1.30,1.30M472.25,297.79l1.30,-1.30M472.45,324.30l1.30,1.30M472.45,325.60l1.30,-1.30M472.45,327.39l1.30,1.30M472.45,328.69l1.30,-1.30M472.45,330.48l1.30,1.30M472.45,331.78l1.30,-1.30" stroke="#3c9a3c" stroke-width="0.75" fill="none"/>
<path d="M472.85,62.30h1.70M473.70,61.45v1.70M472.85,65.39h1.70M473.70,64.54v1.70M472.85,68.48h1.70M473.70,67.63v1.70M472.85,71.57h1.70M473.70,70.72v1.70M472.85,74.66h1.70M473.70,73.81v1.70M472.85,77.75h1.70M473.70,76.90v1.70M472.85,83.93h1.70M473.70,83.08v1.70M472.85,90.11h1.70M473.70,89.26v1.70M472.85,93.20h1.70M473.70,92.35v1.70M472.85,96.29h1.70M473.70,95.44v1.70M472.85,99.38h1.70M473.70,98.53v1.70M472.85,102.47h1.70M473.70,101.62v1.70M472.85,105.56h1.70M473.70,104.71v1.70M472.85,108.65h1.70M473.70,107.80v1.70M472.85,111.74h1.70M473.70,110.89v1.70M472.85,114.83h1.70M473.70,113.98v1.70M472.85,117.92h1.70M473.70,117.07v1.70M472.85,121.01h1.70M473.70,120.16v1.70M472.85,124.10h1.70M473.70,123.25v1.70M472.85,127.19h1.70M473.70,126.34v1.70M472.85,130.28h1.70M473.70,129.43v1.70M472.85,133.37h1.70M473.70,132.52v1.70M472.85,136.46h1.70M473.70,135.61v1.70M472.85,139.55h1.70M473.70,138.70v1.70M472.85,142.64h1.70M473.70,141.79v1.70M472.85,145.73h1.70M473.70,144.88v1.70M472.85,148.82h1.70M473.70,147.97v1.70M472.85,151.91h1.70M473.70,151.06v1.70M472.85,155.00h1.70M473.70,154.15v1.70M472.85,158.09h1.70M473.70,157.24v1.70M472.85,161.18h1.70M473.70,160.33v1.70M472.85,164.27h1.70M473.70,163.42v1.70M472.85,167.36h1.70M473.70,166.51v1.70M472.85,170.45h1.70M473.70,169.60v1.70M472.85,173.54h1.70M473.70,172.69v1.70M472.85,176.63h1.70M473.70,175.78v1.70M472.85,179.72h1.70M473.70,178.87v1.70M472.85,182.81h1.70M473.70,181.96v1.70M472.85,185.90h1.70M473.70,185.05v1.70M472.85,188.99h1.70M473.70,188.14v1.70M472.85,192.08h1.70M473.70,191.23v1.70M472.85,195.17h1.70M473.70,194.32v1.70M472.85,198.26h1.70M473.70,197.41v1.70M472.85,201.35h1.70M473.70,200.50v1.70M472.85,204.44h1.70M473.70,203.59v1.70M472.85,207.53h1.70M473.70,206.68v1.70M472.85,210.62h1.70M473.70,209.77v1.70M472.85,213.71h1.70M473.70,212.86v1.70M472.85,216.80h1.70M473.70,215.95v1.70M472.85,219.89h1.70M473.70,219.04v1.70M472.65,229.16h1.70M473.50,228.31v1.70M472.65,232.25h1.70M473.50,231.40v1.70M472.65,235.34h1.70M473.50,234.49v1.70M472.65,238.43h1.70M473.50,237.58v1.70M472.65,241.52h1.70M473.50,240.67v1.70M472.65,244.61h1.70M473.50,243.76v1.70M472.65,247.70h1.70M473.50,246.85v1.70M472.65,250.79h1.70M473.50,249.94v1.70M472.65,253.88h1.70M473.50,253.03v1.70M472.65,256.97h1.70M473.50,256.12v1.70M472.65,266.24h1.70M473.50,265.39v1.70M472.95,269.33h1.70M473.80,268.48v1.70M472.95,272.42h1.70M473.80,271.57v1.70M472.95,275.51h1.70M473.80,274.66v1.70M472.95,278.60h1.70M473.80,277.75v1.70M472.95,281.69h1.70M473.80,280.84v1.70M472.95,284.78h1.70M473.80,283.93v1.70M472.95,287.87h1.70M473.80,287.02v1.70M472.95,290.96h1.70M473.80,290.11v1.70M472.95,294.05h1.70M473.80,293.20v1.70M472.95,297.14h1.70M473.80,296.29v1.70M473.15,324.95h1.70M474.00,324.10v1.70M473.15,328.04h1.70M474.00,327.19v1.70M473.15,331.13h1.70M474.00,330.28v1.70" stroke="#a8281c" stroke-width="1.0" fill="none"/>
<text x="3.20" y="414.90" font-size="13" fill="#111" text-anchor="start" font-weight="normal"  stroke="#111" stroke-width="0.12">B</text>
<rect x="27.8" y="422.6" width="75.60000000000001" height="105.39999999999998" fill="#fff" stroke="#d9d9d9" stroke-width="0.9"/>
<line x1="31.0" y1="422.6" x2="31.0" y2="528.0" stroke="#e4e4e4" stroke-width="0.6"/>
<text x="25.00" y="431.80" font-size="6.7" fill="#3a3a3a" text-anchor="end" font-weight="normal"  stroke="#3a3a3a" stroke-width="0.12">S</text>
<line x1="26.2" y1="429.3" x2="27.8" y2="429.3" stroke="#888" stroke-width="0.5"/>
<text x="25.00" y="442.13" font-size="6.7" fill="#3a3a3a" text-anchor="end" font-weight="normal"  stroke="#3a3a3a" stroke-width="0.12">ORF3a</text>
<line x1="26.2" y1="439.63" x2="27.8" y2="439.63" stroke="#888" stroke-width="0.5"/>
<text x="25.00" y="452.46" font-size="6.7" fill="#3a3a3a" text-anchor="end" font-weight="normal"  stroke="#3a3a3a" stroke-width="0.12">E</text>
<line x1="26.2" y1="449.96000000000004" x2="27.8" y2="449.96000000000004" stroke="#888" stroke-width="0.5"/>
<text x="25.00" y="462.79" font-size="6.7" fill="#3a3a3a" text-anchor="end" font-weight="normal"  stroke="#3a3a3a" stroke-width="0.12">M</text>
<line x1="26.2" y1="460.29" x2="27.8" y2="460.29" stroke="#888" stroke-width="0.5"/>
<text x="25.00" y="473.12" font-size="6.7" fill="#3a3a3a" text-anchor="end" font-weight="normal"  stroke="#3a3a3a" stroke-width="0.12">ORF6</text>
<line x1="26.2" y1="470.62" x2="27.8" y2="470.62" stroke="#888" stroke-width="0.5"/>
<text x="25.00" y="483.45" font-size="6.7" fill="#3a3a3a" text-anchor="end" font-weight="normal"  stroke="#3a3a3a" stroke-width="0.12">ORF7a</text>
<line x1="26.2" y1="480.95" x2="27.8" y2="480.95" stroke="#888" stroke-width="0.5"/>
<text x="25.00" y="493.78" font-size="6.7" fill="#3a3a3a" text-anchor="end" font-weight="normal"  stroke="#3a3a3a" stroke-width="0.12">ORF7b</text>
<line x1="26.2" y1="491.28000000000003" x2="27.8" y2="491.28000000000003" stroke="#888" stroke-width="0.5"/>
<text x="25.00" y="504.11" font-size="6.7" fill="#3a3a3a" text-anchor="end" font-weight="normal"  stroke="#3a3a3a" stroke-width="0.12">ORF8</text>
<line x1="26.2" y1="501.61" x2="27.8" y2="501.61" stroke="#888" stroke-width="0.5"/>
<text x="25.00" y="514.44" font-size="6.7" fill="#3a3a3a" text-anchor="end" font-weight="normal"  stroke="#3a3a3a" stroke-width="0.12">N</text>
<line x1="26.2" y1="511.94" x2="27.8" y2="511.94" stroke="#888" stroke-width="0.5"/>
<text x="25.00" y="524.77" font-size="6.7" fill="#3a3a3a" text-anchor="end" font-weight="normal"  stroke="#3a3a3a" stroke-width="0.12">ORF10</text>
<line x1="26.2" y1="522.27" x2="27.8" y2="522.27" stroke="#888" stroke-width="0.5"/>
<line x1="31.0" y1="528.0" x2="31.0" y2="529.6" stroke="#888" stroke-width="0.5"/>
<text x="31.00" y="536.00" font-size="7.1" fill="#4d4d4d" text-anchor="middle" font-weight="normal"  stroke="#4d4d4d" stroke-width="0.12">0</text>
<line x1="48.44" y1="528.0" x2="48.44" y2="529.6" stroke="#888" stroke-width="0.5"/>
<text x="48.44" y="536.00" font-size="7.1" fill="#4d4d4d" text-anchor="middle" font-weight="normal"  stroke="#4d4d4d" stroke-width="0.12">20</text>
<line x1="65.88" y1="528.0" x2="65.88" y2="529.6" stroke="#888" stroke-width="0.5"/>
<text x="65.88" y="536.00" font-size="7.1" fill="#4d4d4d" text-anchor="middle" font-weight="normal"  stroke="#4d4d4d" stroke-width="0.12">40</text>
<line x1="83.32" y1="528.0" x2="83.32" y2="529.6" stroke="#888" stroke-width="0.5"/>
<text x="83.32" y="536.00" font-size="7.1" fill="#4d4d4d" text-anchor="middle" font-weight="normal"  stroke="#4d4d4d" stroke-width="0.12">60</text>
<line x1="100.76" y1="528.0" x2="100.76" y2="529.6" stroke="#888" stroke-width="0.5"/>
<text x="100.76" y="536.00" font-size="7.1" fill="#4d4d4d" text-anchor="middle" font-weight="normal"  stroke="#4d4d4d" stroke-width="0.12">80</text>
<circle cx="35.14" cy="429.30" r="2.15" fill="#f8766d"/>
<text x="37.24" y="431.80" font-size="6.9" fill="#222" text-anchor="start" font-weight="normal"  stroke="#222" stroke-width="0.12">4.75</text>
<circle cx="95.35" cy="429.30" r="2.15" fill="#1fbfc4"/>
<text x="97.45" y="431.80" font-size="6.9" fill="#222" text-anchor="start" font-weight="normal"  stroke="#222" stroke-width="0.12">73.8 ••</text>
<circle cx="37.98" cy="439.63" r="2.15" fill="#f8766d"/>
<text x="40.08" y="442.13" font-size="6.9" fill="#222" text-anchor="start" font-weight="normal"  stroke="#222" stroke-width="0.12">8</text>
<circle cx="32.74" cy="439.63" r="2.15" fill="#1fbfc4"/>
<circle cx="31.44" cy="449.96" r="2.15" fill="#f8766d"/>
<circle cx="31.44" cy="449.96" r="2.15" fill="#1fbfc4"/>
<circle cx="31.87" cy="460.29" r="2.15" fill="#f8766d"/>
<circle cx="31.87" cy="460.29" r="2.15" fill="#1fbfc4"/>
<circle cx="31.00" cy="470.62" r="2.15" fill="#f8766d"/>
<circle cx="33.18" cy="470.62" r="2.15" fill="#1fbfc4"/>
<circle cx="36.23" cy="480.95" r="2.15" fill="#f8766d"/>
<text x="38.33" y="483.45" font-size="6.9" fill="#222" text-anchor="start" font-weight="normal"  stroke="#222" stroke-width="0.12">6</text>
<circle cx="31.44" cy="480.95" r="2.15" fill="#1fbfc4"/>
<circle cx="31.44" cy="491.28" r="2.15" fill="#f8766d"/>
<circle cx="31.87" cy="491.28" r="2.15" fill="#1fbfc4"/>
<circle cx="35.80" cy="501.61" r="2.15" fill="#f8766d"/>
<text x="37.90" y="504.11" font-size="6.9" fill="#222" text-anchor="start" font-weight="normal"  stroke="#222" stroke-width="0.12">5.5</text>
<circle cx="31.44" cy="501.61" r="2.15" fill="#1fbfc4"/>
<circle cx="43.50" cy="511.94" r="2.15" fill="#f8766d"/>
<text x="45.60" y="514.44" font-size="6.9" fill="#222" text-anchor="start" font-weight="normal"  stroke="#222" stroke-width="0.12">14.33 ••</text>
<circle cx="32.31" cy="511.94" r="2.15" fill="#1fbfc4"/>
<circle cx="31.44" cy="522.27" r="2.15" fill="#1fbfc4"/>
<text x="64.60" y="545.10" font-size="6.8" fill="#111" text-anchor="middle" font-weight="bold" >NS/S</text>
<rect x="137.4" y="422.6" width="76.4" height="106.19999999999993" fill="#fff" stroke="#d9d9d9" stroke-width="0.9"/>
<line x1="140.3" y1="422.6" x2="140.3" y2="528.8" stroke="#e4e4e4" stroke-width="0.6"/>
<text x="135.00" y="430.10" font-size="6.7" fill="#3a3a3a" text-anchor="end" font-weight="normal"  stroke="#3a3a3a" stroke-width="0.12">nsp1</text>
<line x1="135.8" y1="427.6" x2="137.4" y2="427.6" stroke="#888" stroke-width="0.5"/>
<text x="135.00" y="437.57" font-size="6.7" fill="#3a3a3a" text-anchor="end" font-weight="normal"  stroke="#3a3a3a" stroke-width="0.12">nsp2</text>
<line x1="135.8" y1="435.07000000000005" x2="137.4" y2="435.07000000000005" stroke="#888" stroke-width="0.5"/>
<text x="135.00" y="445.04" font-size="6.7" fill="#3a3a3a" text-anchor="end" font-weight="normal"  stroke="#3a3a3a" stroke-width="0.12">nsp3</text>
<line x1="135.8" y1="442.54" x2="137.4" y2="442.54" stroke="#888" stroke-width="0.5"/>
<text x="135.00" y="452.51" font-size="6.7" fill="#3a3a3a" text-anchor="end" font-weight="normal"  stroke="#3a3a3a" stroke-width="0.12">nsp4</text>
<line x1="135.8" y1="450.01000000000005" x2="137.4" y2="450.01000000000005" stroke="#888" stroke-width="0.5"/>
<text x="135.00" y="459.98" font-size="6.7" fill="#3a3a3a" text-anchor="end" font-weight="normal"  stroke="#3a3a3a" stroke-width="0.12">3CL−PRO</text>
<line x1="135.8" y1="457.48" x2="137.4" y2="457.48" stroke="#888" stroke-width="0.5"/>
<text x="135.00" y="467.45" font-size="6.7" fill="#3a3a3a" text-anchor="end" font-weight="normal"  stroke="#3a3a3a" stroke-width="0.12">nsp6</text>
<line x1="135.8" y1="464.95000000000005" x2="137.4" y2="464.95000000000005" stroke="#888" stroke-width="0.5"/>
<text x="135.00" y="474.92" font-size="6.7" fill="#3a3a3a" text-anchor="end" font-weight="normal"  stroke="#3a3a3a" stroke-width="0.12">nsp8</text>
<line x1="135.8" y1="472.42" x2="137.4" y2="472.42" stroke="#888" stroke-width="0.5"/>
<text x="135.00" y="482.39" font-size="6.7" fill="#3a3a3a" text-anchor="end" font-weight="normal"  stroke="#3a3a3a" stroke-width="0.12">nsp9</text>
<line x1="135.8" y1="479.89000000000004" x2="137.4" y2="479.89000000000004" stroke="#888" stroke-width="0.5"/>
<text x="135.00" y="489.86" font-size="6.7" fill="#3a3a3a" text-anchor="end" font-weight="normal"  stroke="#3a3a3a" stroke-width="0.12">nsp10</text>
<line x1="135.8" y1="487.36" x2="137.4" y2="487.36" stroke="#888" stroke-width="0.5"/>
<text x="135.00" y="497.33" font-size="6.7" fill="#3a3a3a" text-anchor="end" font-weight="normal"  stroke="#3a3a3a" stroke-width="0.12">Hel</text>
<line x1="135.8" y1="494.83000000000004" x2="137.4" y2="494.83000000000004" stroke="#888" stroke-width="0.5"/>
<text x="135.00" y="504.80" font-size="6.7" fill="#3a3a3a" text-anchor="end" font-weight="normal"  stroke="#3a3a3a" stroke-width="0.12">ExoN</text>
<line x1="135.8" y1="502.3" x2="137.4" y2="502.3" stroke="#888" stroke-width="0.5"/>
<text x="135.00" y="512.27" font-size="6.7" fill="#3a3a3a" text-anchor="end" font-weight="normal"  stroke="#3a3a3a" stroke-width="0.12">nsp15</text>
<line x1="135.8" y1="509.77000000000004" x2="137.4" y2="509.77000000000004" stroke="#888" stroke-width="0.5"/>
<text x="135.00" y="519.74" font-size="6.7" fill="#3a3a3a" text-anchor="end" font-weight="normal"  stroke="#3a3a3a" stroke-width="0.12">nsp16</text>
<line x1="135.8" y1="517.24" x2="137.4" y2="517.24" stroke="#888" stroke-width="0.5"/>
<text x="135.00" y="527.21" font-size="6.7" fill="#3a3a3a" text-anchor="end" font-weight="normal"  stroke="#3a3a3a" stroke-width="0.12">Pol</text>
<line x1="135.8" y1="524.71" x2="137.4" y2="524.71" stroke="#888" stroke-width="0.5"/>
<line x1="140.3" y1="528.8" x2="140.3" y2="530.4" stroke="#888" stroke-width="0.5"/>
<text x="140.30" y="536.60" font-size="7.1" fill="#4d4d4d" text-anchor="middle" font-weight="normal"  stroke="#4d4d4d" stroke-width="0.12">0</text>
<line x1="157.96" y1="528.8" x2="157.96" y2="530.4" stroke="#888" stroke-width="0.5"/>
<text x="157.96" y="536.60" font-size="7.1" fill="#4d4d4d" text-anchor="middle" font-weight="normal"  stroke="#4d4d4d" stroke-width="0.12">20</text>
<line x1="175.62" y1="528.8" x2="175.62" y2="530.4" stroke="#888" stroke-width="0.5"/>
<text x="175.62" y="536.60" font-size="7.1" fill="#4d4d4d" text-anchor="middle" font-weight="normal"  stroke="#4d4d4d" stroke-width="0.12">40</text>
<line x1="193.28000000000003" y1="528.8" x2="193.28000000000003" y2="530.4" stroke="#888" stroke-width="0.5"/>
<text x="193.28" y="536.60" font-size="7.1" fill="#4d4d4d" text-anchor="middle" font-weight="normal"  stroke="#4d4d4d" stroke-width="0.12">60</text>
<line x1="210.94" y1="528.8" x2="210.94" y2="530.4" stroke="#888" stroke-width="0.5"/>
<text x="210.94" y="536.60" font-size="7.1" fill="#4d4d4d" text-anchor="middle" font-weight="normal"  stroke="#4d4d4d" stroke-width="0.12">80</text>
<circle cx="141.18" cy="427.60" r="2.15" fill="#f8766d"/>
<circle cx="188.87" cy="427.60" r="2.15" fill="#1fbfc4"/>
<text x="190.97" y="430.10" font-size="6.9" fill="#222" text-anchor="start" font-weight="normal"  stroke="#222" stroke-width="0.12">55 •</text>
<circle cx="141.18" cy="435.07" r="2.15" fill="#f8766d"/>
<circle cx="141.18" cy="435.07" r="2.15" fill="#1fbfc4"/>
<circle cx="142.07" cy="442.54" r="2.15" fill="#f8766d"/>
<circle cx="144.72" cy="442.54" r="2.15" fill="#1fbfc4"/>
<circle cx="142.07" cy="450.01" r="2.15" fill="#f8766d"/>
<circle cx="143.39" cy="450.01" r="2.15" fill="#1fbfc4"/>
<circle cx="141.18" cy="457.48" r="2.15" fill="#f8766d"/>
<circle cx="141.62" cy="457.48" r="2.15" fill="#1fbfc4"/>
<circle cx="142.07" cy="464.95" r="2.15" fill="#f8766d"/>
<circle cx="185.33" cy="464.95" r="2.15" fill="#1fbfc4"/>
<text x="187.43" y="467.45" font-size="6.9" fill="#222" text-anchor="start" font-weight="normal"  stroke="#222" stroke-width="0.12">51 •</text>
<circle cx="140.74" cy="472.42" r="2.15" fill="#f8766d"/>
<circle cx="140.74" cy="472.42" r="2.15" fill="#1fbfc4"/>
<circle cx="140.74" cy="479.89" r="2.15" fill="#f8766d"/>
<circle cx="140.74" cy="479.89" r="2.15" fill="#1fbfc4"/>
<circle cx="140.74" cy="487.36" r="2.15" fill="#f8766d"/>
<circle cx="140.74" cy="487.36" r="2.15" fill="#1fbfc4"/>
<circle cx="142.07" cy="494.83" r="2.15" fill="#f8766d"/>
<circle cx="143.83" cy="494.83" r="2.15" fill="#1fbfc4"/>
<circle cx="141.62" cy="502.30" r="2.15" fill="#f8766d"/>
<circle cx="141.62" cy="502.30" r="2.15" fill="#1fbfc4"/>
<circle cx="140.74" cy="509.77" r="2.15" fill="#f8766d"/>
<circle cx="141.62" cy="509.77" r="2.15" fill="#1fbfc4"/>
<circle cx="142.07" cy="517.24" r="2.15" fill="#f8766d"/>
<circle cx="141.62" cy="517.24" r="2.15" fill="#1fbfc4"/>
<circle cx="140.74" cy="524.71" r="2.15" fill="#f8766d"/>
<circle cx="142.07" cy="524.71" r="2.15" fill="#1fbfc4"/>
<text x="177.00" y="545.10" font-size="6.8" fill="#111" text-anchor="middle" font-weight="bold" >NS/S</text>
<circle cx="217.8" cy="466.2" r="2.3" fill="#1fbfc4"/>
<text x="221.60" y="468.70" font-size="7.1" fill="#222" text-anchor="start" font-weight="normal"  stroke="#222" stroke-width="0.12">Omicron</text>
<circle cx="217.8" cy="477.0" r="2.3" fill="#f8766d"/>
<text x="221.60" y="479.50" font-size="7.1" fill="#222" text-anchor="start" font-weight="normal"  stroke="#222" stroke-width="0.12">Delta</text>
<text x="251.30" y="414.60" font-size="13" fill="#111" text-anchor="start" font-weight="normal"  stroke="#111" stroke-width="0.12">C</text>
<text x="392.00" y="417.20" font-size="8.0" fill="#222" text-anchor="middle" font-weight="normal"  stroke="#222" stroke-width="0.12">Type of substitutions</text>
<text x="291.60" y="431.70" font-size="6.9" fill="#262626" text-anchor="end" font-weight="normal"  stroke="#262626" stroke-width="0.12">ORF1ab</text>
<line x1="292.9" y1="429.2" x2="294.3" y2="429.2" stroke="#888" stroke-width="0.5"/>
<rect x="294.70" y="425.40" width="13.55" height="7.6" fill="#7cc2d6"/>
<rect x="308.20" y="425.40" width="24.77" height="7.6" fill="#1eab94"/>
<rect x="332.91" y="425.40" width="4.93" height="7.6" fill="#3aaae3"/>
<rect x="337.79" y="425.40" width="10.94" height="7.6" fill="#c9b35b"/>
<rect x="348.68" y="425.40" width="19.24" height="7.6" fill="#f39a1d"/>
<rect x="367.87" y="425.40" width="8.18" height="7.6" fill="#d8a0d0"/>
<text x="291.60" y="441.36" font-size="6.9" fill="#262626" text-anchor="end" font-weight="normal"  stroke="#262626" stroke-width="0.12">S</text>
<line x1="292.9" y1="438.86" x2="294.3" y2="438.86" stroke="#888" stroke-width="0.5"/>
<rect x="294.70" y="435.06" width="13.06" height="7.6" fill="#7cc2d6"/>
<rect x="307.71" y="435.06" width="14.36" height="7.6" fill="#1eab94"/>
<rect x="322.02" y="435.06" width="5.01" height="7.6" fill="#3aaae3"/>
<rect x="326.98" y="435.06" width="18.67" height="7.6" fill="#c9b35b"/>
<rect x="345.59" y="435.06" width="19.48" height="7.6" fill="#f39a1d"/>
<rect x="365.02" y="435.06" width="11.03" height="7.6" fill="#d8a0d0"/>
<text x="291.60" y="451.02" font-size="6.9" fill="#262626" text-anchor="end" font-weight="normal"  stroke="#262626" stroke-width="0.12">ORF3a</text>
<line x1="292.9" y1="448.52" x2="294.3" y2="448.52" stroke="#888" stroke-width="0.5"/>
<rect x="294.70" y="444.72" width="18.42" height="7.6" fill="#7cc2d6"/>
<rect x="313.07" y="444.72" width="62.98" height="7.6" fill="#1eab94"/>
<text x="291.60" y="460.68" font-size="6.9" fill="#262626" text-anchor="end" font-weight="normal"  stroke="#262626" stroke-width="0.12">E</text>
<line x1="292.9" y1="458.18" x2="294.3" y2="458.18" stroke="#888" stroke-width="0.5"/>
<rect x="294.70" y="454.38" width="26.88" height="7.6" fill="#7cc2d6"/>
<rect x="321.53" y="454.38" width="54.52" height="7.6" fill="#1eab94"/>
<text x="291.60" y="470.34" font-size="6.9" fill="#262626" text-anchor="end" font-weight="normal"  stroke="#262626" stroke-width="0.12">M</text>
<line x1="292.9" y1="467.84" x2="294.3" y2="467.84" stroke="#888" stroke-width="0.5"/>
<rect x="294.70" y="464.04" width="7.12" height="7.6" fill="#7cc2d6"/>
<rect x="301.77" y="464.04" width="14.93" height="7.6" fill="#1eab94"/>
<rect x="316.65" y="464.04" width="7.37" height="7.6" fill="#3aaae3"/>
<rect x="323.97" y="464.04" width="44.77" height="7.6" fill="#f39a1d"/>
<rect x="368.68" y="464.04" width="7.37" height="7.6" fill="#d8a0d0"/>
<text x="291.60" y="480.00" font-size="6.9" fill="#262626" text-anchor="end" font-weight="normal"  stroke="#262626" stroke-width="0.12">ORF6</text>
<line x1="292.9" y1="477.5" x2="294.3" y2="477.5" stroke="#888" stroke-width="0.5"/>
<rect x="294.70" y="473.70" width="26.88" height="7.6" fill="#1eab94"/>
<rect x="321.53" y="473.70" width="27.20" height="7.6" fill="#3aaae3"/>
<rect x="348.68" y="473.70" width="27.37" height="7.6" fill="#c9b35b"/>
<text x="291.60" y="489.66" font-size="6.9" fill="#262626" text-anchor="end" font-weight="normal"  stroke="#262626" stroke-width="0.12">ORF7a</text>
<line x1="292.9" y1="487.15999999999997" x2="294.3" y2="487.15999999999997" stroke="#888" stroke-width="0.5"/>
<rect x="294.70" y="483.36" width="17.94" height="7.6" fill="#7cc2d6"/>
<rect x="312.59" y="483.36" width="45.25" height="7.6" fill="#1eab94"/>
<rect x="357.79" y="483.36" width="9.07" height="7.6" fill="#c9b35b"/>
<rect x="366.81" y="483.36" width="9.24" height="7.6" fill="#f39a1d"/>
<text x="291.60" y="499.32" font-size="6.9" fill="#262626" text-anchor="end" font-weight="normal"  stroke="#262626" stroke-width="0.12">ORF7b</text>
<line x1="292.9" y1="496.82" x2="294.3" y2="496.82" stroke="#888" stroke-width="0.5"/>
<rect x="294.70" y="493.02" width="81.35" height="7.6" fill="#1eab94"/>
<text x="291.60" y="508.98" font-size="6.9" fill="#262626" text-anchor="end" font-weight="normal"  stroke="#262626" stroke-width="0.12">ORF8</text>
<line x1="292.9" y1="506.48" x2="294.3" y2="506.48" stroke="#888" stroke-width="0.5"/>
<rect x="294.70" y="502.68" width="54.11" height="7.6" fill="#1eab94"/>
<rect x="348.76" y="502.68" width="27.29" height="7.6" fill="#f39a1d"/>
<text x="291.60" y="518.64" font-size="6.9" fill="#262626" text-anchor="end" font-weight="normal"  stroke="#262626" stroke-width="0.12">N</text>
<line x1="292.9" y1="516.14" x2="294.3" y2="516.14" stroke="#888" stroke-width="0.5"/>
<rect x="294.70" y="512.34" width="14.52" height="7.6" fill="#7cc2d6"/>
<rect x="309.17" y="512.34" width="18.75" height="7.6" fill="#1eab94"/>
<rect x="327.87" y="512.34" width="4.93" height="7.6" fill="#3aaae3"/>
<rect x="332.75" y="512.34" width="28.67" height="7.6" fill="#f39a1d"/>
<rect x="361.37" y="512.34" width="14.68" height="7.6" fill="#d8a0d0"/>
<text x="291.60" y="528.30" font-size="6.9" fill="#262626" text-anchor="end" font-weight="normal"  stroke="#262626" stroke-width="0.12">ORF10</text>
<line x1="292.9" y1="525.8" x2="294.3" y2="525.8" stroke="#888" stroke-width="0.5"/>
<rect x="294.70" y="522.00" width="81.35" height="7.6" fill="#f39a1d"/>
<line x1="294.70" y1="531.4000000000001" x2="294.70" y2="533.0" stroke="#333" stroke-width="0.7"/>
<text x="294.70" y="541.20" font-size="7.3" fill="#262626" text-anchor="middle" font-weight="normal"  stroke="#262626" stroke-width="0.12">0</text>
<line x1="315.02" y1="531.4000000000001" x2="315.02" y2="533.0" stroke="#333" stroke-width="0.7"/>
<text x="315.02" y="541.20" font-size="7.3" fill="#262626" text-anchor="middle" font-weight="normal"  stroke="#262626" stroke-width="0.12">25</text>
<line x1="335.35" y1="531.4000000000001" x2="335.35" y2="533.0" stroke="#333" stroke-width="0.7"/>
<text x="335.35" y="541.20" font-size="7.3" fill="#262626" text-anchor="middle" font-weight="normal"  stroke="#262626" stroke-width="0.12">50</text>
<line x1="355.67" y1="531.4000000000001" x2="355.67" y2="533.0" stroke="#333" stroke-width="0.7"/>
<text x="355.67" y="541.20" font-size="7.3" fill="#262626" text-anchor="middle" font-weight="normal"  stroke="#262626" stroke-width="0.12">75</text>
<line x1="376.00" y1="531.4000000000001" x2="376.00" y2="533.0" stroke="#333" stroke-width="0.7"/>
<text x="376.00" y="541.20" font-size="7.3" fill="#262626" text-anchor="middle" font-weight="normal"  stroke="#262626" stroke-width="0.12">100</text>
<text x="407.90" y="430.50" font-size="6.9" fill="#262626" text-anchor="end" font-weight="normal"  stroke="#262626" stroke-width="0.12">nsp1</text>
<line x1="408.59999999999997" y1="428.0" x2="410.0" y2="428.0" stroke="#888" stroke-width="0.5"/>
<rect x="410.40" y="425.20" width="7.56" height="5.6" fill="#7cc2d6"/>
<rect x="417.91" y="425.20" width="15.48" height="5.6" fill="#1eab94"/>
<rect x="433.35" y="425.20" width="8.86" height="5.6" fill="#3aaae3"/>
<rect x="442.15" y="425.20" width="11.60" height="5.6" fill="#c9b35b"/>
<rect x="453.71" y="425.20" width="20.57" height="5.6" fill="#f39a1d"/>
<rect x="474.23" y="425.20" width="17.02" height="5.6" fill="#d8a0d0"/>
<text x="407.90" y="438.12" font-size="6.9" fill="#262626" text-anchor="end" font-weight="normal"  stroke="#262626" stroke-width="0.12">nsp2</text>
<line x1="408.59999999999997" y1="435.62" x2="410.0" y2="435.62" stroke="#888" stroke-width="0.5"/>
<rect x="410.40" y="432.82" width="64.53" height="5.6" fill="#1eab94"/>
<rect x="474.88" y="432.82" width="16.37" height="5.6" fill="#f39a1d"/>
<text x="407.90" y="445.74" font-size="6.9" fill="#262626" text-anchor="end" font-weight="normal"  stroke="#262626" stroke-width="0.12">nsp3</text>
<line x1="408.59999999999997" y1="443.24" x2="410.0" y2="443.24" stroke="#888" stroke-width="0.5"/>
<rect x="410.40" y="440.44" width="9.75" height="5.6" fill="#7cc2d6"/>
<rect x="420.10" y="440.44" width="17.99" height="5.6" fill="#1eab94"/>
<rect x="438.03" y="440.44" width="5.54" height="5.6" fill="#3aaae3"/>
<rect x="443.53" y="440.44" width="12.17" height="5.6" fill="#c9b35b"/>
<rect x="455.65" y="440.44" width="25.34" height="5.6" fill="#f39a1d"/>
<rect x="480.94" y="440.44" width="10.31" height="5.6" fill="#d8a0d0"/>
<text x="407.90" y="453.36" font-size="6.9" fill="#262626" text-anchor="end" font-weight="normal"  stroke="#262626" stroke-width="0.12">nsp4</text>
<line x1="408.59999999999997" y1="450.86" x2="410.0" y2="450.86" stroke="#888" stroke-width="0.5"/>
<rect x="410.40" y="448.06" width="9.75" height="5.6" fill="#7cc2d6"/>
<rect x="420.10" y="448.06" width="47.40" height="5.6" fill="#1eab94"/>
<rect x="467.44" y="448.06" width="4.41" height="5.6" fill="#c9b35b"/>
<rect x="471.81" y="448.06" width="19.44" height="5.6" fill="#f39a1d"/>
<text x="407.90" y="460.98" font-size="6.9" fill="#262626" text-anchor="end" font-weight="normal"  stroke="#262626" stroke-width="0.12">3CL-PRO</text>
<line x1="408.59999999999997" y1="458.48" x2="410.0" y2="458.48" stroke="#888" stroke-width="0.5"/>
<rect x="410.40" y="455.68" width="11.60" height="5.6" fill="#7cc2d6"/>
<rect x="421.95" y="455.68" width="34.55" height="5.6" fill="#1eab94"/>
<rect x="456.46" y="455.68" width="23.48" height="5.6" fill="#f39a1d"/>
<rect x="479.89" y="455.68" width="11.36" height="5.6" fill="#d8a0d0"/>
<text x="407.90" y="468.60" font-size="6.9" fill="#262626" text-anchor="end" font-weight="normal"  stroke="#262626" stroke-width="0.12">nsp6</text>
<line x1="408.59999999999997" y1="466.1" x2="410.0" y2="466.1" stroke="#888" stroke-width="0.5"/>
<rect x="410.40" y="463.30" width="26.55" height="5.6" fill="#7cc2d6"/>
<rect x="436.90" y="463.30" width="13.38" height="5.6" fill="#1eab94"/>
<rect x="450.23" y="463.30" width="7.32" height="5.6" fill="#3aaae3"/>
<rect x="457.51" y="463.30" width="23.48" height="5.6" fill="#c9b35b"/>
<rect x="480.94" y="463.30" width="7.48" height="5.6" fill="#f39a1d"/>
<rect x="488.37" y="463.30" width="2.88" height="5.6" fill="#d8a0d0"/>
<text x="407.90" y="476.22" font-size="6.9" fill="#262626" text-anchor="end" font-weight="normal"  stroke="#262626" stroke-width="0.12">nsp8</text>
<line x1="408.59999999999997" y1="473.72" x2="410.0" y2="473.72" stroke="#888" stroke-width="0.5"/>
<rect x="410.40" y="470.92" width="80.85" height="5.6" fill="#1eab94"/>
<text x="407.90" y="483.84" font-size="6.9" fill="#262626" text-anchor="end" font-weight="normal"  stroke="#262626" stroke-width="0.12">nsp9</text>
<line x1="408.59999999999997" y1="481.34000000000003" x2="410.0" y2="481.34000000000003" stroke="#888" stroke-width="0.5"/>
<rect x="410.40" y="478.54" width="80.85" height="5.6" fill="#d8a0d0"/>
<text x="407.90" y="491.46" font-size="6.9" fill="#262626" text-anchor="end" font-weight="normal"  stroke="#262626" stroke-width="0.12">nsp10</text>
<line x1="408.59999999999997" y1="488.96" x2="410.0" y2="488.96" stroke="#888" stroke-width="0.5"/>
<rect x="410.40" y="486.16" width="80.85" height="5.6" fill="#f39a1d"/>
<text x="407.90" y="499.08" font-size="6.9" fill="#262626" text-anchor="end" font-weight="normal"  stroke="#262626" stroke-width="0.12">Hel</text>
<line x1="408.59999999999997" y1="496.58" x2="410.0" y2="496.58" stroke="#888" stroke-width="0.5"/>
<rect x="410.40" y="493.78" width="26.55" height="5.6" fill="#7cc2d6"/>
<rect x="436.90" y="493.78" width="45.06" height="5.6" fill="#1eab94"/>
<rect x="481.91" y="493.78" width="9.34" height="5.6" fill="#f39a1d"/>
<text x="407.90" y="506.70" font-size="6.9" fill="#262626" text-anchor="end" font-weight="normal"  stroke="#262626" stroke-width="0.12">ExoN</text>
<line x1="408.59999999999997" y1="504.2" x2="410.0" y2="504.2" stroke="#888" stroke-width="0.5"/>
<rect x="410.40" y="501.40" width="24.61" height="5.6" fill="#7cc2d6"/>
<rect x="434.96" y="501.40" width="43.68" height="5.6" fill="#1eab94"/>
<rect x="478.60" y="501.40" width="12.65" height="5.6" fill="#f39a1d"/>
<text x="407.90" y="514.32" font-size="6.9" fill="#262626" text-anchor="end" font-weight="normal"  stroke="#262626" stroke-width="0.12">nsp15</text>
<line x1="408.59999999999997" y1="511.82" x2="410.0" y2="511.82" stroke="#888" stroke-width="0.5"/>
<rect x="410.40" y="509.02" width="26.55" height="5.6" fill="#7cc2d6"/>
<rect x="436.90" y="509.02" width="40.77" height="5.6" fill="#1eab94"/>
<rect x="477.63" y="509.02" width="13.62" height="5.6" fill="#f39a1d"/>
<text x="407.90" y="521.94" font-size="6.9" fill="#262626" text-anchor="end" font-weight="normal"  stroke="#262626" stroke-width="0.12">nsp16</text>
<line x1="408.59999999999997" y1="519.44" x2="410.0" y2="519.44" stroke="#888" stroke-width="0.5"/>
<rect x="410.40" y="516.64" width="50.55" height="5.6" fill="#1eab94"/>
<rect x="460.90" y="516.64" width="30.35" height="5.6" fill="#f39a1d"/>
<text x="407.90" y="529.56" font-size="6.9" fill="#262626" text-anchor="end" font-weight="normal"  stroke="#262626" stroke-width="0.12">Pol</text>
<line x1="408.59999999999997" y1="527.06" x2="410.0" y2="527.06" stroke="#888" stroke-width="0.5"/>
<rect x="410.40" y="524.26" width="20.65" height="5.6" fill="#7cc2d6"/>
<rect x="431.00" y="524.26" width="29.95" height="5.6" fill="#1eab94"/>
<rect x="460.90" y="524.26" width="3.20" height="5.6" fill="#3aaae3"/>
<rect x="464.05" y="524.26" width="2.96" height="5.6" fill="#c9b35b"/>
<rect x="466.96" y="524.26" width="21.06" height="5.6" fill="#f39a1d"/>
<rect x="487.97" y="524.26" width="3.28" height="5.6" fill="#d8a0d0"/>
<line x1="410.40" y1="531.8000000000001" x2="410.40" y2="533.4" stroke="#333" stroke-width="0.7"/>
<text x="410.40" y="541.60" font-size="7.3" fill="#262626" text-anchor="middle" font-weight="normal"  stroke="#262626" stroke-width="0.12">0</text>
<line x1="430.60" y1="531.8000000000001" x2="430.60" y2="533.4" stroke="#333" stroke-width="0.7"/>
<text x="430.60" y="541.60" font-size="7.3" fill="#262626" text-anchor="middle" font-weight="normal"  stroke="#262626" stroke-width="0.12">25</text>
<line x1="450.80" y1="531.8000000000001" x2="450.80" y2="533.4" stroke="#333" stroke-width="0.7"/>
<text x="450.80" y="541.60" font-size="7.3" fill="#262626" text-anchor="middle" font-weight="normal"  stroke="#262626" stroke-width="0.12">50</text>
<line x1="471.00" y1="531.8000000000001" x2="471.00" y2="533.4" stroke="#333" stroke-width="0.7"/>
<text x="471.00" y="541.60" font-size="7.3" fill="#262626" text-anchor="middle" font-weight="normal"  stroke="#262626" stroke-width="0.12">75</text>
<line x1="491.20" y1="531.8000000000001" x2="491.20" y2="533.4" stroke="#333" stroke-width="0.7"/>
<text x="491.20" y="541.60" font-size="7.3" fill="#262626" text-anchor="middle" font-weight="normal"  stroke="#262626" stroke-width="0.12">100</text>
<rect x="508.6" y="441.90" width="4.6" height="4.6" fill="#d8a0d0"/>
<text x="515.00" y="446.50" font-size="6.4" fill="#333" text-anchor="start" font-weight="normal"  stroke="#333" stroke-width="0.12">A_C</text>
<rect x="508.6" y="448.70" width="4.6" height="4.6" fill="#f39a1d"/>
<text x="515.00" y="453.30" font-size="6.4" fill="#333" text-anchor="start" font-weight="normal"  stroke="#333" stroke-width="0.12">A_G</text>
<rect x="508.6" y="455.50" width="4.6" height="4.6" fill="#c9b35b"/>
<text x="515.00" y="460.10" font-size="6.4" fill="#333" text-anchor="start" font-weight="normal"  stroke="#333" stroke-width="0.12">A_T</text>
<rect x="508.6" y="462.30" width="4.6" height="4.6" fill="#a6cc3a"/>
<text x="515.00" y="466.90" font-size="6.4" fill="#333" text-anchor="start" font-weight="normal"  stroke="#333" stroke-width="0.12">C_A</text>
<rect x="508.6" y="469.10" width="4.6" height="4.6" fill="#3aaae3"/>
<text x="515.00" y="473.70" font-size="6.4" fill="#333" text-anchor="start" font-weight="normal"  stroke="#333" stroke-width="0.12">C_G</text>
<rect x="508.6" y="475.90" width="4.6" height="4.6" fill="#1eab94"/>
<text x="515.00" y="480.50" font-size="6.4" fill="#333" text-anchor="start" font-weight="normal"  stroke="#333" stroke-width="0.12">C_T</text>
<rect x="508.6" y="482.70" width="4.6" height="4.6" fill="#3aa23a"/>
<text x="515.00" y="487.30" font-size="6.4" fill="#333" text-anchor="start" font-weight="normal"  stroke="#333" stroke-width="0.12">G_A</text>
<rect x="508.6" y="489.50" width="4.6" height="4.6" fill="#9fd6e0"/>
<text x="515.00" y="494.10" font-size="6.4" fill="#333" text-anchor="start" font-weight="normal"  stroke="#333" stroke-width="0.12">G_C</text>
<rect x="508.6" y="496.30" width="4.6" height="4.6" fill="#7cc2d6"/>
<text x="515.00" y="500.90" font-size="6.4" fill="#333" text-anchor="start" font-weight="normal"  stroke="#333" stroke-width="0.12">G_T</text>
<rect x="508.6" y="503.10" width="4.6" height="4.6" fill="#8c78b8"/>
<text x="515.00" y="507.70" font-size="6.4" fill="#333" text-anchor="start" font-weight="normal"  stroke="#333" stroke-width="0.12">T_A</text>
<rect x="508.6" y="509.90" width="4.6" height="4.6" fill="#b05ca8"/>
<text x="515.00" y="514.50" font-size="6.4" fill="#333" text-anchor="start" font-weight="normal"  stroke="#333" stroke-width="0.12">T_C</text>
<rect x="508.6" y="516.70" width="4.6" height="4.6" fill="#e0559c"/>
<text x="515.00" y="521.30" font-size="6.4" fill="#333" text-anchor="start" font-weight="normal"  stroke="#333" stroke-width="0.12">T_G</text>
</svg>
</body></html>
